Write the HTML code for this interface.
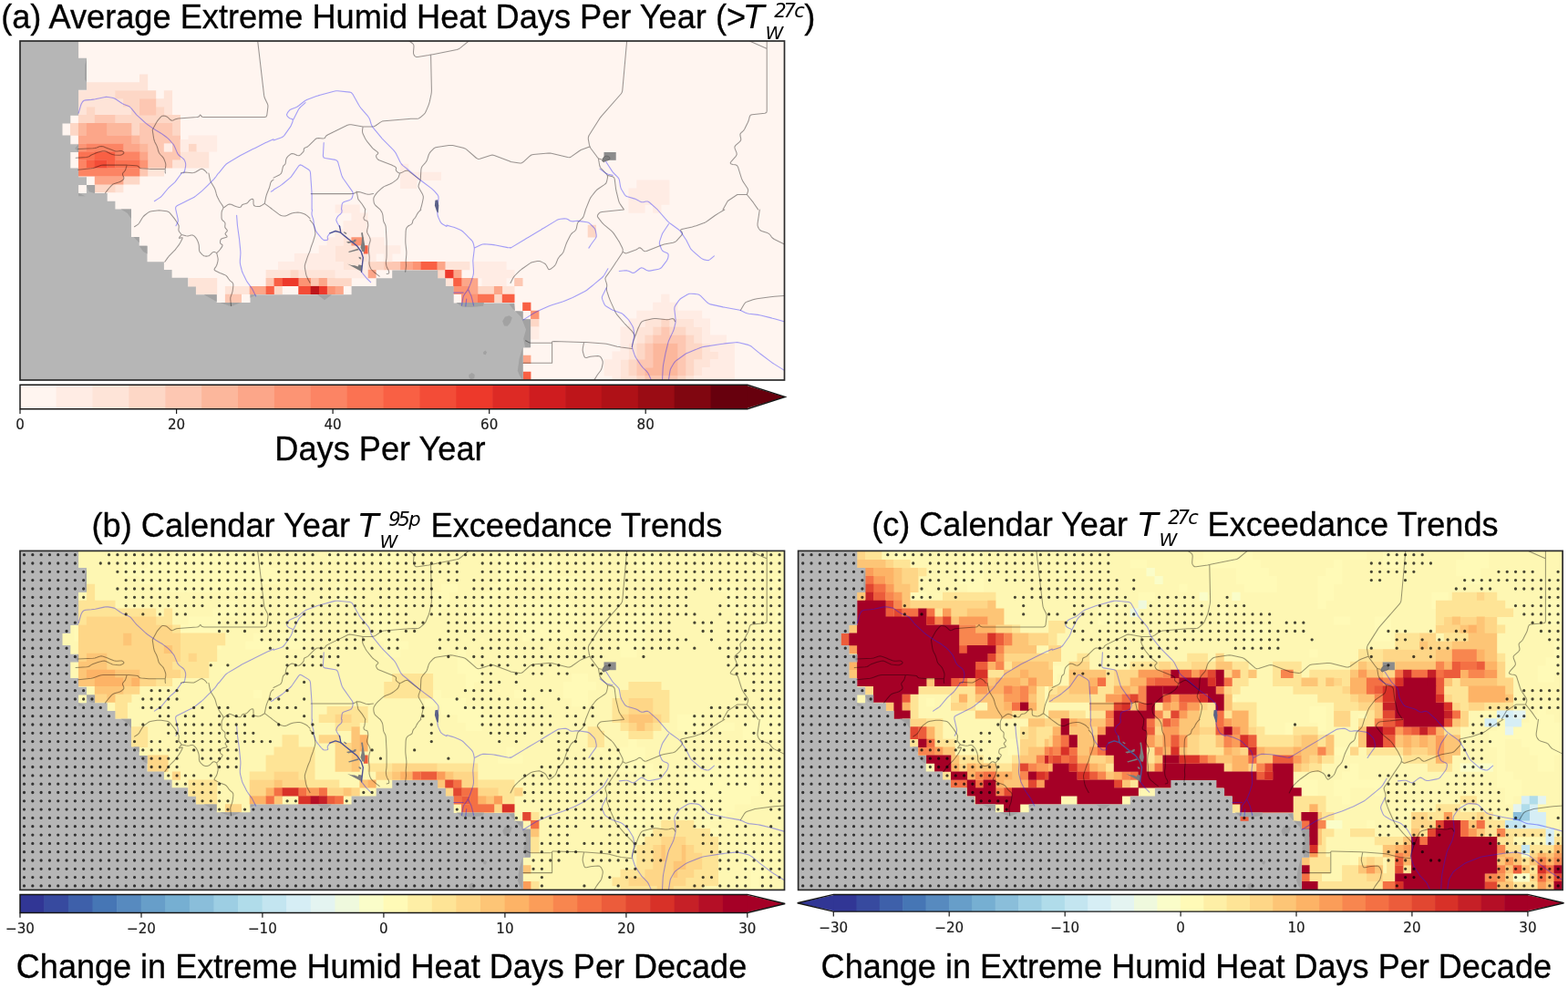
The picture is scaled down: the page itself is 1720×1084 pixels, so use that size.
<!DOCTYPE html>
<html lang="en"><head><meta charset="utf-8"><title>Extreme humid heat days</title>
<style>
html,body{margin:0;padding:0;background:#fff}
svg{display:block}
.t{font-family:"Liberation Sans",Arial,Helvetica,sans-serif;font-size:36.2px;fill:#000;stroke:#000;stroke-width:.3px}
.m{font-family:"DejaVu Sans","Liberation Sans",sans-serif;font-style:italic;fill:#000;stroke:none}
.k{font-family:"DejaVu Sans","Liberation Sans",sans-serif;font-size:15.1px;fill:#1c1c1c;stroke:#1c1c1c;stroke-width:.2px;text-anchor:middle}
.fr{fill:none;stroke:#2b2b2b;stroke-width:1.7}
.oc{fill:#b6b6b6}
.bd{fill:none;stroke:#000;stroke-opacity:.4;stroke-width:1.05;stroke-linejoin:round;stroke-linecap:round}
.rv{fill:none;stroke:#1a1aff;stroke-opacity:.4;stroke-width:1.1;stroke-linejoin:round;stroke-linecap:round}
.dt{fill:none;stroke:#000;stroke-opacity:.72;stroke-width:3.3;stroke-linecap:round}
</style></head><body>
<svg width="1720" height="1084" viewBox="0 0 1720 1084">
<rect width="1720" height="1084" fill="#fff"/>
<defs><clipPath id="cp"><rect x="22" y="45" width="838.5" height="372"/></clipPath></defs>
<text class="t" x="1.2" y="31.2">(a) Average Extreme Humid Heat Days Per Year (&gt;<tspan class="m" x="816.5" y="31.2" font-size="36">T</tspan><tspan class="m" x="839.5" y="42.5" font-size="20">W</tspan><tspan class="m" x="849.3 859.5 871.3" y="18.7" font-size="21">27c</tspan><tspan x="882.3" y="31.2">)</tspan></text>
<text class="t" x="100.5" y="589.2">(b) Calendar Year <tspan class="m" x="393.5" y="589.2" font-size="36">T</tspan><tspan class="m" x="416.5" y="600.5" font-size="20">W</tspan><tspan class="m" x="426.3 436.5 448.3" y="576.7" font-size="21">95p</tspan><tspan x="472.5" y="589.2">Exceedance Trends</tspan></text>
<text class="t" style="font-size:36.1px" x="956.2" y="587.8">(c) Calendar Year <tspan class="m" x="1248.5" y="587.8" font-size="36">T</tspan><tspan class="m" x="1271.5" y="599.1" font-size="20">W</tspan><tspan class="m" x="1281.3 1291.5 1303.3" y="575.3" font-size="21">27c</tspan><tspan x="1324.6" y="587.8">Exceedance Trends</tspan></text>
<text class="t" x="301.3" y="505.3">Days Per Year</text>
<text class="t" style="font-size:36.05px" x="17.8" y="1073.2">Change in Extreme Humid Heat Days Per Decade</text>
<text class="t" style="font-size:36.05px" x="900.6" y="1073.2">Change in Extreme Humid Heat Days Per Decade</text>
<g id="map-a" transform="translate(0,0)">
<g clip-path="url(#cp)">
<rect x="22" y="45" width="838.5" height="372" fill="#fff5f0"/>
<path fill="#fee4d8" d="M85.9,117.2H95.2V126.4H85.9ZM85.9,99.3H126.5V108.5H85.9ZM85.9,108.2H135.4V117.5H85.9ZM94.9,90.3H162.2V99.6H94.9ZM103.8,117.2H144.4V126.4H103.8ZM126.2,202.1H135.4V211.3H126.2ZM153,81.4H162.2V90.6H153ZM161.9,184.2H180.1V193.5H161.9ZM170.9,108.2H189.1V117.5H170.9ZM179.8,99.3H189.1V108.5H179.8ZM179.8,117.2H189.1V126.4H179.8ZM188.8,175.3H229.3V184.5H188.8ZM197.7,166.3H229.3V175.6H197.7ZM206.6,304.9H238.2V323.1H206.6ZM246.9,313.9H274V323.1H246.9ZM291.6,296H318.7V305.2H291.6ZM327.3,296H367.9V305.2H327.3ZM367.6,269.2H394.7V278.4H367.6ZM367.6,278.1H403.6V287.3H367.6ZM376.5,260.2H385.7V269.4H376.5ZM376.5,287H394.7V296.3H376.5ZM488.2,304.9H497.5V314.1H488.2ZM488.2,287H515.4V296.3H488.2ZM550.8,313.9H564.5V323.1H550.8ZM680.5,394.3H689.7V412.5H680.5ZM680.5,412.2H698.6V418.1H680.5ZM689.4,376.4H698.6V394.6H689.4ZM698.3,367.5H707.6V376.7H698.3ZM698.3,358.6H716.5V367.8H698.3ZM707.3,349.6H725.5V358.8H707.3ZM734.1,349.6H761.2V358.8H734.1ZM752,412.2H761.2V418.1H752ZM752,358.6H770.2V367.8H752ZM760.9,367.5H770.2V376.7H760.9ZM760.9,403.2H770.2V412.5H760.9ZM760.9,394.3H779.1V403.5H760.9ZM769.9,376.4H779.1V385.7H769.9ZM769.9,385.4H788V394.6H769.9Z"/>
<path fill="#fdd7c6" d="M77,135H86.2V148.8H77ZM85.9,126.1H104.1V135.3H85.9ZM94.9,117.2H104.1V126.4H94.9ZM103.8,202.1H126.5V211.3H103.8ZM126.2,99.3H171.2V108.5H126.2ZM126.2,126.1H198V135.3H126.2ZM135.1,108.2H153.3V117.5H135.1ZM135.1,193.2H153.3V202.4H135.1ZM144.1,117.2H153.3V126.4H144.1ZM144.1,135H153.3V148.8H144.1ZM170.9,117.2H180.1V126.4H170.9ZM188.8,135H198V148.8H188.8ZM206.6,157.4H215.9V166.6H206.6ZM300.5,313.9H309.8V323.1H300.5ZM318.4,296H327.6V305.2H318.4ZM358.6,304.9H385.7V314.1H358.6ZM403.3,287H421.5V296.3H403.3ZM479.3,296H488.5V305.2H479.3ZM524,313.9H542.2V323.1H524ZM541.9,322.8H551.1V332H541.9ZM582.1,349.6H591.4V358.8H582.1ZM644.7,246.8H653.9V260.5H644.7ZM689.4,394.3H698.6V412.5H689.4ZM698.3,376.4H707.6V394.6H698.3ZM698.3,412.2H707.6V418.1H698.3ZM707.3,367.5H716.5V376.7H707.3ZM716.2,358.6H725.5V367.8H716.2ZM725.2,349.6H734.4V358.8H725.2ZM734.1,358.6H752.3V367.8H734.1ZM743,412.2H752.3V418.1H743ZM752,367.5H761.2V376.7H752ZM752,394.3H761.2V412.5H752ZM752,376.4H770.2V394.6H752Z"/>
<path fill="#fdc7b2" d="M103.8,126.1H126.5V135.3H103.8ZM153,184.2H162.2V193.5H153ZM153,108.2H171.2V126.4H153ZM153,135H189.1V148.8H153ZM153,148.5H198V157.7H153ZM161.9,157.4H180.1V166.6H161.9ZM161.9,175.3H189.1V184.5H161.9ZM161.9,166.3H198V175.6H161.9ZM188.8,157.4H198V166.6H188.8ZM246.9,322.8H265V332H246.9ZM291.6,304.9H300.8V314.1H291.6ZM340.7,304.9H350V314.1H340.7ZM421.2,287H439.4V296.3H421.2ZM564.2,304.9H573.5V314.1H564.2ZM698.3,403.2H707.6V412.5H698.3ZM698.3,394.3H716.5V403.5H698.3ZM707.3,376.4H716.5V394.6H707.3ZM707.3,412.2H743.3V418.1H707.3ZM716.2,367.5H752.3V376.7H716.2ZM725.2,358.6H734.4V367.8H725.2ZM743,376.4H752.3V412.5H743Z"/>
<path fill="#fcb79c" d="M85.9,135H95.2V148.8H85.9ZM117.2,135H144.4V148.8H117.2ZM144.1,148.5H153.3V157.7H144.1ZM153,157.4H162.2V166.6H153ZM707.3,403.2H743.3V412.5H707.3ZM716.2,376.4H743.3V403.5H716.2Z"/>
<path fill="#fca689" d="M85.9,148.5H144.4V157.7H85.9ZM94.9,135H117.5V148.8H94.9ZM103.8,193.2H135.4V202.4H103.8ZM135.1,157.4H153.3V166.6H135.1ZM153,166.3H162.2V175.6H153ZM273.7,313.9H291.9V323.1H273.7ZM349.7,304.9H358.9V314.1H349.7ZM367.6,313.9H376.8V323.1H367.6ZM403.3,296H412.6V305.2H403.3ZM439.1,287H452.8V296.3H439.1ZM479.3,287H488.5V296.3H479.3ZM497.2,296H506.4V305.2H497.2ZM506.1,304.9H524.3V314.1H506.1ZM515.1,313.9H524.3V323.1H515.1ZM541.9,313.9H551.1V323.1H541.9ZM573.2,389.8H582.4V399.1H573.2Z"/>
<path fill="#ffece4" d="M63.6,152.9H77.3V157.7H63.6ZM63.6,166.3H77.3V180H63.6ZM63.6,157.4H86.2V166.6H63.6ZM72.5,148.5H77.3V153.2H72.5ZM179.8,157.4H189.1V166.6H179.8ZM197.7,157.4H206.9V166.6H197.7ZM197.7,152.9H238.2V157.7H197.7ZM206.6,148.5H238.2V153.2H206.6ZM215.6,157.4H238.2V166.6H215.6ZM305,287H376.8V296.3H305ZM322.9,278.1H367.9V287.3H322.9ZM349.7,269.2H367.9V278.4H349.7ZM358.6,260.2H376.8V269.4H358.6ZM367.6,224.4H394.7V233.7H367.6ZM367.6,251.3H403.6V260.5H367.6ZM367.6,296H403.6V305.2H367.6ZM376.5,242.3H403.6V251.6H376.5ZM385.4,233.4H403.6V242.6H385.4ZM394.4,269.2H399.1V278.4H394.4ZM394.4,287H403.6V296.3H394.4ZM398.9,260.2H421.5V269.4H398.9ZM403.3,278.1H412.6V287.3H403.3ZM403.3,269.2H439.4V278.4H403.3ZM421.2,278.1H430.4V287.3H421.2ZM439.1,179.7H448.3V189H439.1ZM439.1,197.6H457.3V206.9H439.1ZM439.1,188.7H484.1V197.9H439.1ZM519.5,287H555.6V296.3H519.5ZM519.5,296H564.5V305.2H519.5ZM528.5,304.9H555.6V314.1H528.5ZM582.1,358.6H591.4V372.3H582.1ZM662.6,394.3H680.8V412.5H662.6ZM671.5,412.2H680.8V418.1H671.5ZM671.5,385.4H689.7V394.6H671.5ZM680.5,376.4H689.7V385.7H680.5ZM680.5,358.6H698.6V376.7H680.5ZM689.4,224.4H707.6V233.7H689.4ZM689.4,349.6H707.6V358.8H689.4ZM689.4,206.6H734.4V224.8H689.4ZM698.3,197.6H734.4V206.9H698.3ZM698.3,340.7H770.2V349.9H698.3ZM716.2,224.4H725.5V233.7H716.2ZM716.2,331.7H743.3V341H716.2ZM725.2,322.8H734.4V332H725.2ZM760.9,349.6H779.1V358.8H760.9ZM760.9,412.2H805.9V418.1H760.9ZM769.9,358.6H779.1V367.8H769.9ZM769.9,367.5H797V376.7H769.9ZM769.9,403.2H805.9V412.5H769.9ZM778.8,376.4H805.9V385.7H778.8ZM778.8,394.3H805.9V403.5H778.8ZM787.7,385.4H805.9V394.6H787.7Z"/>
<path fill="#fc9474" d="M85.9,157.4H95.2V166.6H85.9ZM153,175.3H162.2V184.5H153ZM327.3,304.9H341V314.1H327.3ZM358.6,313.9H367.9V323.1H358.6ZM385.4,260.2H399.1V269.4H385.4ZM452.5,287H461.7V296.3H452.5ZM497.2,313.9H515.4V323.1H497.2ZM506.1,322.8H524.3V332H506.1ZM582.1,340.7H591.4V349.9H582.1Z"/>
<path fill="#fc8464" d="M85.9,175.3H95.2V184.5H85.9ZM85.9,184.2H153.3V193.5H85.9ZM94.9,157.4H135.4V166.6H94.9ZM126.2,166.3H153.3V175.6H126.2Z"/>
<path fill="#fb7252" d="M85.9,166.3H104.1V175.6H85.9ZM126.2,175.3H153.3V184.5H126.2ZM524,322.8H542.2V332H524Z"/>
<path fill="#f96044" d="M94.9,175.3H104.1V184.5H94.9ZM103.8,166.3H126.5V175.6H103.8ZM117.2,175.3H126.5V184.5H117.2ZM291.6,313.9H300.8V323.1H291.6ZM300.5,304.9H309.8V314.1H300.5ZM398.9,269.2H403.6V278.4H398.9ZM461.4,287H479.6V296.3H461.4ZM497.2,304.9H506.4V314.1H497.2ZM550.8,322.8H564.5V332H550.8ZM573.2,331.7H582.4V341H573.2ZM573.2,407.7H582.4V417H573.2Z"/>
<path fill="#f34c37" d="M103.8,175.3H117.5V184.5H103.8ZM327.3,313.9H341V323.1H327.3Z"/>
<path fill="#ed392b" d="M309.5,304.9H327.6V314.1H309.5ZM349.7,313.9H358.9V323.1H349.7ZM488.2,296H497.5V305.2H488.2Z"/>
<path fill="#be151a" d="M340.7,313.9H350V323.1H340.7Z"/>
<path class="oc" d="M20,45 H86.1 V63.7 H95 V98.7 H86.1 V126.7 H77.3 V135.5 H68.5 V148.6 H77.3 V158.3 H86.1 V167 H77.3 V184.6 H86.1 V194.3 H95 V203.1 H86.1 V211.9 H94.9 V203.1 H103.7 V211.9 H117.7 V220.7 H126.4 V229.4 H144 V260.1 H152.7 V269.7 H161.5 V287.2 H179.9 V296 H188.6 V304.8 H206.2 V314.4 H214.9 V323.2 H237.7 V331.9 H274.5 V323.2 H385.6 V314.1 H412.7 V305.3 H430.2 V296.6 H480.2 V305.3 H488.9 V314.1 H497.7 V332.5 H564.3 V341.3 H573.9 V350 H581.8 V381.6 H573.9 V417 H20 Z"/>
<path d="M564.1,332.9L565,341.2L573.3,342.1L573.3,350.4L582.1,350.4L582.1,380.9L576.1,380.9L574.2,371.7L577,361.5L571.5,347.7L562.3,338.5L558.6,333.8ZM573.3,380.9L569.6,393.8L567.8,406.7L570.1,412.3L573.3,416.9ZM500.4,332L530.9,332L530,335.7L518,337.1L506.9,336.6ZM551.2,352.3L553.9,347.7L558.6,346.3L561.8,348.6L559.9,354.1L556.7,357.8L553,357.4ZM530,386.4L532.3,384.6L534.1,386.4L532.7,389.2L530.4,388.7ZM514.3,411.3L517.5,409L520.7,410.9L520.3,415L516.6,416.4L514.3,414.1ZM132.6,229.4L144,229.4L144,239.9L139.6,233.8ZM146.6,260.1L152.7,260.1L152.7,266.2ZM152.7,269.7L161.5,269.7L161.5,278.5L157.1,275.9ZM223.7,323.2L237.7,323.2L237.7,331.1ZM274.5,323.2L281.5,323.2L274.5,326.7ZM241.2,331.9L264,331.9L253.5,336.3ZM348.1,323.2L363.9,323.2L356,329.3ZM94.9,204L102.8,204L103.7,211.9L97.5,210.2ZM95,64.5L95,89.9L93.1,87.3L93.2,71.5ZM86.1,158.3L86.1,167L82.2,162.7ZM95,203L104.1,203L104.1,211.7L98.9,210.8ZM86.1,211.7L86.1,215.2L93.6,215.2Z" fill="#a2a2a2"/>
<path class="bd" d="M448.1,44.4L452.4,47.5L453.7,49L454,51L453.5,57.1L453.6,59L454.2,60.4L455.1,61.6L456.3,62.4L458.1,62.4L470.4,60.5L472.6,60.1L474.8,59.7L501.1,54.4L503.1,53.8L504.9,52.6L513.8,45.3M472.6,60.2L473.4,99.1L473.3,101.3L473,103.5L471.3,111.4L470.7,113.6L470,115.6L467.3,122.1L466.3,124L464.8,125.6L461.1,128.8L459.3,129.9L457.3,130.2L452.9,130.2L450.7,130.3L448.5,130.4L421.3,132.7L419.2,133.1L417.3,134.1L412.2,137.7L410.3,138.7L408.2,139L398.1,139M398.1,139L385.4,136.8L383.3,136.7L381.2,137.3L359.8,147.7L358.2,148.7L357.2,149.8L356.6,151L355.7,151.8L353.9,151.9L349.5,151.5L347.5,151.7L345.8,152.8L339.2,159.3L337.7,160.7L336.2,161.5L334.7,162.1L333.7,162.8L333.3,163.8L333.3,165L332.9,166.3L331.7,167.7L329.6,169.9L327.9,170.8L326,170.5L322.2,168.8L320.2,168.5L318.5,169.3L315.7,171.7L314.4,173.4L313.7,175.4L313.4,178L313,179.8L312.3,180.8L311.4,181.4L310.6,182.3L310.1,184.1L309.2,188.5L308.4,190.4L306.8,191.7L300,195.1M398.1,139L397.5,143.1L397.6,145.1L398.2,147.1L400.6,151.9L401.7,153.8L403,155.6L407.3,160.9L408.7,162.6L410.4,164L413.9,166.6L414.9,167.8L414.5,168.8L413.3,169.7L412.6,170.7L412.7,172L413.3,173.5L414.3,174.8L415.9,175.7L427.6,180.3L429.6,181.1L431.4,181.9L433.2,182.8L434.4,183.8L434.6,184.8L434.3,186L434.5,187.2L435.5,188.3L437,189.5L438.5,190.1L440.3,189.6L444.4,187.4L446.3,186.9L448.1,187.6L461.2,197.7M438.4,190.7L437.3,194.2L436.4,195.8L434.9,197.3L431.4,199.9L429.6,201.1L427.6,202L422.9,203.9L421,204.9L419.2,206.2L415.6,209.4L414,210.9L412.6,212.6L410.8,215.2L409.9,217.1L409.8,219.2L410.1,221.8L410.7,223.8L412,225.5L417,229.9M461.2,197.7L461.9,185.9L462.4,183.8L463.5,182L466.8,178.3L468,176.6L468.8,174.6L470.2,170L471.1,168.1L472.4,166.4L475.4,163.3L477.1,162.1L479.2,161.5L492.3,159.5L494.5,159.4L496.6,159.6L508.1,162.2L510.1,162.9L511.9,164.1L522.6,173.5L524.4,174.4L526.4,174.2L538,170.4L540,170L542.1,170.5L560,177.3M461.2,197.7L459.3,202.7L459,204.7L459.7,206.6L463.6,213.3L464.3,215.3L464.3,217.4L463.4,221.8L462.9,223.9L462.4,226L461.2,229.9M341.2,212.6L385.4,212.6L387.5,212.4L389.3,211.7L391.1,210.8L393,210.4L395,210.7L401.3,212.8L403.4,213.2L405.4,213.2L409.5,212.6M391.1,210L392.9,218.7L397.2,224L400.9,229.9M687.6,45.3L682.8,99.1L682.3,101.2L681.2,103L659.6,127.7L658.2,129.4L657,131.2L646.1,148.5L645.4,150.5L645.3,152.6L646.4,158.7L647,160.8L648,162.7L655.1,172.3L656.3,173.7L657.5,174.3L659.9,174.9M560,177.6L570.1,179L572.1,178.9L573.9,177.8L581.2,171.2L582.9,170L585,169.5L601.6,168.1L603.8,168.1L605.9,168.4L622.7,172.6L624.7,172.7L626.6,171.9L635.3,165.7L637.2,164.5L639.2,163.7L646.7,160.9M656.4,174L657.7,181.5L658.4,183.5L659.7,185.2L665.3,190.9L666.4,192.6L666.5,194.6L665.6,199L664.8,201L663.3,202.4L656.5,207L654.7,208.3L653.2,209.9L649,215.3L647.7,217.1L646.8,219L642.4,229.9M666.9,192.4L671.8,193.7L673.4,194.6L674.2,196.4L675.4,206L675.7,208.2L676.2,210.3L678.6,220.1L679.3,222.2L680.4,224.1L684.4,229.9M841.2,45.3L841.2,121.9L840.7,123.6L839,124.3L825,125.7L823.2,126.3L822.3,128L821.6,130.7L821,132.8L820.1,134.8L816.8,141.4L815.7,143.2L814.4,144.5L812.9,145.7L811.9,147.1L812,149L812.7,151.8L812.7,153.7L811.6,155.4L807,159.4L805.9,161L806.1,162.9L808,167.6L808.2,169.6L807.3,171.3L802.4,176.8L801.4,178.2L801.2,179L801.5,179.6L802.3,180.1L804,180.5L806.6,180.8L808.4,181.5L809.5,183.2L813.4,195.6L814.2,197.6L815.2,199.4L816.4,201.2L817.6,203L818.7,204.7L819.9,206.5L820.6,208.2L820.5,209.9L819.3,213.5M819.3,213.5L808.8,213.5L798.3,220.5L793,229.9M819.3,213.5L826.3,222.2L831.6,229.9M822.8,45.3L840.4,53.1L841.2,53.1M642.4,230L640.4,236.7L639.5,238.6L638.1,240.2L635.3,242.6L633.9,244.2L633.2,246.2L632.3,250.6L631.5,252.5L630.1,253.9L628.3,255.1L626.8,256.5L625.6,258.3L622.3,264.8L621.4,266.8L620.6,268.9L618.5,275.2L617.6,277.2L616.3,278.9L614.1,281L612.8,282.7L611.7,284.6L609.9,289.3L608.8,291.1L607.3,292.6L603.8,295.3L602.2,295.8L601.1,294.6L599.5,291.5L598.3,289.8L596.6,288.6L593.5,287.1L591.5,286.4L589.4,286.5L584.9,287.4L582.9,288L581,289.1L572.3,295.3L570.6,296.7L569,298.1L565.1,302L563.6,303.7L562.5,305.6L560,310.6M684.4,230L660.3,232.4L658.4,232.9L657,234.1L655.8,235.6L655.3,237.1L656,238.7L660.3,244.1L661.7,245.7L663.3,247.2L670.5,253.1L672,254.6L673.4,256.4L677.9,263.2L679.1,265.1L680.1,267L682.5,271.8L683.2,273.6L683.2,275L682.7,277.3M683.5,276.4L685.3,277.6L686.5,277.9L688.2,277.4L696.4,274.5L698.2,273.8L699.6,272.9L700.8,272L702,271.8L703.5,272.7L705.6,274.9L707.3,275.8L709.2,275.6L724.4,269.4L726.5,268.7L728.6,268.1L738.3,266.3L740.3,265.6L742,264.3L747.8,257.9L748.6,256.3L748.1,254.8L746.9,253.3L746.6,252.1L747.9,251.4L759.4,248.9L761.5,248.3L763.6,247.7L771.7,244.8L773.7,243.9L775.6,242.7L784.2,236.5L786.1,235.3L787.9,234.1L794.8,230M682.7,277.3L676.9,286L675.6,287.8L674.4,289.7L669.9,296.5L668.6,298.3L667.3,300.1L664.7,303.6L663.9,305.4L664.2,307.4L665.2,310.3L665.7,312.3L665.7,314.1L665.4,315.9L665.4,317.7L665.8,319.7L667.9,326L668.7,328.1L669.5,330.1L674.8,341.9L675.8,343.8L677.1,345.6L684.7,354.5L686.2,356.1L687.7,357.7L691.6,361.6L693.1,363.2L694.3,364.9L695.5,366.7L696.2,368.4L696.1,370.2L695.5,371.9L694.9,373.8L694.4,375.8L693.2,380.7M694.9,373.7L699.4,361.7L700.2,359.7L701.2,357.7L702.7,354.6L704,353L705.8,352.1L715.6,349.7L717.7,349.4L719.9,349.4L729.5,350.6L731.7,350.7L733.9,350.4L736.6,349.7L738.3,349.6L739.3,350.3L740.5,352.7M812.3,340.4L816.4,333.5L817.8,331.9L819.7,330.9L826,328.8L828.1,328.2L830.3,327.8L845.2,325.8L847.4,325.5L849.6,325.3L860,324.6M833.3,230L831,245.3L831,247.4L831.6,249.3L832.5,251L833.7,252.5L835.4,253.5L841.8,255.6L843.6,256.5L845,258L846.2,259.8L847.6,261.3L849.3,262.5L860,267.7M576.6,373.7L579.6,375.4L581.2,376.1L583.2,376.3L603.4,376.3L605,376.2L605.6,375.7L605.6,375.1L606.1,374.7L607.8,374.6L638.4,375.4L640.6,375.5L642.8,375.6L662.9,377L665.1,377.3L667.3,377.7L677,380.2L679.2,380.6L681.3,381L693.2,382.4M605.6,376.3L605.6,398.2L574,398.2M640.6,375.4L639.3,382L639.1,384.2L639.5,386.3L640.8,390.9L641.8,392.3L643.5,392.4L645.6,391.8L647.7,391.3L649.8,391L655.9,390.5L657.8,390.9L659.2,392.2L660.5,394.6L661.2,396.5L661.2,398.6L660.3,403.1L659.7,405.1L658.6,407L655.9,410.5L654.7,412.2L653.8,413.7L652,416.6M167.2,142.5L171.4,134.8L172.5,132.9L173.9,131.2L176.3,128.4L177.8,127.2L179.4,127L181.2,127.3L182.9,127.9L184.5,129.2L186.7,131.3L188.3,132.3L189.9,132L191.7,131.1L193.6,130.4L195.7,130.1L215.8,128.6L217.6,128.3L218.6,127.5L219.2,126.5L219.8,126L220.3,126.5L220.9,127.5L221.9,128.2L223.7,128.5L290.3,128.5L292,127.9L292.8,126.3L293.9,117.5L293.9,115.4L293.2,113.4L290.8,108.6L290,106.5L289.6,104.4L282.8,46.1M167.2,142.5L168.6,151.7L169.1,153.8L169.9,155.9L171.5,158.9L172.3,160.9L173,163L173.7,165.8L174.5,167.8L175.8,169.5L177.9,171.6L179.3,173.3L180.2,175.2L181.3,178.1L181.8,180.1L181.8,181.9L181.2,185.4M85.7,163.5L101.9,162.8L104.1,162.5L106.2,161.9L109.1,160.8L111.1,160.4L113.2,160.8L116.1,161.9L118.1,162.7L120.2,163.5L124.8,165.3L126.9,165.9L129.1,165.9L131.7,165.6L133.6,165.6L134.8,166.2L135.7,167L135.9,167.9L135.1,168.8L133.6,169.7L132,170.3L130,170.3L125.6,169.9L123.4,169.5L121.4,168.7L116.6,166.3L114.6,165.7L112.5,165.8L109.7,166.5L107.6,167.1L105.6,167.8L102.7,168.9L100.8,169.7L99.4,170.5L98.3,171.4L96.8,172.1L94.9,172.4L83.1,173.2M85.7,186.3L100.2,184.8L102.3,184.4L104.4,183.7L109.1,181.9L111.2,181.3L113.3,181.1L137,181.1L139.2,181.1L141.3,181.2L149.2,181.8L151,182.1L152,182.8L152.6,183.7L153.6,184.4L155.4,184.7L163.2,185.3L165.4,185.4L167.6,185.4L181.2,185.4M139.2,181.1L138,185.2L137.3,187L136.2,188.3L135.1,189.5L134.4,190.8L134.8,192.4L135.7,194.2L135.9,195.8L135.1,197.1L133.6,198.3L132,199.3L130,200.1L125.5,201.4L123.6,202.3L122,203.8L119.6,206.5L118.3,208.1L117.3,209.4L115.5,211.7M181.2,185.4L181.2,189L181.5,190M198.4,190L198.5,189.9L200.5,189.2L202.7,189.1L210.6,189.7L212.7,189.5L214.6,188.7L219.6,185.7L221.5,185.2L223.2,186L225.1,187.5L226.5,189.1L227,190M147.5,248.7L150.4,246.9L151.8,245.8L153,244.2L156,239.2L157.3,237.5L158.9,236L162.3,233.4L164.2,232.3L166.3,231.8L172.4,230.9L174.6,230.8L176.8,230.9L183,231.8L184.9,232.4L186.5,233.8L190.8,239.1L192.1,240.9L193.3,242.7L195.4,246L196.2,247.8L196.2,249.6L195.9,251.3L196,253L196.8,254.5L199.2,257.5M199.2,257.5L196.8,260.4L196.4,261.3L197.4,261.3L199.2,260.7L200.2,260.7L199.9,262.1L198.4,265.1L197.3,267L196.1,268.9L193.5,272.3L192.1,274.1L190.6,275.7L186.7,279.6L185.2,281.2L183.9,282.9L180.8,287.2M199.2,257.5L204,258.7L206.1,258.9L207.9,258.6L209.7,258L211.3,258L212.9,258.9L214.4,260.4L215.6,262L216.6,263.9L217.7,266.8L218.2,268.9L218.4,271.1L218.4,273.7L218.8,275.7L220,277.4L222.1,279.6L223.7,280.7L225.4,281.1L227.2,281.1L228.9,280.7L230.5,279.6L232.6,277.4L234.1,276.4L235.4,276.4L237.7,277.6M228.9,190L230.3,196.6L230.9,198.7L231.8,200.6L234.8,205.6L235.8,207.6L236.5,209.7L237.2,212.4L237.8,214.5L238.7,216.5L240.2,219.6L241.3,221.5L242.5,223.3L244.3,225.9L245,227.6L244.7,229.1L243.8,230.6L243.2,232.2L243,234.3L243,238.6L243.3,240.6L244.4,242L245.9,243.2L246.9,244.5L247,246.1L246.8,247.8L246.8,249.4L247.6,250.7L248.8,251.9L249.4,253.1L248.8,254.2L247.6,255.4L247,256.6L247.6,257.7L248.8,258.9L249.1,259.9L247.8,260.6L244.2,261.4L242.5,262.2L241.8,263.6L241.5,265.4L241.6,266.8L242.4,267.7L243.6,268.3L244.1,269.1L243.6,270.6L242.4,272.4L241.2,274L240,275.3L237.7,277.6M237.7,277.6L238.9,282.5L239.2,284.6L238.9,286.8L238.2,289.5L237.5,291.5L236.5,293.1L235.4,294.6L235,295.9L236.2,297L239.2,298.5L241.2,299.5L243.3,300.3L246.2,301.4L248,302.4L249.4,303.9L250.6,305.7L251.8,307.3L253.2,308.6L254.7,309.7L255.7,311.2L255.9,313.1L255.4,317.5L255.1,319.6L254.5,321.7L253.4,324.6L252.8,326.7L252.8,328.9L253.5,335.4M245.6,227.7L249.9,224.6L251.8,223.9L253.7,224.3L256.8,225.8L258.7,226.6L260.5,227.1L262.2,227.4L263.7,227.3L264.6,226.5L265.2,225.3L266,224.4L267.5,223.9L269.3,223.6L270.8,223L272.1,221.8L273.3,220.4L274.5,219.2L275.7,218.6L276.8,218.3L277.7,218.7L278,220.2L278,223.7L278.5,225.4L280.2,226.2L282.8,226.5L284.9,226.4L286.7,225.6L290.3,223.3M290.3,223.3L291.6,216.7L292.1,214.6L292.8,212.5L294.7,207.8L295.5,205.7L296.1,203.6L296.7,200.9L297.6,199L299.2,197.6L300,197.1M290.3,223.3L295.5,227.2L297.3,228.5L299,229.9L306,235.1L307.8,236.2L309.5,236.7L311.3,237L313.1,237L315,236.3L318.1,234.8L320.1,234L322.2,233.6L326.6,233.1L328.8,233.2L330.9,233.7L333.8,234.8L335.7,235.8L337.4,237.1L340,239.7M340,275.5L338.4,279.1L337.6,281.1L336.9,283.2L334.8,289.5L334.3,291.7L334.4,293.8L335.5,300L336,302.1L336.8,304.1L338.3,307.2L339.4,309.1L340,310.2M400.5,230L400.2,234.8L399.9,236.6L399.6,237.6L399.1,238.2L398.9,238.8L399,239.6L399.3,240.5L399.8,241.2L400.7,241.7L401.9,242L402.9,242.6L403.4,244L403.7,245.8L403.8,247.6L403.4,249.7L402.7,252.4L402.6,254.4L403.1,256L404,257.5L404.8,258.9L405.4,260.4L406,261.8L406.3,263.4L406,265L405.4,266.8L404.9,268.7L404.7,270.7L404.5,273.4L404.5,275.6L404.7,277.7L405,280.4L405.2,282.6L405.1,284.8L405,287.4L405,289.5L405.4,291.3L406,293.1L406.7,294.7L407.7,296L408.9,297.2L410.2,298.3L411.5,299.5L413,300.7L414.3,301.7L415.1,302.3L416.2,303.2M417.1,230L418.9,232.9L419.6,234.6L420,236.6L420.4,241L420.8,243L421.5,244.6L422.4,246.1L423,247.7L423.3,249.7L424,262.9L424.1,265L424.1,267.2L424.1,280.4L424,282.5L423.8,284.3L423.5,286.1L423.4,287.8L423.5,289.6L423.8,291.4L424.3,293L425,294.5L425.9,296L426.5,297.3L426.7,298.3L426.7,299.2L426.5,299.9L425.9,300.2L424.1,300.5M461.8,230L459.4,232.3L458.4,233.6L457.4,235.2L456.5,237L455.7,238.5L454.8,239.6L453.9,240.5L453.2,241.5L452.7,242.8L452.4,244.3L451.8,245.6L450.4,246.6L448.6,247.5L447.2,248.5L446.3,249.6L445.7,250.7L445.3,252.2L445.1,254.1L444.8,262.8L444.8,265L444.9,267.2L445.8,275.1L445.9,277.3L445.8,279.5L445.4,283.9L445.2,286L445.3,287.8L445.4,289.6L445.5,291.4L445.3,293.5L444.7,298.3M340,241.4L343,245L344.1,246.8L344.8,248.8L345.7,254.1L345.9,256.3L345.5,258.4L344.1,262.9L343.5,265L342.7,267.1L341.6,270L341,271.8L340.6,273.2L340,275.6"/>
<path class="rv" d="M300,153.9L308.4,151.1L310.3,150.1L311.8,148.6L318,139.9L319.1,138.1L320,136.1L321.1,133.2L321.3,131.5L320.2,130.5L318.4,129.9L316.9,129.2L315.8,128.2L314.9,127L314.5,125.7L315.2,124.1L316.4,122.3L317.7,120.8L319.6,119.8L324.2,117.9L326.2,117L328,115.7L333.3,111.5L335.1,110.2L337.1,109.3L347,105.6L349.1,104.9L351.2,104.3L366.2,100.2L368.4,99.8L370.5,99.8L383.7,101.1L385.6,101.8L386.9,103.3L393.6,115.2L394.7,117L396.1,118.8L403.7,127.7L404.9,129.5L405.8,131.5L407.1,136L408,138L409.1,139.8L417.8,150.4L419.2,152.1L420.7,153.7L431.6,164.6L433,166.3L434.2,168.1L439.2,178.2L440.4,180L441.9,181.6L447.2,185.8L448.9,187.2L450.6,188.6L459.5,196.3L461.2,197.7L463,199L473.5,206.9L475.1,208.3L476.7,209.9L479.9,213.6L480.9,215.4L481.1,217.4L480.8,220L480.5,222.2L480.2,224.4L479.6,229.9M321.9,131.1L327.1,120.8L328.2,119L329.7,117.4L335,112.7M300,208.2L306.9,204.1L308.7,202.9L310.5,201.5L317.6,195.6L319.2,194.1L320.5,192.4L327.7,182L329.1,180.9L330.8,181.3L338.4,186L339.9,187.4L340.5,189.4L341.9,209.5L342,211.7L342.1,213.9L342.1,229.9M355.2,156.5L354.4,171L354.9,172.7L356.5,173.5L367.9,175.4L369.7,176.2L370.7,177.9L374.7,192.1L375.5,194.1L376.6,196L386.4,209.9L387.2,211.8L387.1,213.9L386.4,216.6L385.5,218.4L383.8,219.4L377.4,221.5L375.8,222.6L375.1,224.4L374.5,229.9M664.3,176.7L671,187.1L672.2,188.9L673.7,190.5L677.6,194.4L678.9,196.1L679.5,198.1L680.5,204.3L681.1,206.4L682,208.3L685,213.3L686.4,214.9L688.3,215.8L696.3,218.1L698.3,218.9L700.2,219.9L701.9,221.1L703.8,221.8L705.8,221.7L708.6,221L710.6,221L712.3,222L721.2,229.9M658.1,185.4L663.4,189.4L665.2,190.5L667.3,191.2L672.1,192.4M560,272.1L575.6,262.7L577.5,261.5L579.4,260.4L593.2,252.2L595,251L596.9,249.9L610.7,241.6L612.6,240.7L614.8,240.3L619.1,239.9L621.2,240L623.1,240.8L624.9,242L626.7,242.8L628.8,242.9L631.4,242.5L633.6,242.4L635.8,242.6L643.7,243.7L645.7,244.3L647.4,245.6L651.3,249.5L652.6,251.2L653.3,253.2L654.2,257.6L654.2,259.7L653.3,261.5L650.7,265L649.4,266.8L648.2,268.5L645.9,272.1M574,350.9L586.2,343.3L588.1,342.2L590,341.2L601.8,336L603.8,335.2L605.9,334.5L615.7,331.4L617.8,330.7L619.8,329.9L628.1,326.4L630.1,325.5L632.1,324.5L640.4,320.3L642.3,319.3L644.1,318L649.4,313.7L651.1,312.3L652.8,310.9L659.9,305L661.5,303.5L662.8,301.7L666.9,294.8M721.2,230L732,242.4L733.6,243.9L735.3,245.3L743.9,251.5L745.6,252.9L747,254.6L751.5,261.5L752.7,263.3L753.7,265.3L757,271.8L758.2,273.7L759.7,275.2L768.6,282.9L770.4,284.1L772.4,284.9L775.1,285.5L777.2,285.6L778.9,284.6L783.4,280.8M733.5,245.8L727.7,254.5L726.6,256.3L725.8,258.4L723.7,264.7L723.3,266.8L723.8,268.8L725.6,273.5L726.8,275.2L728.5,276.3L731.4,277.4L732.9,278.5L733.2,280.2L732.9,282.3L732.3,284.3L731.3,286.1L726,293.1L724.5,294.5L722.5,295.2L712.9,297.1L710.8,297.1L708.8,296.3L705.5,294.2L703.7,293.7L702,294.5L696.6,298.7L694.9,299.5L693,299.1L689.9,297.6L687.9,296.9L685.7,296.8L679.2,297.5M665.1,315.9L660.9,324.4L660.3,326.4L660.7,328.4L662.6,333.1L663.6,334.9L665.3,336.3L670.3,339.3L672.2,340.3L674.2,341.1L680.6,343.2L682.5,344.1L684.2,345.5L688.1,349.3L689.6,351L690.8,352.8L693.8,357.8L694.7,359.7L695.1,361.9L695.6,366.2L695.6,368.4L695.3,370.6L693.6,378.5L693.5,380.7L693.9,382.8L696,389.1L696.8,391.1L697.9,393L702.5,399.9L703.8,401.7L705.2,403.3L709.1,407.2L710.5,408.8L711.6,410.7L714.2,416.6M860,352.7L849.5,349.7L847.4,349.2L845.2,348.6L835.5,346.2L833.3,345.7L831.2,345.4L821.5,344.2L819.4,343.7L817.4,342.9L814.3,341.4L812.3,340.5L810.2,340L795.2,337.3L793.1,336.9L790.9,336.4L779.4,333.9L777.4,333.1L775.7,331.8L768.3,324.4L766.6,323.2L764.6,322.7L758.4,322.2L756.3,322.3L754.3,323.1L747.6,327L745.9,328.3L744.5,329.9L740.9,335.1L740,337L739.8,339.1L741.1,350.5L741.2,352.6L740.8,354.8L739.3,361L738.6,363.1L737.7,365.1L734.5,371.7L733.6,373.7L732.9,375.8L730.5,385.6L730,387.7L729.6,389.9L727.7,399.6L727.4,401.7L727.2,403.9L726.5,416.6M860,406.1L849.2,399.4L847.4,398.2L845.6,396.9L835.1,389L833.4,387.7L831.7,386.3L824.5,380.3L822.7,379.2L820.7,378.4L811,376L808.8,375.6L806.6,375.7L795.2,376.9L793.1,377.2L790.9,377.5L772.4,380.4L770.3,380.8L768.2,381.5L754.8,386.9L752.8,387.8L751,389L742.3,395.2L740.6,396.6L739.3,398.3L736.4,403.3L735.4,405.3L734.9,407.4L733.5,416.6M86.2,124.1L88.6,115.7L89.3,113.8L90.1,112.4L91,111.2L92.2,110.3L94,109.9L100.2,109.4L102.3,109.1L104.5,108.8L114.2,106.7L116.4,106.4L118.6,106.5L123,107.2L125,107.7L126.9,108.7L132.1,112.3L134,113.5L135.9,114.4L140.6,116.3L142.5,117.3L144,118.8L148.3,124.1L149.7,125.8L151.3,127.3L158.6,134L160.2,135.4L162,136.8L167.1,140.4L169,141.6L170.8,142.8L175.8,145.8L177.7,146.9L179.5,148.2L183,150.8L184.6,152.2L186.2,153.8L189.4,157.5L190.7,159.2L191.7,161.2L194.4,167.6L195.5,169.5L197,171L200.5,173.6L201.9,175L202.8,176.7L203.4,178.4L203.7,180.3L203.6,182.3L202.7,186.8L202,188.8L201,190M239.9,190L240.8,188.9L242.2,187.2L246.4,181.9L247.9,180.3L249.7,179L263.4,170.8L265.3,169.7L267.3,168.7L277.4,163.6L279.3,162.7L281.3,161.7L291.4,156.6L293.4,155.7L295.4,154.8L300,152.7M169.4,220.7L174.5,217.4L176.3,216.2L177.8,214.6L183.7,207.5L185.2,205.8L186.8,204.3L190.5,201.1L192.1,199.6L193.4,197.9L199.2,190M193,247.8L194.8,244.3L195.3,242.5L195.2,240.4L192.6,228.9L192.8,227.1L194.1,225.8L200.7,222.5L202.7,221.5L204.6,220.6L211.2,217.3L213.1,216.2L214.9,214.9L220.2,210.6L221.9,209.2L223.5,207.7L227.4,203.8L228.9,202.3L230.5,200.7L234.4,196.8L235.8,195.2L237.1,193.5L239.5,190M259.6,236.4L260.3,245.6L260.5,247.8L260.8,250L261.9,257.9L262.2,260.1L262.5,262.3L263.8,275.4L263.9,277.6L263.8,279.8L263.3,285.9L263.3,288.1L263.6,290.3L265.2,296.5L265.8,298.6L266.7,300.6L270,307.2L271.1,309.1L272.3,310.9L274.9,314.4L276.2,316.2L277.2,318.1L280.6,324.9M297.3,210.2L300,208.8M342.6,230L342,233.5L342,235.3L342.5,237.3L343.2,239.4L343.8,241.4L344.1,243.4L344.2,245.5L344.5,247.5L345.2,249.6L346.2,252.5L347.2,254.4L348.4,256.2L350,258.1L351.3,259.7L352.5,261.1L353.7,262.4L355,263.4L356.6,263.6L358.4,263.4L359.6,263L359.7,262.1L359.3,260.9L359.2,259.8L359.9,258.5L361.9,255.8M375,230L375,232.3L374.7,233.5L373.6,234.7L372.1,235.9L370.8,237.1L369.9,238.5L369.2,239.9L368.8,241.4L369.2,242.8L369.9,244.3L370.7,245.7L371.4,246.8L372.9,248.8M479.3,230L479.9,234.8L480.3,237L481.1,239L482.8,242.9L484,244.7L485.6,246L490,248.4M396.5,298.3L400,302.7L401.4,304.4L402.9,306L406.6,309.7M490,247.1L495.6,248.7L497.7,249.3L499.7,250.1L504.4,252L506.3,253L508,254.3L511.9,258.2L513.5,259.8L515,261.3L517.2,263.5L518.5,265.2L519.3,267.2L519.9,269.9L520.3,272.1L520.2,274.2L519,283.9L518.8,286.1L518.9,288.3L519.5,297.9L519.4,300.1L519,302.2L517.6,306.7L516.9,308.8L516.2,310.9L514.3,315.6L513.3,317.5L512.2,319.4L509.5,322.9L508.5,324.7L507.9,326.8L506.5,335.1M513.5,317.6L516,322.7L516.9,324.7L517.5,326.8L519.6,335.1M508.2,321.1L497.7,321.1M511.7,328.1L510.8,336M520.5,272.1L527.3,268.7L529.3,268L531.4,267.8L539.3,268.4L541.5,268.6L543.7,269L556.9,271.6L559,271.8L560,271.5"/>
<path d="M396.1,255.4L397.8,255L398.9,261.5L399.8,266.8L400.6,271.2L399.8,276.4L397.4,276L395.4,271.6L396.6,266.8L397,260.7Z" fill="#7c7c7c"/>
<path d="M379.9,265.5L389.1,263.7L390.4,265.2L382.1,267Z" fill="#7c7c7c"/>
<path d="M382.1,276L392.6,272.8L393.6,274.3L382.9,277.1Z" fill="#7c7c7c"/>
<path d="M381,289.6L385.6,290.9L389.1,291.2L392.6,292.6L393.6,290.3L397.1,291.3L396.5,297.9Z" fill="#7c7c7c"/>
<path d="M377.5,254.1L380.5,256.1L379.6,257L377.2,255.4Z" fill="#7c7c7c"/>
<path d="M393.4,281.7L396.1,282.6L396.1,284.8L393.9,283.6Z" fill="#7c7c7c"/>
<path d="M387.8,263.3L390.4,262.4L390.8,264.2L388.6,265Z" fill="#7c7c7c"/>
<path d="M361.9,255.8L368,253.5L373.7,255.2L378.6,259.4L385.6,265L391.7,269.9L396.1,276L398.3,282.6L397.4,290.5L396.5,298.3" fill="none" stroke="#4d5296" stroke-width="1.4" stroke-linecap="round" stroke-linejoin="round"/>
<path d="M372.4,248L373.3,251.9L373.7,255.2" fill="none" stroke="#4d5296" stroke-width="1.4" stroke-linecap="round" stroke-linejoin="round"/>
<rect x="662.5" y="167" width="13.2" height="8.8" fill="#8c8c8c"/>
<path d="M660.5,176.5 q0.5,-5 5,-5.5 q4,0.5 3.5,3.5 q-2,2 -5,2 q-1.5,2.5 -3.5,0z" fill="#7d7d7d" stroke="#555" stroke-width=".5"/>
<path d="M477.4,219.8 L480.2,219.3 L481.3,225.4 L480.7,233.7 L479.1,232 L476.9,225.4z" fill="#5b6187"/>
</g>
<rect class="fr" x="22" y="45" width="838.5" height="372"/>
</g>
<g id="map-b" transform="translate(0,559.4)">
<g clip-path="url(#cp)">
<rect x="22" y="45" width="838.5" height="372" fill="#fef7b3"/>
<path fill="#fffab7" d="M20.9,117.2H28.1V126.4H20.9ZM20.9,242.3H28.1V260.5H20.9ZM20.9,403.2H28.1V412.5H20.9ZM20.9,81.4H37.1V117.5H20.9ZM20.9,260.2H37.1V269.4H20.9ZM20.9,412.2H37.1V418.1H20.9ZM20.9,152.9H46V162.2H20.9ZM20.9,269.2H72.8V278.4H20.9ZM27.8,161.9H37.1V171.1H27.8ZM27.8,135H46V153.2H27.8ZM36.8,394.3H46V403.5H36.8ZM36.8,43.9H63.9V45.9H36.8ZM45.7,45.6H55V54.9H45.7ZM45.7,278.1H63.9V287.3H45.7ZM45.7,340.7H63.9V358.8H45.7ZM45.7,260.2H72.8V269.4H45.7ZM54.7,108.2H72.8V117.5H54.7ZM54.7,117.2H81.8V126.4H54.7ZM63.6,99.3H72.8V108.5H63.6ZM81.5,126.1H86.2V144.3H81.5ZM81.5,161.9H86.2V171.1H81.5ZM81.5,367.5H108.6V376.7H81.5ZM90.4,376.4H117.5V385.7H90.4ZM108.3,296H126.5V305.2H108.3ZM126.2,376.4H153.3V385.7H126.2ZM126.2,385.4H162.2V394.6H126.2ZM135.1,54.6H153.3V63.8H135.1ZM135.1,63.5H305.3V72.8H135.1ZM153,313.9H198V323.1H153ZM153,340.7H198V349.9H153ZM153,322.8H206.9V332H153ZM153,72.5H305.3V81.7H153ZM161.9,304.9H171.2V314.1H161.9ZM161.9,349.6H180.1V358.8H161.9ZM161.9,331.7H198V341H161.9ZM161.9,54.6H296.3V63.8H161.9ZM170.9,81.4H287.4V90.6H170.9ZM188.8,45.6H269.5V54.9H188.8ZM197.7,126.1H242.7V135.3H197.7ZM206.6,117.2H242.7V126.4H206.6ZM215.6,322.8H224.8V332H215.6ZM224.5,412.2H242.7V418.1H224.5ZM233.5,43.9H251.6V45.9H233.5ZM233.5,108.2H260.6V117.5H233.5ZM237.9,148.5H242.7V153.2H237.9ZM242.4,170.8H251.6V180H242.4ZM242.4,99.3H260.6V108.5H242.4ZM251.3,349.6H296.3V358.8H251.3ZM260.3,340.7H296.3V349.9H260.3ZM260.3,358.6H296.3V367.8H260.3ZM269.2,385.4H278.5V394.6H269.2ZM269.2,144H332.1V153.2H269.2ZM278.2,135H287.4V144.3H278.2ZM278.2,197.6H287.4V206.9H278.2ZM296,322.8H305.3V332H296ZM305,385.4H332.1V394.6H305ZM305,135H341V144.3H305ZM305,376.4H341V385.7H305ZM309.5,313.9H314.2V323.1H309.5ZM313.9,367.5H385.7V376.7H313.9ZM322.9,117.2H332.1V135.3H322.9ZM322.9,358.6H385.7V367.8H322.9ZM331.8,349.6H341V358.8H331.8ZM331.8,394.3H341V403.5H331.8ZM340.7,403.2H350V412.5H340.7ZM349.7,394.3H367.9V403.5H349.7ZM349.7,43.9H439.4V45.9H349.7ZM358.6,376.4H403.6V385.7H358.6ZM358.6,45.6H439.4V54.9H358.6ZM367.6,81.4H376.8V90.6H367.6ZM367.6,90.3H385.7V99.6H367.6ZM385.4,385.4H412.6V403.5H385.4ZM385.4,403.2H421.5V412.5H385.4ZM394.4,412.2H403.6V418.1H394.4ZM394.4,340.7H439.4V349.9H394.4ZM403.3,108.2H430.4V126.4H403.3ZM412.3,349.6H430.4V358.8H412.3ZM412.3,126.1H439.4V144.3H412.3ZM421.2,54.6H430.4V63.8H421.2ZM421.2,152.9H439.4V162.2H421.2ZM421.2,144H448.3V153.2H421.2ZM448,296H479.6V305.2H448ZM457,313.9H466.2V323.1H457ZM457,304.9H475.1V314.1H457ZM465.9,206.6H510.9V215.8H465.9ZM474.8,108.2H484.1V117.5H474.8ZM474.8,197.6H484.1V206.9H474.8ZM474.8,90.3H493V108.5H474.8ZM483.8,81.4H502V90.6H483.8ZM483.8,215.5H528.8V224.8H483.8ZM492.7,394.3H546.7V403.5H492.7ZM501.7,152.9H510.9V162.2H501.7ZM501.7,161.9H519.8V171.1H501.7ZM501.7,376.4H519.8V385.7H501.7ZM501.7,170.8H528.8V180H501.7ZM501.7,224.4H537.7V233.7H501.7ZM501.7,403.2H537.7V412.5H501.7ZM501.7,385.4H546.7V394.6H501.7ZM510.6,188.7H519.8V197.9H510.6ZM510.6,179.7H528.8V189H510.6ZM510.6,233.4H528.8V242.6H510.6ZM519.5,99.3H546.7V117.5H519.5ZM519.5,340.7H546.7V349.9H519.5ZM519.5,43.9H564.5V45.9H519.5ZM528.5,90.3H546.7V99.6H528.5ZM528.5,117.2H546.7V126.4H528.5ZM537.4,81.4H555.6V90.6H537.4ZM537.4,45.6H573.5V54.9H537.4ZM546.4,72.5H564.5V81.7H546.4ZM546.4,54.6H573.5V72.8H546.4ZM546.4,269.2H573.5V278.4H546.4ZM555.3,260.2H564.5V269.4H555.3ZM564.2,197.6H582.4V206.9H564.2ZM564.2,108.2H636.1V135.3H564.2ZM573.2,206.6H582.4V215.8H573.2ZM573.2,99.3H627.1V108.5H573.2ZM573.2,135H627.1V144.3H573.2ZM582.1,63.5H609.2V72.8H582.1ZM591.1,54.6H609.2V63.8H591.1ZM591.1,72.5H636.1V81.7H591.1ZM600,81.4H636.1V90.6H600ZM617.9,197.6H645V206.9H617.9ZM617.9,188.7H653.9V197.9H617.9ZM626.8,179.7H645V189H626.8ZM626.8,206.6H645V215.8H626.8ZM662.6,43.9H671.8V45.9H662.6ZM671.5,269.2H707.6V278.4H671.5ZM671.5,278.1H716.5V287.3H671.5ZM680.5,152.9H698.6V162.2H680.5ZM680.5,126.1H707.6V153.2H680.5ZM680.5,260.2H707.6V269.4H680.5ZM680.5,340.7H707.6V349.9H680.5ZM680.5,117.2H716.5V126.4H680.5ZM689.4,251.3H698.6V260.5H689.4ZM689.4,349.6H698.6V358.8H689.4ZM689.4,331.7H716.5V341H689.4ZM698.3,54.6H716.5V63.8H698.3ZM698.3,108.2H716.5V117.5H698.3ZM698.3,296H716.5V305.2H698.3ZM698.3,287H725.5V296.3H698.3ZM698.3,304.9H725.5V314.1H698.3ZM707.3,45.6H716.5V54.9H707.3ZM707.3,63.5H716.5V72.8H707.3ZM707.3,313.9H725.5V332H707.3ZM743,224.4H770.2V242.6H743ZM752,43.9H779.1V45.9H752ZM752,287H823.8V296.3H752ZM752,313.9H823.8V323.1H752ZM752,296H832.7V314.1H752ZM760.9,322.8H805.9V332H760.9ZM769.9,340.7H779.1V349.9H769.9ZM769.9,331.7H797V341H769.9ZM778.8,251.3H788V269.4H778.8ZM778.8,349.6H788V358.8H778.8ZM778.8,278.1H823.8V287.3H778.8ZM787.7,81.4H805.9V90.6H787.7ZM787.7,233.4H805.9V242.6H787.7ZM796.7,90.3H805.9V108.5H796.7ZM796.7,269.2H814.9V278.4H796.7ZM805.6,108.2H814.9V117.5H805.6ZM814.6,367.5H823.8V376.7H814.6ZM814.6,376.4H832.7V385.7H814.6ZM814.6,385.4H841.7V394.6H814.6ZM814.6,242.3H859.6V251.6H814.6ZM814.6,233.4H861.6V242.6H814.6ZM823.5,403.2H832.7V412.5H823.5ZM823.5,394.3H841.7V403.5H823.5ZM823.5,412.2H841.7V418.1H823.5ZM823.5,224.4H859.6V233.7H823.5ZM841.4,81.4H850.6V90.6H841.4ZM841.4,215.5H859.6V224.8H841.4ZM850.3,72.5H859.6V81.7H850.3ZM850.3,108.2H861.6V126.4H850.3Z"/>
<path fill="#fee496" d="M85.9,117.2H95.2V126.4H85.9ZM85.9,99.3H126.5V108.5H85.9ZM85.9,108.2H171.2V117.5H85.9ZM94.9,81.4H104.1V99.6H94.9ZM126.2,211H139.9V229.2H126.2ZM126.2,202.1H144.4V211.3H126.2ZM144.1,237.9H162.2V260.5H144.1ZM170.9,117.2H189.1V126.4H170.9ZM170.9,184.2H189.1V193.5H170.9ZM179.8,108.2H189.1V117.5H179.8ZM188.8,126.1H198V135.3H188.8ZM188.8,166.3H229.3V175.6H188.8ZM197.7,157.4H206.9V166.6H197.7ZM197.7,175.3H229.3V184.5H197.7ZM197.7,148.5H238.2V157.7H197.7ZM197.7,135H247.2V148.8H197.7ZM206.6,296H238.2V323.1H206.6ZM215.6,157.4H238.2V166.6H215.6ZM273.7,287H300.8V296.3H273.7ZM291.6,269.2H345.5V287.3H291.6ZM300.5,260.2H345.5V269.4H300.5ZM309.5,246.8H327.6V260.5H309.5ZM327.3,287H345.5V296.3H327.3ZM336.3,296H372.3V305.2H336.3ZM349.7,224.4H367.9V233.7H349.7ZM358.6,215.5H403.6V224.8H358.6ZM367.6,237.9H385.7V242.6H367.6ZM367.6,233.4H394.7V238.2H367.6ZM385.4,224.4H403.6V233.7H385.4ZM403.3,278.1H430.4V287.3H403.3ZM421.2,188.7H475.1V206.9H421.2ZM430.1,179.7H475.1V189H430.1ZM479.3,278.1H524.3V287.3H479.3ZM524,296H564.5V305.2H524ZM546.4,304.9H564.5V314.1H546.4ZM550.8,313.9H564.5V323.1H550.8ZM582.1,331.7H591.4V341H582.1ZM582.1,358.6H591.4V376.7H582.1ZM582.1,407.7H591.4V417H582.1ZM644.7,237.9H658.4V242.6H644.7ZM644.7,242.3H662.9V260.5H644.7ZM671.5,224.4H680.8V233.7H671.5ZM671.5,206.6H689.7V224.8H671.5ZM671.5,403.2H689.7V412.5H671.5ZM680.5,233.4H689.7V242.6H680.5ZM680.5,394.3H707.6V403.5H680.5ZM680.5,412.2H721V417H680.5ZM680.5,197.6H734.4V206.9H680.5ZM680.5,416.7H770.2V418.1H680.5ZM689.4,242.3H716.5V251.6H689.4ZM689.4,188.7H725.5V197.9H689.4ZM698.3,367.5H716.5V394.6H698.3ZM707.3,358.6H725.5V367.8H707.3ZM716.2,233.4H725.5V242.6H716.2ZM716.2,206.6H734.4V224.8H716.2ZM716.2,349.6H779.1V358.8H716.2ZM725.2,224.4H734.4V233.7H725.2ZM725.2,340.7H761.2V349.9H725.2ZM738.6,412.2H770.2V417H738.6ZM752,358.6H788V367.8H752ZM752,403.2H788V412.5H752ZM760.9,367.5H788V376.7H760.9ZM760.9,394.3H788V403.5H760.9ZM769.9,376.4H788V394.6H769.9Z"/>
<path fill="#fed687" d="M85.9,157.4H95.2V166.6H85.9ZM85.9,135H135.4V148.8H85.9ZM85.9,148.5H180.1V157.7H85.9ZM85.9,126.1H189.1V135.3H85.9ZM94.9,117.2H171.2V126.4H94.9ZM103.8,202.1H117.5V211.3H103.8ZM117.2,166.3H189.1V175.6H117.2ZM117.2,157.4H198V166.6H117.2ZM135.1,193.2H153.3V202.4H135.1ZM144.1,135H198V148.8H144.1ZM153,184.2H171.2V193.5H153ZM153,175.3H198V184.5H153ZM161.9,269.2H184.6V287.3H161.9ZM188.8,148.5H198V157.7H188.8ZM188.8,287H198V296.3H188.8ZM206.6,157.4H215.9V166.6H206.6ZM246.9,322.8H265V332H246.9ZM273.7,304.9H291.9V314.1H273.7ZM273.7,296H300.8V305.2H273.7ZM300.5,287H327.6V296.3H300.5ZM309.5,296H336.6V305.2H309.5ZM349.7,246.8H372.3V256H349.7ZM358.6,304.9H376.8V314.1H358.6ZM367.6,224.4H385.7V233.7H367.6ZM367.6,255.7H385.7V287.3H367.6ZM385.4,304.9H394.7V314.1H385.4ZM412.3,287H430.4V296.3H412.3ZM430.1,278.1H479.6V287.3H430.1ZM488.2,304.9H497.5V314.1H488.2ZM497.2,287H524.3V296.3H497.2ZM506.1,296H524.3V305.2H506.1ZM524,304.9H546.7V314.1H524ZM541.9,322.8H551.1V332H541.9ZM564.2,304.9H573.5V314.1H564.2ZM680.5,224.4H689.7V233.7H680.5ZM689.4,233.4H698.6V242.6H689.4ZM689.4,206.6H716.5V224.8H689.4ZM689.4,403.2H752.3V412.5H689.4ZM707.3,233.4H716.5V242.6H707.3ZM707.3,394.3H738.9V403.5H707.3ZM716.2,224.4H725.5V233.7H716.2ZM716.2,367.5H725.5V385.7H716.2ZM716.2,385.4H738.9V394.6H716.2ZM720.7,412.2H738.9V417H720.7ZM725.2,358.6H752.3V367.8H725.2ZM729.6,367.5H747.8V385.7H729.6ZM743,394.3H761.2V403.5H743ZM752,367.5H761.2V376.7H752ZM752,376.4H770.2V394.6H752Z"/>
<path fill="#fdc576" d="M85.9,175.3H95.2V184.5H85.9ZM85.9,184.2H104.1V193.5H85.9ZM85.9,166.3H117.5V175.6H85.9ZM94.9,157.4H117.5V166.6H94.9ZM103.8,193.2H135.4V202.4H103.8ZM117.2,202.1H126.5V211.3H117.2ZM126.2,175.3H153.3V184.5H126.2ZM135.1,135H144.4V148.8H135.1ZM135.1,184.2H144.4V193.5H135.1ZM179.8,148.5H189.1V157.7H179.8ZM300.5,296H309.8V305.2H300.5ZM300.5,313.9H309.8V323.1H300.5ZM376.5,304.9H385.7V314.1H376.5ZM385.4,237.9H394.7V287.3H385.4ZM394.4,296H403.6V305.2H394.4ZM430.1,287H439.4V296.3H430.1ZM479.3,296H488.5V305.2H479.3ZM488.2,287H497.5V296.3H488.2ZM532.9,313.9H542.2V323.1H532.9ZM573.2,389.8H582.4V399.1H573.2ZM582.1,349.6H591.4V358.8H582.1ZM689.4,224.4H716.5V233.7H689.4ZM698.3,233.4H707.6V242.6H698.3ZM725.2,367.5H729.9V385.7H725.2ZM738.6,394.3H743.3V403.5H738.6ZM738.6,385.4H752.3V394.6H738.6ZM747.5,367.5H752.3V385.7H747.5Z"/>
<path fill="#fdb366" d="M94.9,175.3H126.5V184.5H94.9ZM103.8,184.2H135.4V193.5H103.8ZM144.1,184.2H153.3V193.5H144.1ZM273.7,313.9H291.9V323.1H273.7ZM291.6,304.9H300.8V314.1H291.6ZM394.4,246.8H403.6V265H394.4ZM403.3,296H412.6V305.2H403.3ZM439.1,287H452.8V296.3H439.1ZM524,313.9H533.2V323.1H524Z"/>
<path fill="#ec5c3b" d="M358.6,313.9H367.9V323.1H358.6ZM398.9,269.2H403.6V278.4H398.9ZM461.4,287H479.6V296.3H461.4ZM506.1,313.9H515.4V323.1H506.1Z"/>
<path fill="#f47044" d="M291.6,313.9H300.8V323.1H291.6ZM300.5,304.9H309.8V314.1H300.5ZM327.3,304.9H336.6V314.1H327.3ZM349.7,304.9H358.9V314.1H349.7ZM367.6,313.9H376.8V323.1H367.6ZM452.5,287H461.7V296.3H452.5ZM497.2,296H506.4V305.2H497.2ZM497.2,313.9H506.4V323.1H497.2ZM506.1,304.9H524.3V314.1H506.1ZM506.1,322.8H542.2V332H506.1ZM515.1,313.9H524.3V323.1H515.1ZM582.1,340.7H591.4V349.9H582.1Z"/>
<path fill="#fb9d59" d="M336.3,304.9H350V314.1H336.3ZM479.3,287H488.5V296.3H479.3ZM541.9,313.9H551.1V323.1H541.9ZM573.2,407.7H582.4V417H573.2Z"/>
<path fill="#e24731" d="M488.2,296H497.5V305.2H488.2ZM497.2,304.9H506.4V314.1H497.2ZM573.2,331.7H582.4V341H573.2Z"/>
<path fill="#d83128" d="M309.5,304.9H327.6V314.1H309.5ZM327.3,313.9H341V323.1H327.3ZM550.8,322.8H564.5V332H550.8Z"/>
<path fill="#b50f26" d="M340.7,313.9H350V323.1H340.7Z"/>
<path fill="#c62027" d="M349.7,313.9H358.9V323.1H349.7Z"/>
<path class="oc" d="M20,45 H86.1 V63.7 H95 V98.7 H86.1 V126.7 H77.3 V135.5 H68.5 V148.6 H77.3 V158.3 H86.1 V167 H77.3 V184.6 H86.1 V194.3 H95 V203.1 H86.1 V211.9 H94.9 V203.1 H103.7 V211.9 H117.7 V220.7 H126.4 V229.4 H144 V260.1 H152.7 V269.7 H161.5 V287.2 H179.9 V296 H188.6 V304.8 H206.2 V314.4 H214.9 V323.2 H237.7 V331.9 H274.5 V323.2 H385.6 V314.1 H412.7 V305.3 H430.2 V296.6 H480.2 V305.3 H488.9 V314.1 H497.7 V332.5 H564.3 V341.3 H573.9 V350 H581.8 V381.6 H573.9 V417 H20 Z"/>
<rect x="86" y="90.5" width="9.1" height="8.3" fill="#fef7b3"/>
<path d="M564.1,332.9L565,341.2L573.3,342.1L573.3,350.4L582.1,350.4L582.1,380.9L576.1,380.9L574.2,371.7L577,361.5L571.5,347.7L562.3,338.5L558.6,333.8ZM573.3,380.9L569.6,393.8L567.8,406.7L570.1,412.3L573.3,416.9ZM500.4,332L530.9,332L530,335.7L518,337.1L506.9,336.6ZM551.2,352.3L553.9,347.7L558.6,346.3L561.8,348.6L559.9,354.1L556.7,357.8L553,357.4ZM530,386.4L532.3,384.6L534.1,386.4L532.7,389.2L530.4,388.7ZM514.3,411.3L517.5,409L520.7,410.9L520.3,415L516.6,416.4L514.3,414.1ZM132.6,229.4L144,229.4L144,239.9L139.6,233.8ZM146.6,260.1L152.7,260.1L152.7,266.2ZM152.7,269.7L161.5,269.7L161.5,278.5L157.1,275.9ZM223.7,323.2L237.7,323.2L237.7,331.1ZM274.5,323.2L281.5,323.2L274.5,326.7ZM241.2,331.9L264,331.9L253.5,336.3ZM348.1,323.2L363.9,323.2L356,329.3ZM94.9,204L102.8,204L103.7,211.9L97.5,210.2ZM95,64.5L95,89.9L93.1,87.3L93.2,71.5ZM86.1,158.3L86.1,167L82.2,162.7ZM95,203L104.1,203L104.1,211.7L98.9,210.8ZM86.1,211.7L86.1,215.2L93.6,215.2Z" fill="#a2a2a2"/>
<path class="bd" d="M448.1,44.4L452.4,47.5L453.7,49L454,51L453.5,57.1L453.6,59L454.2,60.4L455.1,61.6L456.3,62.4L458.1,62.4L470.4,60.5L472.6,60.1L474.8,59.7L501.1,54.4L503.1,53.8L504.9,52.6L513.8,45.3M472.6,60.2L473.4,99.1L473.3,101.3L473,103.5L471.3,111.4L470.7,113.6L470,115.6L467.3,122.1L466.3,124L464.8,125.6L461.1,128.8L459.3,129.9L457.3,130.2L452.9,130.2L450.7,130.3L448.5,130.4L421.3,132.7L419.2,133.1L417.3,134.1L412.2,137.7L410.3,138.7L408.2,139L398.1,139M398.1,139L385.4,136.8L383.3,136.7L381.2,137.3L359.8,147.7L358.2,148.7L357.2,149.8L356.6,151L355.7,151.8L353.9,151.9L349.5,151.5L347.5,151.7L345.8,152.8L339.2,159.3L337.7,160.7L336.2,161.5L334.7,162.1L333.7,162.8L333.3,163.8L333.3,165L332.9,166.3L331.7,167.7L329.6,169.9L327.9,170.8L326,170.5L322.2,168.8L320.2,168.5L318.5,169.3L315.7,171.7L314.4,173.4L313.7,175.4L313.4,178L313,179.8L312.3,180.8L311.4,181.4L310.6,182.3L310.1,184.1L309.2,188.5L308.4,190.4L306.8,191.7L300,195.1M398.1,139L397.5,143.1L397.6,145.1L398.2,147.1L400.6,151.9L401.7,153.8L403,155.6L407.3,160.9L408.7,162.6L410.4,164L413.9,166.6L414.9,167.8L414.5,168.8L413.3,169.7L412.6,170.7L412.7,172L413.3,173.5L414.3,174.8L415.9,175.7L427.6,180.3L429.6,181.1L431.4,181.9L433.2,182.8L434.4,183.8L434.6,184.8L434.3,186L434.5,187.2L435.5,188.3L437,189.5L438.5,190.1L440.3,189.6L444.4,187.4L446.3,186.9L448.1,187.6L461.2,197.7M438.4,190.7L437.3,194.2L436.4,195.8L434.9,197.3L431.4,199.9L429.6,201.1L427.6,202L422.9,203.9L421,204.9L419.2,206.2L415.6,209.4L414,210.9L412.6,212.6L410.8,215.2L409.9,217.1L409.8,219.2L410.1,221.8L410.7,223.8L412,225.5L417,229.9M461.2,197.7L461.9,185.9L462.4,183.8L463.5,182L466.8,178.3L468,176.6L468.8,174.6L470.2,170L471.1,168.1L472.4,166.4L475.4,163.3L477.1,162.1L479.2,161.5L492.3,159.5L494.5,159.4L496.6,159.6L508.1,162.2L510.1,162.9L511.9,164.1L522.6,173.5L524.4,174.4L526.4,174.2L538,170.4L540,170L542.1,170.5L560,177.3M461.2,197.7L459.3,202.7L459,204.7L459.7,206.6L463.6,213.3L464.3,215.3L464.3,217.4L463.4,221.8L462.9,223.9L462.4,226L461.2,229.9M341.2,212.6L385.4,212.6L387.5,212.4L389.3,211.7L391.1,210.8L393,210.4L395,210.7L401.3,212.8L403.4,213.2L405.4,213.2L409.5,212.6M391.1,210L392.9,218.7L397.2,224L400.9,229.9M687.6,45.3L682.8,99.1L682.3,101.2L681.2,103L659.6,127.7L658.2,129.4L657,131.2L646.1,148.5L645.4,150.5L645.3,152.6L646.4,158.7L647,160.8L648,162.7L655.1,172.3L656.3,173.7L657.5,174.3L659.9,174.9M560,177.6L570.1,179L572.1,178.9L573.9,177.8L581.2,171.2L582.9,170L585,169.5L601.6,168.1L603.8,168.1L605.9,168.4L622.7,172.6L624.7,172.7L626.6,171.9L635.3,165.7L637.2,164.5L639.2,163.7L646.7,160.9M656.4,174L657.7,181.5L658.4,183.5L659.7,185.2L665.3,190.9L666.4,192.6L666.5,194.6L665.6,199L664.8,201L663.3,202.4L656.5,207L654.7,208.3L653.2,209.9L649,215.3L647.7,217.1L646.8,219L642.4,229.9M666.9,192.4L671.8,193.7L673.4,194.6L674.2,196.4L675.4,206L675.7,208.2L676.2,210.3L678.6,220.1L679.3,222.2L680.4,224.1L684.4,229.9M841.2,45.3L841.2,121.9L840.7,123.6L839,124.3L825,125.7L823.2,126.3L822.3,128L821.6,130.7L821,132.8L820.1,134.8L816.8,141.4L815.7,143.2L814.4,144.5L812.9,145.7L811.9,147.1L812,149L812.7,151.8L812.7,153.7L811.6,155.4L807,159.4L805.9,161L806.1,162.9L808,167.6L808.2,169.6L807.3,171.3L802.4,176.8L801.4,178.2L801.2,179L801.5,179.6L802.3,180.1L804,180.5L806.6,180.8L808.4,181.5L809.5,183.2L813.4,195.6L814.2,197.6L815.2,199.4L816.4,201.2L817.6,203L818.7,204.7L819.9,206.5L820.6,208.2L820.5,209.9L819.3,213.5M819.3,213.5L808.8,213.5L798.3,220.5L793,229.9M819.3,213.5L826.3,222.2L831.6,229.9M822.8,45.3L840.4,53.1L841.2,53.1M642.4,230L640.4,236.7L639.5,238.6L638.1,240.2L635.3,242.6L633.9,244.2L633.2,246.2L632.3,250.6L631.5,252.5L630.1,253.9L628.3,255.1L626.8,256.5L625.6,258.3L622.3,264.8L621.4,266.8L620.6,268.9L618.5,275.2L617.6,277.2L616.3,278.9L614.1,281L612.8,282.7L611.7,284.6L609.9,289.3L608.8,291.1L607.3,292.6L603.8,295.3L602.2,295.8L601.1,294.6L599.5,291.5L598.3,289.8L596.6,288.6L593.5,287.1L591.5,286.4L589.4,286.5L584.9,287.4L582.9,288L581,289.1L572.3,295.3L570.6,296.7L569,298.1L565.1,302L563.6,303.7L562.5,305.6L560,310.6M684.4,230L660.3,232.4L658.4,232.9L657,234.1L655.8,235.6L655.3,237.1L656,238.7L660.3,244.1L661.7,245.7L663.3,247.2L670.5,253.1L672,254.6L673.4,256.4L677.9,263.2L679.1,265.1L680.1,267L682.5,271.8L683.2,273.6L683.2,275L682.7,277.3M683.5,276.4L685.3,277.6L686.5,277.9L688.2,277.4L696.4,274.5L698.2,273.8L699.6,272.9L700.8,272L702,271.8L703.5,272.7L705.6,274.9L707.3,275.8L709.2,275.6L724.4,269.4L726.5,268.7L728.6,268.1L738.3,266.3L740.3,265.6L742,264.3L747.8,257.9L748.6,256.3L748.1,254.8L746.9,253.3L746.6,252.1L747.9,251.4L759.4,248.9L761.5,248.3L763.6,247.7L771.7,244.8L773.7,243.9L775.6,242.7L784.2,236.5L786.1,235.3L787.9,234.1L794.8,230M682.7,277.3L676.9,286L675.6,287.8L674.4,289.7L669.9,296.5L668.6,298.3L667.3,300.1L664.7,303.6L663.9,305.4L664.2,307.4L665.2,310.3L665.7,312.3L665.7,314.1L665.4,315.9L665.4,317.7L665.8,319.7L667.9,326L668.7,328.1L669.5,330.1L674.8,341.9L675.8,343.8L677.1,345.6L684.7,354.5L686.2,356.1L687.7,357.7L691.6,361.6L693.1,363.2L694.3,364.9L695.5,366.7L696.2,368.4L696.1,370.2L695.5,371.9L694.9,373.8L694.4,375.8L693.2,380.7M694.9,373.7L699.4,361.7L700.2,359.7L701.2,357.7L702.7,354.6L704,353L705.8,352.1L715.6,349.7L717.7,349.4L719.9,349.4L729.5,350.6L731.7,350.7L733.9,350.4L736.6,349.7L738.3,349.6L739.3,350.3L740.5,352.7M812.3,340.4L816.4,333.5L817.8,331.9L819.7,330.9L826,328.8L828.1,328.2L830.3,327.8L845.2,325.8L847.4,325.5L849.6,325.3L860,324.6M833.3,230L831,245.3L831,247.4L831.6,249.3L832.5,251L833.7,252.5L835.4,253.5L841.8,255.6L843.6,256.5L845,258L846.2,259.8L847.6,261.3L849.3,262.5L860,267.7M576.6,373.7L579.6,375.4L581.2,376.1L583.2,376.3L603.4,376.3L605,376.2L605.6,375.7L605.6,375.1L606.1,374.7L607.8,374.6L638.4,375.4L640.6,375.5L642.8,375.6L662.9,377L665.1,377.3L667.3,377.7L677,380.2L679.2,380.6L681.3,381L693.2,382.4M605.6,376.3L605.6,398.2L574,398.2M640.6,375.4L639.3,382L639.1,384.2L639.5,386.3L640.8,390.9L641.8,392.3L643.5,392.4L645.6,391.8L647.7,391.3L649.8,391L655.9,390.5L657.8,390.9L659.2,392.2L660.5,394.6L661.2,396.5L661.2,398.6L660.3,403.1L659.7,405.1L658.6,407L655.9,410.5L654.7,412.2L653.8,413.7L652,416.6M167.2,142.5L171.4,134.8L172.5,132.9L173.9,131.2L176.3,128.4L177.8,127.2L179.4,127L181.2,127.3L182.9,127.9L184.5,129.2L186.7,131.3L188.3,132.3L189.9,132L191.7,131.1L193.6,130.4L195.7,130.1L215.8,128.6L217.6,128.3L218.6,127.5L219.2,126.5L219.8,126L220.3,126.5L220.9,127.5L221.9,128.2L223.7,128.5L290.3,128.5L292,127.9L292.8,126.3L293.9,117.5L293.9,115.4L293.2,113.4L290.8,108.6L290,106.5L289.6,104.4L282.8,46.1M167.2,142.5L168.6,151.7L169.1,153.8L169.9,155.9L171.5,158.9L172.3,160.9L173,163L173.7,165.8L174.5,167.8L175.8,169.5L177.9,171.6L179.3,173.3L180.2,175.2L181.3,178.1L181.8,180.1L181.8,181.9L181.2,185.4M85.7,163.5L101.9,162.8L104.1,162.5L106.2,161.9L109.1,160.8L111.1,160.4L113.2,160.8L116.1,161.9L118.1,162.7L120.2,163.5L124.8,165.3L126.9,165.9L129.1,165.9L131.7,165.6L133.6,165.6L134.8,166.2L135.7,167L135.9,167.9L135.1,168.8L133.6,169.7L132,170.3L130,170.3L125.6,169.9L123.4,169.5L121.4,168.7L116.6,166.3L114.6,165.7L112.5,165.8L109.7,166.5L107.6,167.1L105.6,167.8L102.7,168.9L100.8,169.7L99.4,170.5L98.3,171.4L96.8,172.1L94.9,172.4L83.1,173.2M85.7,186.3L100.2,184.8L102.3,184.4L104.4,183.7L109.1,181.9L111.2,181.3L113.3,181.1L137,181.1L139.2,181.1L141.3,181.2L149.2,181.8L151,182.1L152,182.8L152.6,183.7L153.6,184.4L155.4,184.7L163.2,185.3L165.4,185.4L167.6,185.4L181.2,185.4M139.2,181.1L138,185.2L137.3,187L136.2,188.3L135.1,189.5L134.4,190.8L134.8,192.4L135.7,194.2L135.9,195.8L135.1,197.1L133.6,198.3L132,199.3L130,200.1L125.5,201.4L123.6,202.3L122,203.8L119.6,206.5L118.3,208.1L117.3,209.4L115.5,211.7M181.2,185.4L181.2,189L181.5,190M198.4,190L198.5,189.9L200.5,189.2L202.7,189.1L210.6,189.7L212.7,189.5L214.6,188.7L219.6,185.7L221.5,185.2L223.2,186L225.1,187.5L226.5,189.1L227,190M147.5,248.7L150.4,246.9L151.8,245.8L153,244.2L156,239.2L157.3,237.5L158.9,236L162.3,233.4L164.2,232.3L166.3,231.8L172.4,230.9L174.6,230.8L176.8,230.9L183,231.8L184.9,232.4L186.5,233.8L190.8,239.1L192.1,240.9L193.3,242.7L195.4,246L196.2,247.8L196.2,249.6L195.9,251.3L196,253L196.8,254.5L199.2,257.5M199.2,257.5L196.8,260.4L196.4,261.3L197.4,261.3L199.2,260.7L200.2,260.7L199.9,262.1L198.4,265.1L197.3,267L196.1,268.9L193.5,272.3L192.1,274.1L190.6,275.7L186.7,279.6L185.2,281.2L183.9,282.9L180.8,287.2M199.2,257.5L204,258.7L206.1,258.9L207.9,258.6L209.7,258L211.3,258L212.9,258.9L214.4,260.4L215.6,262L216.6,263.9L217.7,266.8L218.2,268.9L218.4,271.1L218.4,273.7L218.8,275.7L220,277.4L222.1,279.6L223.7,280.7L225.4,281.1L227.2,281.1L228.9,280.7L230.5,279.6L232.6,277.4L234.1,276.4L235.4,276.4L237.7,277.6M228.9,190L230.3,196.6L230.9,198.7L231.8,200.6L234.8,205.6L235.8,207.6L236.5,209.7L237.2,212.4L237.8,214.5L238.7,216.5L240.2,219.6L241.3,221.5L242.5,223.3L244.3,225.9L245,227.6L244.7,229.1L243.8,230.6L243.2,232.2L243,234.3L243,238.6L243.3,240.6L244.4,242L245.9,243.2L246.9,244.5L247,246.1L246.8,247.8L246.8,249.4L247.6,250.7L248.8,251.9L249.4,253.1L248.8,254.2L247.6,255.4L247,256.6L247.6,257.7L248.8,258.9L249.1,259.9L247.8,260.6L244.2,261.4L242.5,262.2L241.8,263.6L241.5,265.4L241.6,266.8L242.4,267.7L243.6,268.3L244.1,269.1L243.6,270.6L242.4,272.4L241.2,274L240,275.3L237.7,277.6M237.7,277.6L238.9,282.5L239.2,284.6L238.9,286.8L238.2,289.5L237.5,291.5L236.5,293.1L235.4,294.6L235,295.9L236.2,297L239.2,298.5L241.2,299.5L243.3,300.3L246.2,301.4L248,302.4L249.4,303.9L250.6,305.7L251.8,307.3L253.2,308.6L254.7,309.7L255.7,311.2L255.9,313.1L255.4,317.5L255.1,319.6L254.5,321.7L253.4,324.6L252.8,326.7L252.8,328.9L253.5,335.4M245.6,227.7L249.9,224.6L251.8,223.9L253.7,224.3L256.8,225.8L258.7,226.6L260.5,227.1L262.2,227.4L263.7,227.3L264.6,226.5L265.2,225.3L266,224.4L267.5,223.9L269.3,223.6L270.8,223L272.1,221.8L273.3,220.4L274.5,219.2L275.7,218.6L276.8,218.3L277.7,218.7L278,220.2L278,223.7L278.5,225.4L280.2,226.2L282.8,226.5L284.9,226.4L286.7,225.6L290.3,223.3M290.3,223.3L291.6,216.7L292.1,214.6L292.8,212.5L294.7,207.8L295.5,205.7L296.1,203.6L296.7,200.9L297.6,199L299.2,197.6L300,197.1M290.3,223.3L295.5,227.2L297.3,228.5L299,229.9L306,235.1L307.8,236.2L309.5,236.7L311.3,237L313.1,237L315,236.3L318.1,234.8L320.1,234L322.2,233.6L326.6,233.1L328.8,233.2L330.9,233.7L333.8,234.8L335.7,235.8L337.4,237.1L340,239.7M340,275.5L338.4,279.1L337.6,281.1L336.9,283.2L334.8,289.5L334.3,291.7L334.4,293.8L335.5,300L336,302.1L336.8,304.1L338.3,307.2L339.4,309.1L340,310.2M400.5,230L400.2,234.8L399.9,236.6L399.6,237.6L399.1,238.2L398.9,238.8L399,239.6L399.3,240.5L399.8,241.2L400.7,241.7L401.9,242L402.9,242.6L403.4,244L403.7,245.8L403.8,247.6L403.4,249.7L402.7,252.4L402.6,254.4L403.1,256L404,257.5L404.8,258.9L405.4,260.4L406,261.8L406.3,263.4L406,265L405.4,266.8L404.9,268.7L404.7,270.7L404.5,273.4L404.5,275.6L404.7,277.7L405,280.4L405.2,282.6L405.1,284.8L405,287.4L405,289.5L405.4,291.3L406,293.1L406.7,294.7L407.7,296L408.9,297.2L410.2,298.3L411.5,299.5L413,300.7L414.3,301.7L415.1,302.3L416.2,303.2M417.1,230L418.9,232.9L419.6,234.6L420,236.6L420.4,241L420.8,243L421.5,244.6L422.4,246.1L423,247.7L423.3,249.7L424,262.9L424.1,265L424.1,267.2L424.1,280.4L424,282.5L423.8,284.3L423.5,286.1L423.4,287.8L423.5,289.6L423.8,291.4L424.3,293L425,294.5L425.9,296L426.5,297.3L426.7,298.3L426.7,299.2L426.5,299.9L425.9,300.2L424.1,300.5M461.8,230L459.4,232.3L458.4,233.6L457.4,235.2L456.5,237L455.7,238.5L454.8,239.6L453.9,240.5L453.2,241.5L452.7,242.8L452.4,244.3L451.8,245.6L450.4,246.6L448.6,247.5L447.2,248.5L446.3,249.6L445.7,250.7L445.3,252.2L445.1,254.1L444.8,262.8L444.8,265L444.9,267.2L445.8,275.1L445.9,277.3L445.8,279.5L445.4,283.9L445.2,286L445.3,287.8L445.4,289.6L445.5,291.4L445.3,293.5L444.7,298.3M340,241.4L343,245L344.1,246.8L344.8,248.8L345.7,254.1L345.9,256.3L345.5,258.4L344.1,262.9L343.5,265L342.7,267.1L341.6,270L341,271.8L340.6,273.2L340,275.6"/>
<path class="rv" d="M300,153.9L308.4,151.1L310.3,150.1L311.8,148.6L318,139.9L319.1,138.1L320,136.1L321.1,133.2L321.3,131.5L320.2,130.5L318.4,129.9L316.9,129.2L315.8,128.2L314.9,127L314.5,125.7L315.2,124.1L316.4,122.3L317.7,120.8L319.6,119.8L324.2,117.9L326.2,117L328,115.7L333.3,111.5L335.1,110.2L337.1,109.3L347,105.6L349.1,104.9L351.2,104.3L366.2,100.2L368.4,99.8L370.5,99.8L383.7,101.1L385.6,101.8L386.9,103.3L393.6,115.2L394.7,117L396.1,118.8L403.7,127.7L404.9,129.5L405.8,131.5L407.1,136L408,138L409.1,139.8L417.8,150.4L419.2,152.1L420.7,153.7L431.6,164.6L433,166.3L434.2,168.1L439.2,178.2L440.4,180L441.9,181.6L447.2,185.8L448.9,187.2L450.6,188.6L459.5,196.3L461.2,197.7L463,199L473.5,206.9L475.1,208.3L476.7,209.9L479.9,213.6L480.9,215.4L481.1,217.4L480.8,220L480.5,222.2L480.2,224.4L479.6,229.9M321.9,131.1L327.1,120.8L328.2,119L329.7,117.4L335,112.7M300,208.2L306.9,204.1L308.7,202.9L310.5,201.5L317.6,195.6L319.2,194.1L320.5,192.4L327.7,182L329.1,180.9L330.8,181.3L338.4,186L339.9,187.4L340.5,189.4L341.9,209.5L342,211.7L342.1,213.9L342.1,229.9M355.2,156.5L354.4,171L354.9,172.7L356.5,173.5L367.9,175.4L369.7,176.2L370.7,177.9L374.7,192.1L375.5,194.1L376.6,196L386.4,209.9L387.2,211.8L387.1,213.9L386.4,216.6L385.5,218.4L383.8,219.4L377.4,221.5L375.8,222.6L375.1,224.4L374.5,229.9M664.3,176.7L671,187.1L672.2,188.9L673.7,190.5L677.6,194.4L678.9,196.1L679.5,198.1L680.5,204.3L681.1,206.4L682,208.3L685,213.3L686.4,214.9L688.3,215.8L696.3,218.1L698.3,218.9L700.2,219.9L701.9,221.1L703.8,221.8L705.8,221.7L708.6,221L710.6,221L712.3,222L721.2,229.9M658.1,185.4L663.4,189.4L665.2,190.5L667.3,191.2L672.1,192.4M560,272.1L575.6,262.7L577.5,261.5L579.4,260.4L593.2,252.2L595,251L596.9,249.9L610.7,241.6L612.6,240.7L614.8,240.3L619.1,239.9L621.2,240L623.1,240.8L624.9,242L626.7,242.8L628.8,242.9L631.4,242.5L633.6,242.4L635.8,242.6L643.7,243.7L645.7,244.3L647.4,245.6L651.3,249.5L652.6,251.2L653.3,253.2L654.2,257.6L654.2,259.7L653.3,261.5L650.7,265L649.4,266.8L648.2,268.5L645.9,272.1M574,350.9L586.2,343.3L588.1,342.2L590,341.2L601.8,336L603.8,335.2L605.9,334.5L615.7,331.4L617.8,330.7L619.8,329.9L628.1,326.4L630.1,325.5L632.1,324.5L640.4,320.3L642.3,319.3L644.1,318L649.4,313.7L651.1,312.3L652.8,310.9L659.9,305L661.5,303.5L662.8,301.7L666.9,294.8M721.2,230L732,242.4L733.6,243.9L735.3,245.3L743.9,251.5L745.6,252.9L747,254.6L751.5,261.5L752.7,263.3L753.7,265.3L757,271.8L758.2,273.7L759.7,275.2L768.6,282.9L770.4,284.1L772.4,284.9L775.1,285.5L777.2,285.6L778.9,284.6L783.4,280.8M733.5,245.8L727.7,254.5L726.6,256.3L725.8,258.4L723.7,264.7L723.3,266.8L723.8,268.8L725.6,273.5L726.8,275.2L728.5,276.3L731.4,277.4L732.9,278.5L733.2,280.2L732.9,282.3L732.3,284.3L731.3,286.1L726,293.1L724.5,294.5L722.5,295.2L712.9,297.1L710.8,297.1L708.8,296.3L705.5,294.2L703.7,293.7L702,294.5L696.6,298.7L694.9,299.5L693,299.1L689.9,297.6L687.9,296.9L685.7,296.8L679.2,297.5M665.1,315.9L660.9,324.4L660.3,326.4L660.7,328.4L662.6,333.1L663.6,334.9L665.3,336.3L670.3,339.3L672.2,340.3L674.2,341.1L680.6,343.2L682.5,344.1L684.2,345.5L688.1,349.3L689.6,351L690.8,352.8L693.8,357.8L694.7,359.7L695.1,361.9L695.6,366.2L695.6,368.4L695.3,370.6L693.6,378.5L693.5,380.7L693.9,382.8L696,389.1L696.8,391.1L697.9,393L702.5,399.9L703.8,401.7L705.2,403.3L709.1,407.2L710.5,408.8L711.6,410.7L714.2,416.6M860,352.7L849.5,349.7L847.4,349.2L845.2,348.6L835.5,346.2L833.3,345.7L831.2,345.4L821.5,344.2L819.4,343.7L817.4,342.9L814.3,341.4L812.3,340.5L810.2,340L795.2,337.3L793.1,336.9L790.9,336.4L779.4,333.9L777.4,333.1L775.7,331.8L768.3,324.4L766.6,323.2L764.6,322.7L758.4,322.2L756.3,322.3L754.3,323.1L747.6,327L745.9,328.3L744.5,329.9L740.9,335.1L740,337L739.8,339.1L741.1,350.5L741.2,352.6L740.8,354.8L739.3,361L738.6,363.1L737.7,365.1L734.5,371.7L733.6,373.7L732.9,375.8L730.5,385.6L730,387.7L729.6,389.9L727.7,399.6L727.4,401.7L727.2,403.9L726.5,416.6M860,406.1L849.2,399.4L847.4,398.2L845.6,396.9L835.1,389L833.4,387.7L831.7,386.3L824.5,380.3L822.7,379.2L820.7,378.4L811,376L808.8,375.6L806.6,375.7L795.2,376.9L793.1,377.2L790.9,377.5L772.4,380.4L770.3,380.8L768.2,381.5L754.8,386.9L752.8,387.8L751,389L742.3,395.2L740.6,396.6L739.3,398.3L736.4,403.3L735.4,405.3L734.9,407.4L733.5,416.6M86.2,124.1L88.6,115.7L89.3,113.8L90.1,112.4L91,111.2L92.2,110.3L94,109.9L100.2,109.4L102.3,109.1L104.5,108.8L114.2,106.7L116.4,106.4L118.6,106.5L123,107.2L125,107.7L126.9,108.7L132.1,112.3L134,113.5L135.9,114.4L140.6,116.3L142.5,117.3L144,118.8L148.3,124.1L149.7,125.8L151.3,127.3L158.6,134L160.2,135.4L162,136.8L167.1,140.4L169,141.6L170.8,142.8L175.8,145.8L177.7,146.9L179.5,148.2L183,150.8L184.6,152.2L186.2,153.8L189.4,157.5L190.7,159.2L191.7,161.2L194.4,167.6L195.5,169.5L197,171L200.5,173.6L201.9,175L202.8,176.7L203.4,178.4L203.7,180.3L203.6,182.3L202.7,186.8L202,188.8L201,190M239.9,190L240.8,188.9L242.2,187.2L246.4,181.9L247.9,180.3L249.7,179L263.4,170.8L265.3,169.7L267.3,168.7L277.4,163.6L279.3,162.7L281.3,161.7L291.4,156.6L293.4,155.7L295.4,154.8L300,152.7M169.4,220.7L174.5,217.4L176.3,216.2L177.8,214.6L183.7,207.5L185.2,205.8L186.8,204.3L190.5,201.1L192.1,199.6L193.4,197.9L199.2,190M193,247.8L194.8,244.3L195.3,242.5L195.2,240.4L192.6,228.9L192.8,227.1L194.1,225.8L200.7,222.5L202.7,221.5L204.6,220.6L211.2,217.3L213.1,216.2L214.9,214.9L220.2,210.6L221.9,209.2L223.5,207.7L227.4,203.8L228.9,202.3L230.5,200.7L234.4,196.8L235.8,195.2L237.1,193.5L239.5,190M259.6,236.4L260.3,245.6L260.5,247.8L260.8,250L261.9,257.9L262.2,260.1L262.5,262.3L263.8,275.4L263.9,277.6L263.8,279.8L263.3,285.9L263.3,288.1L263.6,290.3L265.2,296.5L265.8,298.6L266.7,300.6L270,307.2L271.1,309.1L272.3,310.9L274.9,314.4L276.2,316.2L277.2,318.1L280.6,324.9M297.3,210.2L300,208.8M342.6,230L342,233.5L342,235.3L342.5,237.3L343.2,239.4L343.8,241.4L344.1,243.4L344.2,245.5L344.5,247.5L345.2,249.6L346.2,252.5L347.2,254.4L348.4,256.2L350,258.1L351.3,259.7L352.5,261.1L353.7,262.4L355,263.4L356.6,263.6L358.4,263.4L359.6,263L359.7,262.1L359.3,260.9L359.2,259.8L359.9,258.5L361.9,255.8M375,230L375,232.3L374.7,233.5L373.6,234.7L372.1,235.9L370.8,237.1L369.9,238.5L369.2,239.9L368.8,241.4L369.2,242.8L369.9,244.3L370.7,245.7L371.4,246.8L372.9,248.8M479.3,230L479.9,234.8L480.3,237L481.1,239L482.8,242.9L484,244.7L485.6,246L490,248.4M396.5,298.3L400,302.7L401.4,304.4L402.9,306L406.6,309.7M490,247.1L495.6,248.7L497.7,249.3L499.7,250.1L504.4,252L506.3,253L508,254.3L511.9,258.2L513.5,259.8L515,261.3L517.2,263.5L518.5,265.2L519.3,267.2L519.9,269.9L520.3,272.1L520.2,274.2L519,283.9L518.8,286.1L518.9,288.3L519.5,297.9L519.4,300.1L519,302.2L517.6,306.7L516.9,308.8L516.2,310.9L514.3,315.6L513.3,317.5L512.2,319.4L509.5,322.9L508.5,324.7L507.9,326.8L506.5,335.1M513.5,317.6L516,322.7L516.9,324.7L517.5,326.8L519.6,335.1M508.2,321.1L497.7,321.1M511.7,328.1L510.8,336M520.5,272.1L527.3,268.7L529.3,268L531.4,267.8L539.3,268.4L541.5,268.6L543.7,269L556.9,271.6L559,271.8L560,271.5"/>
<path d="M396.1,255.4L397.8,255L398.9,261.5L399.8,266.8L400.6,271.2L399.8,276.4L397.4,276L395.4,271.6L396.6,266.8L397,260.7Z" fill="#7c7c7c"/>
<path d="M379.9,265.5L389.1,263.7L390.4,265.2L382.1,267Z" fill="#7c7c7c"/>
<path d="M382.1,276L392.6,272.8L393.6,274.3L382.9,277.1Z" fill="#7c7c7c"/>
<path d="M381,289.6L385.6,290.9L389.1,291.2L392.6,292.6L393.6,290.3L397.1,291.3L396.5,297.9Z" fill="#7c7c7c"/>
<path d="M377.5,254.1L380.5,256.1L379.6,257L377.2,255.4Z" fill="#7c7c7c"/>
<path d="M393.4,281.7L396.1,282.6L396.1,284.8L393.9,283.6Z" fill="#7c7c7c"/>
<path d="M387.8,263.3L390.4,262.4L390.8,264.2L388.6,265Z" fill="#7c7c7c"/>
<path d="M361.9,255.8L368,253.5L373.7,255.2L378.6,259.4L385.6,265L391.7,269.9L396.1,276L398.3,282.6L397.4,290.5L396.5,298.3" fill="none" stroke="#4d5296" stroke-width="1.4" stroke-linecap="round" stroke-linejoin="round"/>
<path d="M372.4,248L373.3,251.9L373.7,255.2" fill="none" stroke="#4d5296" stroke-width="1.4" stroke-linecap="round" stroke-linejoin="round"/>
<rect x="662.5" y="167" width="13.2" height="8.8" fill="#8c8c8c"/>
<path d="M660.5,176.5 q0.5,-5 5,-5.5 q4,0.5 3.5,3.5 q-2,2 -5,2 q-1.5,2.5 -3.5,0z" fill="#7d7d7d" stroke="#555" stroke-width=".5"/>
<path d="M477.4,219.8 L480.2,219.3 L481.3,225.4 L480.7,233.7 L479.1,232 L476.9,225.4z" fill="#5b6187"/>
<path class="dt" d="M26.5,49.3h0m9.31,0h0m9.31,0h0m9.31,0h0m9.31,0h0m9.31,0h0m9.31,0h0m37.22,0h0m9.31,0h0m9.31,0h0m9.31,0h0m9.31,0h0m9.31,0h0m9.31,0h0m9.31,0h0m9.31,0h0m9.31,0h0m9.31,0h0m9.31,0h0m9.31,0h0m9.31,0h0m9.31,0h0m9.31,0h0m9.31,0h0m9.31,0h0m9.31,0h0m9.31,0h0m9.31,0h0m9.31,0h0m9.31,0h0m9.31,0h0m9.31,0h0m18.61,0h0m9.31,0h0m9.31,0h0m9.31,0h0m9.31,0h0m9.31,0h0m9.31,0h0m9.31,0h0m9.31,0h0m9.31,0h0m9.31,0h0m9.31,0h0m9.31,0h0m9.31,0h0m9.31,0h0m9.31,0h0m9.31,0h0m9.31,0h0m9.31,0h0m9.31,0h0m9.31,0h0m9.31,0h0m9.31,0h0m9.31,0h0m9.31,0h0m9.31,0h0m9.31,0h0m9.31,0h0m9.31,0h0m9.31,0h0m9.31,0h0m9.31,0h0m9.31,0h0m9.31,0h0m9.31,0h0m9.31,0h0m9.31,0h0m9.31,0h0m9.31,0h0m9.31,0h0m9.31,0h0m9.31,0h0m9.31,0h0m9.31,0h0m9.31,0h0m9.31,0h0m9.31,0h0m9.31,0h0m9.31,0h0m9.31,0h0m9.31,0h0m9.31,0h0m9.31,0h0m9.31,0h0M26.5,58.6h0m9.31,0h0m9.31,0h0m9.31,0h0m9.31,0h0m9.31,0h0m9.31,0h0m27.92,0h0m9.31,0h0m9.31,0h0m9.31,0h0m9.31,0h0m9.31,0h0m9.31,0h0m9.31,0h0m9.31,0h0m9.31,0h0m9.31,0h0m9.31,0h0m9.31,0h0m9.31,0h0m9.31,0h0m9.31,0h0m9.31,0h0m9.31,0h0m9.31,0h0m9.31,0h0m9.31,0h0m9.31,0h0m9.31,0h0m9.31,0h0m9.31,0h0m9.31,0h0m9.31,0h0m9.31,0h0m9.31,0h0m9.31,0h0m9.31,0h0m9.31,0h0m9.31,0h0m9.31,0h0m9.31,0h0m9.31,0h0m9.31,0h0m9.31,0h0m9.31,0h0m9.31,0h0m9.31,0h0m9.31,0h0m9.31,0h0m27.92,0h0m9.31,0h0m9.31,0h0m9.31,0h0m9.31,0h0m9.31,0h0m9.31,0h0m9.31,0h0m9.31,0h0m9.31,0h0m9.31,0h0m9.31,0h0m9.31,0h0m9.31,0h0m9.31,0h0m9.31,0h0m9.31,0h0m9.31,0h0m9.31,0h0m9.31,0h0m9.31,0h0m9.31,0h0m9.31,0h0m9.31,0h0m9.31,0h0m9.31,0h0m9.31,0h0m9.31,0h0m9.31,0h0m9.31,0h0m9.31,0h0m9.31,0h0m9.31,0h0m9.31,0h0m9.31,0h0m9.31,0h0M26.5,67.9h0m9.31,0h0m9.31,0h0m9.31,0h0m9.31,0h0m9.31,0h0m9.31,0h0m9.31,0h0m37.22,0h0m9.31,0h0m9.31,0h0m9.31,0h0m9.31,0h0m9.31,0h0m9.31,0h0m9.31,0h0m9.31,0h0m9.31,0h0m9.31,0h0m9.31,0h0m9.31,0h0m9.31,0h0m9.31,0h0m9.31,0h0m9.31,0h0m27.92,0h0m9.31,0h0m9.31,0h0m9.31,0h0m9.31,0h0m9.31,0h0m9.31,0h0m9.31,0h0m9.31,0h0m9.31,0h0m9.31,0h0m9.31,0h0m9.31,0h0m9.31,0h0m9.31,0h0m9.31,0h0m9.31,0h0m9.31,0h0m9.31,0h0m9.31,0h0m9.31,0h0m9.31,0h0m27.92,0h0m9.31,0h0m9.31,0h0m9.31,0h0m9.31,0h0m9.31,0h0m9.31,0h0m9.31,0h0m9.31,0h0m9.31,0h0m9.31,0h0m9.31,0h0m9.31,0h0m9.31,0h0m9.31,0h0m9.31,0h0m9.31,0h0m9.31,0h0m9.31,0h0m9.31,0h0m9.31,0h0m9.31,0h0m9.31,0h0m9.31,0h0m9.31,0h0m9.31,0h0m9.31,0h0m9.31,0h0m9.31,0h0m9.31,0h0m9.31,0h0m9.31,0h0m9.31,0h0m9.31,0h0m9.31,0h0m9.31,0h0M26.5,77.2h0m9.31,0h0m9.31,0h0m9.31,0h0m9.31,0h0m9.31,0h0m9.31,0h0m9.31,0h0m46.53,0h0m9.31,0h0m9.31,0h0m9.31,0h0m9.31,0h0m9.31,0h0m9.31,0h0m9.31,0h0m9.31,0h0m9.31,0h0m9.31,0h0m9.31,0h0m9.31,0h0m9.31,0h0m9.31,0h0m9.31,0h0m9.31,0h0m9.31,0h0m9.31,0h0m9.31,0h0m9.31,0h0m9.31,0h0m9.31,0h0m9.31,0h0m9.31,0h0m9.31,0h0m9.31,0h0m9.31,0h0m9.31,0h0m9.31,0h0m9.31,0h0m9.31,0h0m9.31,0h0m9.31,0h0m9.31,0h0m9.31,0h0m9.31,0h0m18.61,0h0m9.31,0h0m18.61,0h0m9.31,0h0m9.31,0h0m9.31,0h0m9.31,0h0m9.31,0h0m9.31,0h0m9.31,0h0m9.31,0h0m9.31,0h0m9.31,0h0m9.31,0h0m9.31,0h0m9.31,0h0m9.31,0h0m9.31,0h0m9.31,0h0m9.31,0h0m9.31,0h0m9.31,0h0m9.31,0h0m9.31,0h0m9.31,0h0m9.31,0h0m9.31,0h0m9.31,0h0m9.31,0h0m9.31,0h0m9.31,0h0m9.31,0h0m9.31,0h0m9.31,0h0m9.31,0h0m9.31,0h0m9.31,0h0m9.31,0h0m9.31,0h0M26.5,86.6h0m9.31,0h0m9.31,0h0m9.31,0h0m9.31,0h0m9.31,0h0m9.31,0h0m9.31,0h0m37.22,0h0m9.31,0h0m9.31,0h0m9.31,0h0m9.31,0h0m9.31,0h0m9.31,0h0m9.31,0h0m9.31,0h0m9.31,0h0m9.31,0h0m9.31,0h0m9.31,0h0m9.31,0h0m9.31,0h0m9.31,0h0m9.31,0h0m9.31,0h0m9.31,0h0m9.31,0h0m9.31,0h0m9.31,0h0m9.31,0h0m9.31,0h0m9.31,0h0m9.31,0h0m9.31,0h0m9.31,0h0m9.31,0h0m9.31,0h0m9.31,0h0m9.31,0h0m9.31,0h0m9.31,0h0m9.31,0h0m9.31,0h0m9.31,0h0m9.31,0h0m46.53,0h0m9.31,0h0m9.31,0h0m9.31,0h0m9.31,0h0m9.31,0h0m9.31,0h0m9.31,0h0m9.31,0h0m9.31,0h0m9.31,0h0m9.31,0h0m9.31,0h0m9.31,0h0m9.31,0h0m9.31,0h0m9.31,0h0m9.31,0h0m9.31,0h0m9.31,0h0m9.31,0h0m9.31,0h0m9.31,0h0m9.31,0h0m9.31,0h0m9.31,0h0m9.31,0h0m18.61,0h0m9.31,0h0m9.31,0h0m9.31,0h0m9.31,0h0m9.31,0h0m9.31,0h0m9.31,0h0m9.31,0h0M26.5,95.9h0m9.31,0h0m9.31,0h0m9.31,0h0m9.31,0h0m9.31,0h0m9.31,0h0m9.31,0h0m46.53,0h0m9.31,0h0m9.31,0h0m9.31,0h0m9.31,0h0m9.31,0h0m9.31,0h0m18.61,0h0m9.31,0h0m9.31,0h0m9.31,0h0m9.31,0h0m9.31,0h0m9.31,0h0m9.31,0h0m9.31,0h0m9.31,0h0m9.31,0h0m9.31,0h0m9.31,0h0m9.31,0h0m18.61,0h0m9.31,0h0m9.31,0h0m9.31,0h0m9.31,0h0m9.31,0h0m18.61,0h0m9.31,0h0m9.31,0h0m9.31,0h0m9.31,0h0m9.31,0h0m9.31,0h0m9.31,0h0m18.61,0h0m9.31,0h0m9.31,0h0m9.31,0h0m9.31,0h0m9.31,0h0m9.31,0h0m9.31,0h0m9.31,0h0m9.31,0h0m9.31,0h0m9.31,0h0m9.31,0h0m9.31,0h0m9.31,0h0m9.31,0h0m9.31,0h0m9.31,0h0m9.31,0h0m9.31,0h0m9.31,0h0m9.31,0h0m9.31,0h0m9.31,0h0m9.31,0h0m9.31,0h0m9.31,0h0m9.31,0h0m46.53,0h0m9.31,0h0m9.31,0h0m9.31,0h0m9.31,0h0m9.31,0h0m9.31,0h0M26.5,105.2h0m9.31,0h0m9.31,0h0m9.31,0h0m9.31,0h0m9.31,0h0m9.31,0h0m55.84,0h0m9.31,0h0m9.31,0h0m9.31,0h0m9.31,0h0m9.31,0h0m9.31,0h0m9.31,0h0m9.31,0h0m9.31,0h0m18.61,0h0m9.31,0h0m9.31,0h0m9.31,0h0m9.31,0h0m9.31,0h0m9.31,0h0m9.31,0h0m9.31,0h0m9.31,0h0m9.31,0h0m9.31,0h0m9.31,0h0m9.31,0h0m9.31,0h0m9.31,0h0m9.31,0h0m9.31,0h0m9.31,0h0m9.31,0h0m9.31,0h0m9.31,0h0m9.31,0h0m9.31,0h0m9.31,0h0m9.31,0h0m9.31,0h0m9.31,0h0m9.31,0h0m9.31,0h0m9.31,0h0m9.31,0h0m9.31,0h0m9.31,0h0m9.31,0h0m9.31,0h0m9.31,0h0m9.31,0h0m9.31,0h0m9.31,0h0m9.31,0h0m9.31,0h0m9.31,0h0m9.31,0h0m9.31,0h0m9.31,0h0m9.31,0h0m9.31,0h0m9.31,0h0m9.31,0h0m9.31,0h0m9.31,0h0m9.31,0h0m9.31,0h0m9.31,0h0m9.31,0h0m37.22,0h0m9.31,0h0m9.31,0h0m9.31,0h0m9.31,0h0m9.31,0h0m9.31,0h0m9.31,0h0M26.5,114.5h0m9.31,0h0m9.31,0h0m9.31,0h0m9.31,0h0m9.31,0h0m9.31,0h0m55.84,0h0m18.61,0h0m18.61,0h0m18.61,0h0m9.31,0h0m37.22,0h0m9.31,0h0m9.31,0h0m9.31,0h0m9.31,0h0m9.31,0h0m9.31,0h0m9.31,0h0m9.31,0h0m9.31,0h0m9.31,0h0m9.31,0h0m9.31,0h0m9.31,0h0m9.31,0h0m9.31,0h0m9.31,0h0m9.31,0h0m9.31,0h0m9.31,0h0m9.31,0h0m9.31,0h0m9.31,0h0m27.92,0h0m9.31,0h0m9.31,0h0m9.31,0h0m9.31,0h0m9.31,0h0m9.31,0h0m9.31,0h0m9.31,0h0m9.31,0h0m9.31,0h0m9.31,0h0m9.31,0h0m9.31,0h0m9.31,0h0m9.31,0h0m9.31,0h0m9.31,0h0m9.31,0h0m9.31,0h0m9.31,0h0m9.31,0h0m9.31,0h0m9.31,0h0m9.31,0h0m9.31,0h0m9.31,0h0m9.31,0h0m9.31,0h0m9.31,0h0m9.31,0h0m9.31,0h0m27.92,0h0m18.61,0h0m9.31,0h0m9.31,0h0m9.31,0h0m9.31,0h0m9.31,0h0M26.5,123.8h0m9.31,0h0m9.31,0h0m9.31,0h0m9.31,0h0m9.31,0h0m9.31,0h0m158.2,0h0m9.31,0h0m9.31,0h0m9.31,0h0m9.31,0h0m9.31,0h0m9.31,0h0m9.31,0h0m9.31,0h0m9.31,0h0m9.31,0h0m9.31,0h0m9.31,0h0m9.31,0h0m9.31,0h0m9.31,0h0m9.31,0h0m9.31,0h0m9.31,0h0m9.31,0h0m9.31,0h0m9.31,0h0m9.31,0h0m9.31,0h0m9.31,0h0m27.92,0h0m9.31,0h0m9.31,0h0m9.31,0h0m9.31,0h0m9.31,0h0m9.31,0h0m9.31,0h0m9.31,0h0m9.31,0h0m9.31,0h0m9.31,0h0m9.31,0h0m9.31,0h0m9.31,0h0m9.31,0h0m9.31,0h0m9.31,0h0m9.31,0h0m9.31,0h0m9.31,0h0m9.31,0h0m9.31,0h0m9.31,0h0m9.31,0h0m9.31,0h0m9.31,0h0m27.92,0h0m9.31,0h0m9.31,0h0m18.61,0h0m9.31,0h0m9.31,0h0m9.31,0h0m9.31,0h0m9.31,0h0m9.31,0h0M26.5,133.1h0m9.31,0h0m9.31,0h0m9.31,0h0m9.31,0h0m9.31,0h0m167.51,0h0m9.31,0h0m18.61,0h0m18.61,0h0m9.31,0h0m9.31,0h0m9.31,0h0m9.31,0h0m9.31,0h0m9.31,0h0m9.31,0h0m9.31,0h0m9.31,0h0m9.31,0h0m9.31,0h0m9.31,0h0m9.31,0h0m9.31,0h0m9.31,0h0m18.61,0h0m9.31,0h0m37.22,0h0m9.31,0h0m9.31,0h0m9.31,0h0m9.31,0h0m9.31,0h0m9.31,0h0m9.31,0h0m9.31,0h0m9.31,0h0m9.31,0h0m18.61,0h0m9.31,0h0m18.61,0h0m9.31,0h0m9.31,0h0m9.31,0h0m9.31,0h0m9.31,0h0m9.31,0h0m9.31,0h0m9.31,0h0m9.31,0h0m9.31,0h0m9.31,0h0m37.22,0h0m9.31,0h0m18.61,0h0m9.31,0h0m9.31,0h0m9.31,0h0m9.31,0h0m9.31,0h0m9.31,0h0M26.5,142.4h0m9.31,0h0m9.31,0h0m9.31,0h0m9.31,0h0m223.34,0h0m9.31,0h0m9.31,0h0m9.31,0h0m9.31,0h0m9.31,0h0m9.31,0h0m9.31,0h0m9.31,0h0m9.31,0h0m9.31,0h0m9.31,0h0m9.31,0h0m27.92,0h0m9.31,0h0m46.53,0h0m9.31,0h0m9.31,0h0m18.61,0h0m18.61,0h0m9.31,0h0m9.31,0h0m9.31,0h0m18.61,0h0m9.31,0h0m9.31,0h0m9.31,0h0m9.31,0h0m9.31,0h0m9.31,0h0m9.31,0h0m9.31,0h0m9.31,0h0m9.31,0h0m9.31,0h0m9.31,0h0m9.31,0h0m9.31,0h0m9.31,0h0m9.31,0h0m9.31,0h0m9.31,0h0m27.92,0h0m18.61,0h0m9.31,0h0m9.31,0h0m9.31,0h0m9.31,0h0m9.31,0h0m9.31,0h0M26.5,151.8h0m9.31,0h0m9.31,0h0m9.31,0h0m9.31,0h0m9.31,0h0m223.34,0h0m18.61,0h0m18.61,0h0m9.31,0h0m9.31,0h0m9.31,0h0m9.31,0h0m9.31,0h0m9.31,0h0m18.61,0h0m18.61,0h0m9.31,0h0m46.53,0h0m18.61,0h0m9.31,0h0m18.61,0h0m9.31,0h0m9.31,0h0m9.31,0h0m9.31,0h0m9.31,0h0m9.31,0h0m9.31,0h0m18.61,0h0m9.31,0h0m9.31,0h0m9.31,0h0m9.31,0h0m9.31,0h0m9.31,0h0m9.31,0h0m18.61,0h0m9.31,0h0m9.31,0h0m9.31,0h0m9.31,0h0m9.31,0h0m18.61,0h0m27.92,0h0m9.31,0h0m9.31,0h0m9.31,0h0m9.31,0h0m9.31,0h0m9.31,0h0m9.31,0h0M26.5,161.1h0m9.31,0h0m9.31,0h0m9.31,0h0m9.31,0h0m9.31,0h0m9.31,0h0m232.65,0h0m9.31,0h0m18.61,0h0m9.31,0h0m9.31,0h0m9.31,0h0m120.98,0h0m27.92,0h0m9.31,0h0m18.61,0h0m9.31,0h0m9.31,0h0m9.31,0h0m9.31,0h0m9.31,0h0m9.31,0h0m9.31,0h0m9.31,0h0m9.31,0h0m9.31,0h0m9.31,0h0m9.31,0h0m46.53,0h0m93.06,0h0m9.31,0h0m9.31,0h0m9.31,0h0m9.31,0h0m9.31,0h0m9.31,0h0M26.5,170.4h0m9.31,0h0m9.31,0h0m9.31,0h0m9.31,0h0m9.31,0h0m158.2,0h0m18.61,0h0m65.14,0h0m9.31,0h0m9.31,0h0m9.31,0h0m9.31,0h0m18.61,0h0m158.2,0h0m9.31,0h0m9.31,0h0m9.31,0h0m18.61,0h0m9.31,0h0m9.31,0h0m9.31,0h0m9.31,0h0m37.22,0h0m18.61,0h0m130.28,0h0m9.31,0h0m9.31,0h0m9.31,0h0m9.31,0h0m9.31,0h0m9.31,0h0M26.5,179.7h0m9.31,0h0m9.31,0h0m9.31,0h0m9.31,0h0m9.31,0h0m241.96,0h0m214.04,0h0m9.31,0h0m27.92,0h0m18.61,0h0m9.31,0h0m18.61,0h0m9.31,0h0m37.22,0h0m148.9,0h0m9.31,0h0m9.31,0h0m9.31,0h0m9.31,0h0m9.31,0h0M26.5,189h0m9.31,0h0m9.31,0h0m9.31,0h0m9.31,0h0m9.31,0h0m9.31,0h0m251.26,0h0m195.43,0h0m9.31,0h0m9.31,0h0m18.61,0h0m260.57,0h0m9.31,0h0m9.31,0h0m9.31,0h0M26.5,198.3h0m9.31,0h0m9.31,0h0m9.31,0h0m9.31,0h0m9.31,0h0m9.31,0h0m9.31,0h0m74.45,0h0m9.31,0h0m9.31,0h0m9.31,0h0m120.98,0h0m195.43,0h0m9.31,0h0m9.31,0h0m9.31,0h0m37.22,0h0m18.61,0h0m9.31,0h0m214.04,0h0m9.31,0h0m9.31,0h0m9.31,0h0m9.31,0h0M26.5,207.6h0m9.31,0h0m9.31,0h0m9.31,0h0m9.31,0h0m9.31,0h0m9.31,0h0m9.31,0h0m9.31,0h0m55.84,0h0m9.31,0h0m9.31,0h0m9.31,0h0m9.31,0h0m102.37,0h0m9.31,0h0m27.92,0h0m167.51,0h0m18.61,0h0m9.31,0h0m9.31,0h0m9.31,0h0m9.31,0h0m18.61,0h0m9.31,0h0m27.92,0h0m195.43,0h0m9.31,0h0m18.61,0h0m9.31,0h0m9.31,0h0M26.5,217h0m9.31,0h0m9.31,0h0m9.31,0h0m9.31,0h0m9.31,0h0m9.31,0h0m9.31,0h0m9.31,0h0m9.31,0h0m46.53,0h0m9.31,0h0m9.31,0h0m9.31,0h0m27.92,0h0m9.31,0h0m18.61,0h0m9.31,0h0m46.53,0h0m9.31,0h0m9.31,0h0m9.31,0h0m139.59,0h0m46.53,0h0m9.31,0h0m9.31,0h0m9.31,0h0m9.31,0h0m9.31,0h0m9.31,0h0m9.31,0h0m9.31,0h0m9.31,0h0m27.92,0h0m18.61,0h0m9.31,0h0m130.28,0h0m9.31,0h0m9.31,0h0m9.31,0h0m9.31,0h0m9.31,0h0m9.31,0h0m9.31,0h0m9.31,0h0M26.5,226.3h0m9.31,0h0m9.31,0h0m9.31,0h0m9.31,0h0m9.31,0h0m9.31,0h0m9.31,0h0m9.31,0h0m9.31,0h0m9.31,0h0m55.84,0h0m9.31,0h0m18.61,0h0m9.31,0h0m27.92,0h0m9.31,0h0m9.31,0h0m9.31,0h0m9.31,0h0m55.84,0h0m130.28,0h0m27.92,0h0m37.22,0h0m9.31,0h0m9.31,0h0m9.31,0h0m9.31,0h0m9.31,0h0m9.31,0h0m9.31,0h0m9.31,0h0m18.61,0h0m9.31,0h0m18.61,0h0m111.67,0h0m9.31,0h0m9.31,0h0m9.31,0h0m9.31,0h0m9.31,0h0m9.31,0h0m9.31,0h0m9.31,0h0m9.31,0h0m9.31,0h0M26.5,235.6h0m9.31,0h0m9.31,0h0m9.31,0h0m9.31,0h0m9.31,0h0m9.31,0h0m9.31,0h0m9.31,0h0m9.31,0h0m9.31,0h0m9.31,0h0m9.31,0h0m18.61,0h0m27.92,0h0m9.31,0h0m9.31,0h0m9.31,0h0m9.31,0h0m9.31,0h0m9.31,0h0m9.31,0h0m9.31,0h0m9.31,0h0m37.22,0h0m37.22,0h0m130.28,0h0m55.84,0h0m9.31,0h0m9.31,0h0m9.31,0h0m9.31,0h0m9.31,0h0m9.31,0h0m9.31,0h0m9.31,0h0m27.92,0h0m9.31,0h0m120.98,0h0m9.31,0h0m9.31,0h0m37.22,0h0m27.92,0h0m9.31,0h0M26.5,244.9h0m9.31,0h0m9.31,0h0m9.31,0h0m9.31,0h0m9.31,0h0m9.31,0h0m9.31,0h0m9.31,0h0m9.31,0h0m9.31,0h0m9.31,0h0m9.31,0h0m46.53,0h0m9.31,0h0m9.31,0h0m9.31,0h0m9.31,0h0m9.31,0h0m9.31,0h0m9.31,0h0m9.31,0h0m9.31,0h0m9.31,0h0m65.14,0h0m130.28,0h0m65.14,0h0m9.31,0h0m9.31,0h0m9.31,0h0m9.31,0h0m18.61,0h0m18.61,0h0m9.31,0h0m130.28,0h0m9.31,0h0m9.31,0h0m9.31,0h0m9.31,0h0m37.22,0h0m9.31,0h0m9.31,0h0m9.31,0h0M26.5,254.2h0m9.31,0h0m9.31,0h0m9.31,0h0m9.31,0h0m9.31,0h0m9.31,0h0m9.31,0h0m9.31,0h0m9.31,0h0m9.31,0h0m9.31,0h0m9.31,0h0m9.31,0h0m18.61,0h0m9.31,0h0m18.61,0h0m9.31,0h0m9.31,0h0m9.31,0h0m9.31,0h0m9.31,0h0m9.31,0h0m9.31,0h0m9.31,0h0m9.31,0h0m9.31,0h0m9.31,0h0m176.81,0h0m74.45,0h0m18.61,0h0m27.92,0h0m18.61,0h0m9.31,0h0m9.31,0h0m120.98,0h0m9.31,0h0m9.31,0h0m9.31,0h0m9.31,0h0m9.31,0h0m9.31,0h0m9.31,0h0m9.31,0h0m9.31,0h0m9.31,0h0m9.31,0h0M26.5,263.5h0m9.31,0h0m9.31,0h0m9.31,0h0m9.31,0h0m9.31,0h0m9.31,0h0m9.31,0h0m9.31,0h0m9.31,0h0m9.31,0h0m9.31,0h0m9.31,0h0m9.31,0h0m9.31,0h0m9.31,0h0m9.31,0h0m9.31,0h0m9.31,0h0m18.61,0h0m9.31,0h0m9.31,0h0m9.31,0h0m9.31,0h0m9.31,0h0m148.9,0h0m46.53,0h0m158.2,0h0m9.31,0h0m18.61,0h0m27.92,0h0m9.31,0h0m74.45,0h0m9.31,0h0m9.31,0h0m9.31,0h0m9.31,0h0m9.31,0h0m9.31,0h0m9.31,0h0m9.31,0h0m9.31,0h0m9.31,0h0m9.31,0h0M26.5,272.8h0m9.31,0h0m9.31,0h0m9.31,0h0m9.31,0h0m9.31,0h0m9.31,0h0m9.31,0h0m9.31,0h0m9.31,0h0m9.31,0h0m9.31,0h0m9.31,0h0m9.31,0h0m9.31,0h0m9.31,0h0m9.31,0h0m9.31,0h0m9.31,0h0m27.92,0h0m9.31,0h0m9.31,0h0m9.31,0h0m9.31,0h0m158.2,0h0m74.45,0h0m120.98,0h0m9.31,0h0m9.31,0h0m9.31,0h0m9.31,0h0m9.31,0h0m9.31,0h0m9.31,0h0m74.45,0h0m9.31,0h0m9.31,0h0m9.31,0h0m9.31,0h0m9.31,0h0m9.31,0h0m9.31,0h0m9.31,0h0m9.31,0h0m9.31,0h0m9.31,0h0M26.5,282.1h0m9.31,0h0m9.31,0h0m9.31,0h0m9.31,0h0m9.31,0h0m9.31,0h0m9.31,0h0m9.31,0h0m9.31,0h0m9.31,0h0m9.31,0h0m9.31,0h0m9.31,0h0m9.31,0h0m9.31,0h0m9.31,0h0m9.31,0h0m9.31,0h0m46.53,0h0m9.31,0h0m9.31,0h0m335.02,0h0m9.31,0h0m9.31,0h0m9.31,0h0m9.31,0h0m9.31,0h0m9.31,0h0m9.31,0h0m9.31,0h0m9.31,0h0m9.31,0h0m9.31,0h0m9.31,0h0m18.61,0h0m18.61,0h0m9.31,0h0m9.31,0h0m9.31,0h0m18.61,0h0m9.31,0h0m9.31,0h0m9.31,0h0m9.31,0h0m9.31,0h0m9.31,0h0m9.31,0h0M26.5,291.5h0m9.31,0h0m9.31,0h0m9.31,0h0m9.31,0h0m9.31,0h0m9.31,0h0m9.31,0h0m9.31,0h0m9.31,0h0m9.31,0h0m9.31,0h0m9.31,0h0m9.31,0h0m9.31,0h0m9.31,0h0m9.31,0h0m9.31,0h0m9.31,0h0m9.31,0h0m9.31,0h0m18.61,0h0m344.32,0h0m9.31,0h0m9.31,0h0m9.31,0h0m9.31,0h0m9.31,0h0m9.31,0h0m9.31,0h0m9.31,0h0m9.31,0h0m9.31,0h0m9.31,0h0m9.31,0h0m9.31,0h0m9.31,0h0m18.61,0h0m9.31,0h0m9.31,0h0m9.31,0h0m9.31,0h0m9.31,0h0m9.31,0h0m9.31,0h0m9.31,0h0m9.31,0h0m9.31,0h0m9.31,0h0m9.31,0h0m9.31,0h0m9.31,0h0M26.5,300.8h0m9.31,0h0m9.31,0h0m9.31,0h0m9.31,0h0m9.31,0h0m9.31,0h0m9.31,0h0m9.31,0h0m9.31,0h0m9.31,0h0m9.31,0h0m9.31,0h0m9.31,0h0m9.31,0h0m9.31,0h0m9.31,0h0m9.31,0h0m9.31,0h0m9.31,0h0m9.31,0h0m9.31,0h0m9.31,0h0m9.31,0h0m195.43,0h0m9.31,0h0m9.31,0h0m9.31,0h0m9.31,0h0m102.37,0h0m9.31,0h0m9.31,0h0m9.31,0h0m9.31,0h0m9.31,0h0m9.31,0h0m9.31,0h0m9.31,0h0m9.31,0h0m9.31,0h0m9.31,0h0m9.31,0h0m9.31,0h0m9.31,0h0m9.31,0h0m9.31,0h0m9.31,0h0m9.31,0h0m9.31,0h0m27.92,0h0m18.61,0h0m9.31,0h0m9.31,0h0m18.61,0h0m9.31,0h0m9.31,0h0M26.5,310.1h0m9.31,0h0m9.31,0h0m9.31,0h0m9.31,0h0m9.31,0h0m9.31,0h0m9.31,0h0m9.31,0h0m9.31,0h0m9.31,0h0m9.31,0h0m9.31,0h0m9.31,0h0m9.31,0h0m9.31,0h0m9.31,0h0m9.31,0h0m9.31,0h0m9.31,0h0m9.31,0h0m9.31,0h0m9.31,0h0m9.31,0h0m158.2,0h0m9.31,0h0m9.31,0h0m9.31,0h0m9.31,0h0m9.31,0h0m9.31,0h0m9.31,0h0m9.31,0h0m9.31,0h0m93.06,0h0m9.31,0h0m9.31,0h0m9.31,0h0m9.31,0h0m9.31,0h0m9.31,0h0m9.31,0h0m9.31,0h0m9.31,0h0m9.31,0h0m9.31,0h0m9.31,0h0m9.31,0h0m9.31,0h0m9.31,0h0m9.31,0h0m9.31,0h0m9.31,0h0m9.31,0h0m9.31,0h0m9.31,0h0m18.61,0h0m46.53,0h0m18.61,0h0M26.5,319.4h0m9.31,0h0m9.31,0h0m9.31,0h0m9.31,0h0m9.31,0h0m9.31,0h0m9.31,0h0m9.31,0h0m9.31,0h0m9.31,0h0m9.31,0h0m9.31,0h0m9.31,0h0m9.31,0h0m9.31,0h0m9.31,0h0m9.31,0h0m9.31,0h0m9.31,0h0m9.31,0h0m9.31,0h0m9.31,0h0m9.31,0h0m9.31,0h0m65.14,0h0m9.31,0h0m55.84,0h0m9.31,0h0m9.31,0h0m9.31,0h0m9.31,0h0m9.31,0h0m9.31,0h0m9.31,0h0m9.31,0h0m9.31,0h0m9.31,0h0m9.31,0h0m9.31,0h0m83.75,0h0m9.31,0h0m9.31,0h0m9.31,0h0m9.31,0h0m9.31,0h0m9.31,0h0m9.31,0h0m9.31,0h0m9.31,0h0m9.31,0h0m9.31,0h0m9.31,0h0m9.31,0h0m9.31,0h0m9.31,0h0m9.31,0h0m9.31,0h0m18.61,0h0m9.31,0h0m9.31,0h0m9.31,0h0m9.31,0h0m55.84,0h0m9.31,0h0M26.5,328.7h0m9.31,0h0m9.31,0h0m9.31,0h0m9.31,0h0m9.31,0h0m9.31,0h0m9.31,0h0m9.31,0h0m9.31,0h0m9.31,0h0m9.31,0h0m9.31,0h0m9.31,0h0m9.31,0h0m9.31,0h0m9.31,0h0m9.31,0h0m9.31,0h0m9.31,0h0m9.31,0h0m9.31,0h0m9.31,0h0m9.31,0h0m9.31,0h0m18.61,0h0m9.31,0h0m9.31,0h0m9.31,0h0m9.31,0h0m9.31,0h0m9.31,0h0m9.31,0h0m9.31,0h0m9.31,0h0m9.31,0h0m9.31,0h0m9.31,0h0m9.31,0h0m9.31,0h0m9.31,0h0m9.31,0h0m9.31,0h0m9.31,0h0m9.31,0h0m9.31,0h0m9.31,0h0m9.31,0h0m9.31,0h0m9.31,0h0m9.31,0h0m93.06,0h0m9.31,0h0m9.31,0h0m9.31,0h0m9.31,0h0m9.31,0h0m9.31,0h0m9.31,0h0m9.31,0h0m9.31,0h0m9.31,0h0m9.31,0h0m9.31,0h0m9.31,0h0m9.31,0h0m9.31,0h0m9.31,0h0m9.31,0h0m9.31,0h0m9.31,0h0m9.31,0h0m9.31,0h0m55.84,0h0m9.31,0h0M26.5,338h0m9.31,0h0m9.31,0h0m9.31,0h0m9.31,0h0m9.31,0h0m9.31,0h0m9.31,0h0m9.31,0h0m9.31,0h0m9.31,0h0m9.31,0h0m9.31,0h0m9.31,0h0m9.31,0h0m9.31,0h0m9.31,0h0m9.31,0h0m9.31,0h0m9.31,0h0m9.31,0h0m9.31,0h0m9.31,0h0m9.31,0h0m9.31,0h0m9.31,0h0m9.31,0h0m9.31,0h0m9.31,0h0m9.31,0h0m9.31,0h0m9.31,0h0m9.31,0h0m9.31,0h0m9.31,0h0m9.31,0h0m9.31,0h0m9.31,0h0m9.31,0h0m9.31,0h0m9.31,0h0m9.31,0h0m9.31,0h0m9.31,0h0m9.31,0h0m9.31,0h0m9.31,0h0m9.31,0h0m9.31,0h0m9.31,0h0m9.31,0h0m9.31,0h0m9.31,0h0m9.31,0h0m9.31,0h0m9.31,0h0m9.31,0h0m9.31,0h0m9.31,0h0m27.92,0h0m9.31,0h0m9.31,0h0m9.31,0h0m9.31,0h0m9.31,0h0m9.31,0h0m9.31,0h0m9.31,0h0m9.31,0h0m9.31,0h0m9.31,0h0m9.31,0h0m9.31,0h0m9.31,0h0m9.31,0h0m9.31,0h0m9.31,0h0m9.31,0h0m9.31,0h0m9.31,0h0m9.31,0h0m65.14,0h0M26.5,347.3h0m9.31,0h0m9.31,0h0m9.31,0h0m9.31,0h0m9.31,0h0m9.31,0h0m9.31,0h0m9.31,0h0m9.31,0h0m9.31,0h0m9.31,0h0m9.31,0h0m9.31,0h0m9.31,0h0m9.31,0h0m9.31,0h0m9.31,0h0m9.31,0h0m9.31,0h0m9.31,0h0m9.31,0h0m9.31,0h0m9.31,0h0m9.31,0h0m9.31,0h0m9.31,0h0m9.31,0h0m9.31,0h0m9.31,0h0m9.31,0h0m9.31,0h0m9.31,0h0m9.31,0h0m9.31,0h0m9.31,0h0m9.31,0h0m9.31,0h0m9.31,0h0m9.31,0h0m9.31,0h0m9.31,0h0m9.31,0h0m9.31,0h0m9.31,0h0m9.31,0h0m9.31,0h0m9.31,0h0m9.31,0h0m9.31,0h0m9.31,0h0m9.31,0h0m9.31,0h0m9.31,0h0m9.31,0h0m9.31,0h0m9.31,0h0m9.31,0h0m9.31,0h0m37.22,0h0m9.31,0h0m9.31,0h0m9.31,0h0m18.61,0h0m9.31,0h0m9.31,0h0m9.31,0h0m9.31,0h0m9.31,0h0m9.31,0h0m9.31,0h0m27.92,0h0m18.61,0h0m9.31,0h0m18.61,0h0m18.61,0h0m9.31,0h0m27.92,0h0M26.5,356.7h0m9.31,0h0m9.31,0h0m9.31,0h0m9.31,0h0m9.31,0h0m9.31,0h0m9.31,0h0m9.31,0h0m9.31,0h0m9.31,0h0m9.31,0h0m9.31,0h0m9.31,0h0m9.31,0h0m9.31,0h0m9.31,0h0m9.31,0h0m9.31,0h0m9.31,0h0m9.31,0h0m9.31,0h0m9.31,0h0m9.31,0h0m9.31,0h0m9.31,0h0m9.31,0h0m9.31,0h0m9.31,0h0m9.31,0h0m9.31,0h0m9.31,0h0m9.31,0h0m9.31,0h0m9.31,0h0m9.31,0h0m9.31,0h0m9.31,0h0m9.31,0h0m9.31,0h0m9.31,0h0m9.31,0h0m9.31,0h0m9.31,0h0m9.31,0h0m9.31,0h0m9.31,0h0m9.31,0h0m9.31,0h0m9.31,0h0m9.31,0h0m9.31,0h0m9.31,0h0m9.31,0h0m9.31,0h0m9.31,0h0m9.31,0h0m9.31,0h0m9.31,0h0m9.31,0h0m27.92,0h0m9.31,0h0m9.31,0h0m46.53,0h0m9.31,0h0m9.31,0h0m18.61,0h0m9.31,0h0m9.31,0h0m46.53,0h0m9.31,0h0m9.31,0h0m9.31,0h0m9.31,0h0m9.31,0h0m9.31,0h0m9.31,0h0m9.31,0h0m9.31,0h0M26.5,366h0m9.31,0h0m9.31,0h0m9.31,0h0m9.31,0h0m9.31,0h0m9.31,0h0m9.31,0h0m9.31,0h0m9.31,0h0m9.31,0h0m9.31,0h0m9.31,0h0m9.31,0h0m9.31,0h0m9.31,0h0m9.31,0h0m9.31,0h0m9.31,0h0m9.31,0h0m9.31,0h0m9.31,0h0m9.31,0h0m9.31,0h0m9.31,0h0m9.31,0h0m9.31,0h0m9.31,0h0m9.31,0h0m9.31,0h0m9.31,0h0m9.31,0h0m9.31,0h0m9.31,0h0m9.31,0h0m9.31,0h0m9.31,0h0m9.31,0h0m9.31,0h0m9.31,0h0m9.31,0h0m9.31,0h0m9.31,0h0m9.31,0h0m9.31,0h0m9.31,0h0m9.31,0h0m9.31,0h0m9.31,0h0m9.31,0h0m9.31,0h0m9.31,0h0m9.31,0h0m9.31,0h0m9.31,0h0m9.31,0h0m9.31,0h0m9.31,0h0m9.31,0h0m9.31,0h0m18.61,0h0m9.31,0h0m9.31,0h0m9.31,0h0m18.61,0h0m9.31,0h0m9.31,0h0m9.31,0h0m9.31,0h0m9.31,0h0m9.31,0h0m9.31,0h0m65.14,0h0m9.31,0h0m9.31,0h0m9.31,0h0m9.31,0h0m9.31,0h0m9.31,0h0m9.31,0h0m9.31,0h0m9.31,0h0M26.5,375.3h0m9.31,0h0m9.31,0h0m9.31,0h0m9.31,0h0m9.31,0h0m9.31,0h0m9.31,0h0m9.31,0h0m9.31,0h0m9.31,0h0m9.31,0h0m9.31,0h0m9.31,0h0m9.31,0h0m9.31,0h0m9.31,0h0m9.31,0h0m9.31,0h0m9.31,0h0m9.31,0h0m9.31,0h0m9.31,0h0m9.31,0h0m9.31,0h0m9.31,0h0m9.31,0h0m9.31,0h0m9.31,0h0m9.31,0h0m9.31,0h0m9.31,0h0m9.31,0h0m9.31,0h0m9.31,0h0m9.31,0h0m9.31,0h0m9.31,0h0m9.31,0h0m9.31,0h0m9.31,0h0m9.31,0h0m9.31,0h0m9.31,0h0m9.31,0h0m9.31,0h0m9.31,0h0m9.31,0h0m9.31,0h0m9.31,0h0m9.31,0h0m9.31,0h0m9.31,0h0m9.31,0h0m9.31,0h0m9.31,0h0m9.31,0h0m9.31,0h0m9.31,0h0m9.31,0h0m18.61,0h0m18.61,0h0m9.31,0h0m9.31,0h0m27.92,0h0m9.31,0h0m9.31,0h0m9.31,0h0m9.31,0h0m9.31,0h0m9.31,0h0m65.14,0h0m9.31,0h0m9.31,0h0m9.31,0h0m9.31,0h0m9.31,0h0m9.31,0h0m9.31,0h0m9.31,0h0M26.5,384.6h0m9.31,0h0m9.31,0h0m9.31,0h0m9.31,0h0m9.31,0h0m9.31,0h0m9.31,0h0m9.31,0h0m9.31,0h0m9.31,0h0m9.31,0h0m9.31,0h0m9.31,0h0m9.31,0h0m9.31,0h0m9.31,0h0m9.31,0h0m9.31,0h0m9.31,0h0m9.31,0h0m9.31,0h0m9.31,0h0m9.31,0h0m9.31,0h0m9.31,0h0m9.31,0h0m9.31,0h0m9.31,0h0m9.31,0h0m9.31,0h0m9.31,0h0m9.31,0h0m9.31,0h0m9.31,0h0m9.31,0h0m9.31,0h0m9.31,0h0m9.31,0h0m9.31,0h0m9.31,0h0m9.31,0h0m9.31,0h0m9.31,0h0m9.31,0h0m9.31,0h0m9.31,0h0m9.31,0h0m9.31,0h0m9.31,0h0m9.31,0h0m9.31,0h0m9.31,0h0m9.31,0h0m9.31,0h0m9.31,0h0m9.31,0h0m9.31,0h0m9.31,0h0m18.61,0h0m9.31,0h0m9.31,0h0m9.31,0h0m37.22,0h0m9.31,0h0m9.31,0h0m9.31,0h0m9.31,0h0m18.61,0h0m9.31,0h0m9.31,0h0m65.14,0h0m9.31,0h0m9.31,0h0m9.31,0h0m9.31,0h0m9.31,0h0m9.31,0h0m9.31,0h0M26.5,393.9h0m9.31,0h0m9.31,0h0m9.31,0h0m9.31,0h0m9.31,0h0m9.31,0h0m9.31,0h0m9.31,0h0m9.31,0h0m9.31,0h0m9.31,0h0m9.31,0h0m9.31,0h0m9.31,0h0m9.31,0h0m9.31,0h0m9.31,0h0m9.31,0h0m9.31,0h0m9.31,0h0m9.31,0h0m9.31,0h0m9.31,0h0m9.31,0h0m9.31,0h0m9.31,0h0m9.31,0h0m9.31,0h0m9.31,0h0m9.31,0h0m9.31,0h0m9.31,0h0m9.31,0h0m9.31,0h0m9.31,0h0m9.31,0h0m9.31,0h0m9.31,0h0m9.31,0h0m9.31,0h0m9.31,0h0m9.31,0h0m9.31,0h0m9.31,0h0m9.31,0h0m9.31,0h0m9.31,0h0m9.31,0h0m9.31,0h0m9.31,0h0m9.31,0h0m9.31,0h0m9.31,0h0m9.31,0h0m9.31,0h0m9.31,0h0m9.31,0h0m9.31,0h0m18.61,0h0m9.31,0h0m93.06,0h0m9.31,0h0m93.06,0h0m9.31,0h0m18.61,0h0m9.31,0h0m9.31,0h0m9.31,0h0m9.31,0h0M26.5,403.2h0m9.31,0h0m9.31,0h0m9.31,0h0m9.31,0h0m9.31,0h0m9.31,0h0m9.31,0h0m9.31,0h0m9.31,0h0m9.31,0h0m9.31,0h0m9.31,0h0m9.31,0h0m9.31,0h0m9.31,0h0m9.31,0h0m9.31,0h0m9.31,0h0m9.31,0h0m9.31,0h0m9.31,0h0m9.31,0h0m9.31,0h0m9.31,0h0m9.31,0h0m9.31,0h0m9.31,0h0m9.31,0h0m9.31,0h0m9.31,0h0m9.31,0h0m9.31,0h0m9.31,0h0m9.31,0h0m9.31,0h0m9.31,0h0m9.31,0h0m9.31,0h0m9.31,0h0m9.31,0h0m9.31,0h0m9.31,0h0m9.31,0h0m9.31,0h0m9.31,0h0m9.31,0h0m9.31,0h0m9.31,0h0m9.31,0h0m9.31,0h0m9.31,0h0m9.31,0h0m9.31,0h0m9.31,0h0m9.31,0h0m9.31,0h0m9.31,0h0m9.31,0h0m27.92,0h0m74.45,0h0m18.61,0h0m9.31,0h0m74.45,0h0m9.31,0h0m27.92,0h0m9.31,0h0m18.61,0h0m9.31,0h0m9.31,0h0M26.5,412.5h0m9.31,0h0m9.31,0h0m9.31,0h0m9.31,0h0m9.31,0h0m9.31,0h0m9.31,0h0m9.31,0h0m9.31,0h0m9.31,0h0m9.31,0h0m9.31,0h0m9.31,0h0m9.31,0h0m9.31,0h0m9.31,0h0m9.31,0h0m9.31,0h0m9.31,0h0m9.31,0h0m9.31,0h0m9.31,0h0m9.31,0h0m9.31,0h0m9.31,0h0m9.31,0h0m9.31,0h0m9.31,0h0m9.31,0h0m9.31,0h0m9.31,0h0m9.31,0h0m9.31,0h0m9.31,0h0m9.31,0h0m9.31,0h0m9.31,0h0m9.31,0h0m9.31,0h0m9.31,0h0m9.31,0h0m9.31,0h0m9.31,0h0m9.31,0h0m9.31,0h0m9.31,0h0m9.31,0h0m9.31,0h0m9.31,0h0m9.31,0h0m9.31,0h0m9.31,0h0m9.31,0h0m9.31,0h0m9.31,0h0m9.31,0h0m9.31,0h0m9.31,0h0m27.92,0h0m46.53,0h0m37.22,0h0m83.75,0h0m9.31,0h0m18.61,0h0m9.31,0h0m9.31,0h0m9.31,0h0m18.61,0h0m9.31,0h0"/>
</g>
<rect class="fr" x="22" y="45" width="838.5" height="372"/>
</g>
<g id="map-c" transform="translate(853.6,559.4)">
<g clip-path="url(#cp)">
<rect x="22" y="45" width="838.5" height="372" fill="#fef7b3"/>
<g transform="translate(0.6,0)">
<path fill="#fffab7" d="M20.9,45.6H28.1V54.9H20.9ZM20.9,152.9H28.1V162.2H20.9ZM20.9,170.8H28.1V180H20.9ZM20.9,287H28.1V314.1H20.9ZM20.9,349.6H28.1V376.7H20.9ZM20.9,43.9H37.1V45.9H20.9ZM20.9,161.9H37.1V171.1H20.9ZM20.9,269.2H37.1V287.3H20.9ZM20.9,99.3H46V108.5H20.9ZM20.9,251.3H46V269.4H20.9ZM20.9,242.3H55V251.6H20.9ZM20.9,412.2H90.7V418.1H20.9ZM36.8,90.3H46V99.6H36.8ZM36.8,233.4H55V242.6H36.8ZM45.7,224.4H72.8V233.7H45.7ZM54.7,108.2H63.9V117.5H54.7ZM54.7,188.7H63.9V197.9H54.7ZM54.7,179.7H68.4V184.5H54.7ZM54.7,184.2H72.8V189H54.7ZM54.7,215.5H72.8V224.8H54.7ZM99.4,376.4H108.6V403.5H99.4ZM108.3,340.7H126.5V349.9H108.3ZM117.2,296H135.4V305.2H117.2ZM117.2,412.2H135.4V418.1H117.2ZM117.2,287H144.4V296.3H117.2ZM126.2,43.9H144.4V54.9H126.2ZM126.2,403.2H162.2V412.5H126.2ZM144.1,90.3H162.2V99.6H144.1ZM153,304.9H180.1V314.1H153ZM161.9,206.6H171.2V215.8H161.9ZM161.9,331.7H171.2V341H161.9ZM161.9,340.7H180.1V349.9H161.9ZM170.9,349.6H189.1V358.8H170.9ZM170.9,358.6H198V394.6H170.9ZM179.8,394.3H189.1V403.5H179.8ZM197.7,54.6H224.8V81.7H197.7ZM206.6,45.6H224.8V54.9H206.6ZM206.6,81.4H224.8V90.6H206.6ZM215.6,43.9H224.8V45.9H215.6ZM215.6,412.2H224.8V418.1H215.6ZM251.3,260.2H260.6V269.4H251.3ZM251.3,251.3H265V260.5H251.3ZM287.1,43.9H305.3V45.9H287.1ZM291.6,193.2H296.3V206.9H291.6ZM300.5,179.7H305.3V193.5H300.5ZM300.5,170.8H318.7V180H300.5ZM305,63.5H314.2V72.8H305ZM331.8,367.5H350V385.7H331.8ZM349.7,108.2H367.9V126.4H349.7ZM367.6,99.3H376.8V108.5H367.6ZM385.4,54.6H403.6V63.8H385.4ZM394.4,90.3H412.6V99.6H394.4ZM412.3,304.9H430.4V314.1H412.3ZM412.3,376.4H439.4V385.7H412.3ZM412.3,385.4H448.3V394.6H412.3ZM421.2,367.5H439.4V376.7H421.2ZM430.1,394.3H457.3V412.5H430.1ZM439.1,81.4H448.3V90.6H439.1ZM439.1,412.2H448.3V418.1H439.1ZM457,304.9H466.2V314.1H457ZM457,340.7H484.1V358.8H457ZM457,54.6H528.8V63.8H457ZM465.9,358.6H484.1V367.8H465.9ZM465.9,43.9H510.9V45.9H465.9ZM465.9,45.6H519.8V54.9H465.9ZM483.8,108.2H493V126.4H483.8ZM497.2,206.6H502V211.3H497.2ZM501.7,63.5H537.7V72.8H501.7ZM501.7,72.5H546.7V81.7H501.7ZM510.6,144H528.8V153.2H510.6ZM510.6,126.1H537.7V144.3H510.6ZM510.6,81.4H546.7V90.6H510.6ZM555.3,233.4H564.5V247.1H555.3ZM555.3,394.3H564.5V412.5H555.3ZM564.2,43.9H591.4V45.9H564.2ZM564.2,296H591.4V305.2H564.2ZM573.2,304.9H591.4V314.1H573.2ZM582.1,152.9H591.4V162.2H582.1ZM582.1,215.5H600.3V233.7H582.1ZM591.1,99.3H600.3V108.5H591.1ZM591.1,233.4H600.3V242.6H591.1ZM591.1,81.4H609.2V99.6H591.1ZM591.1,72.5H618.2V81.7H591.1ZM600,63.5H618.2V72.8H600ZM608.9,54.6H618.2V63.8H608.9ZM608.9,117.2H627.1V126.4H608.9ZM608.9,260.2H627.1V269.4H608.9ZM608.9,304.9H627.1V314.1H608.9ZM608.9,296H671.8V305.2H608.9ZM617.9,313.9H627.1V323.1H617.9ZM617.9,287H636.1V296.3H617.9ZM626.8,278.1H636.1V287.3H626.8ZM626.8,380.9H636.1V390.1H626.8ZM626.8,43.9H645V54.9H626.8ZM626.8,376.4H645V381.2H626.8ZM635.8,224.4H645V229.2H635.8ZM644.7,340.7H653.9V349.9H644.7ZM653.6,304.9H662.9V314.1H653.6ZM653.6,117.2H671.8V144.3H653.6ZM662.6,54.6H680.8V63.8H662.6ZM662.6,45.6H689.7V54.9H662.6ZM662.6,43.9H698.6V45.9H662.6ZM689.4,322.8H707.6V332H689.4ZM716.2,99.3H721V108.5H716.2ZM716.2,90.3H734.4V99.6H716.2ZM734.1,416.7H765.7V418.1H734.1ZM743,63.5H770.2V72.8H743ZM743,54.6H779.1V63.8H743ZM752,72.5H770.2V81.7H752ZM752,45.6H779.1V54.9H752ZM760.9,43.9H788V45.9H760.9ZM769.9,220H788V224.8H769.9ZM778.8,224.4H788V229.2H778.8ZM778.8,242.3H797V247.1H778.8ZM778.8,251.3H797V260.5H778.8ZM778.8,246.8H861.6V251.6H778.8ZM787.7,228.9H797V242.6H787.7ZM787.7,260.2H797V287.3H787.7ZM787.7,287H805.9V296.3H787.7ZM787.7,296H814.9V305.2H787.7ZM796.7,313.9H805.9V323.1H796.7ZM796.7,304.9H814.9V314.1H796.7ZM805.6,237.9H859.6V242.6H805.6ZM805.6,242.3H861.6V247.1H805.6ZM814.6,233.4H859.6V238.2H814.6ZM814.6,251.3H861.6V260.5H814.6ZM823.5,224.4H850.6V233.7H823.5ZM823.5,260.2H859.6V269.4H823.5ZM832.4,215.5H841.7V224.8H832.4ZM832.4,179.7H850.6V189H832.4ZM832.4,269.2H850.6V287.3H832.4ZM832.4,170.8H861.6V180H832.4ZM841.4,99.3H859.6V108.5H841.4ZM841.4,108.2H861.6V126.4H841.4ZM841.4,161.9H861.6V171.1H841.4ZM850.3,144H861.6V162.2H850.3Z"/>
<path fill="#fed687" d="M85.9,45.6H95.2V54.9H85.9ZM94.9,193.2H104.1V202.4H94.9ZM117.2,54.6H126.5V63.8H117.2ZM135.1,63.5H153.3V81.7H135.1ZM144.1,81.4H153.3V90.6H144.1ZM144.1,228.9H162.2V238.2H144.1ZM144.1,99.3H229.3V108.5H144.1ZM188.8,108.2H206.9V117.5H188.8ZM188.8,211H206.9V220.3H188.8ZM197.7,278.1H206.9V287.3H197.7ZM237.9,126.1H256.1V135.3H237.9ZM246.9,157.4H309.8V166.6H246.9ZM264.8,260.2H274V269.4H264.8ZM264.8,251.3H282.9V260.5H264.8ZM273.7,237.9H282.9V251.6H273.7ZM273.7,135H296.3V148.8H273.7ZM291.6,228.9H309.8V238.2H291.6ZM296,166.3H300.8V175.6H296ZM296,246.8H300.8V260.5H296ZM296,148.5H309.8V157.7H296ZM296,202.1H341V211.3H296ZM305,193.2H318.7V202.4H305ZM318.4,166.3H341V175.6H318.4ZM340.7,237.9H350V247.1H340.7ZM340.7,269.2H358.9V278.4H340.7ZM367.6,184.2H385.7V193.5H367.6ZM367.6,175.3H394.7V184.5H367.6ZM412.3,237.9H421.5V247.1H412.3ZM416.7,166.3H430.4V175.6H416.7ZM421.2,220H430.4V229.2H421.2ZM448,246.8H461.7V269.4H448ZM452.5,166.3H470.7V175.6H452.5ZM461.4,211H470.7V220.3H461.4ZM461.4,237.9H479.6V247.1H461.4ZM479.3,157.4H488.5V166.6H479.3ZM488.2,175.3H497.5V184.5H488.2ZM488.2,193.2H497.5V202.4H488.2ZM488.2,278.1H497.5V287.3H488.2ZM506.1,260.2H515.4V269.4H506.1ZM515.1,237.9H524.3V247.1H515.1ZM515.1,278.1H524.3V287.3H515.1ZM564.2,246.8H573.5V260.5H564.2ZM573.2,278.1H582.4V287.3H573.2ZM582.1,269.2H591.4V278.4H582.1ZM608.9,184.2H618.2V193.5H608.9ZM608.9,220H627.1V238.2H608.9ZM617.9,193.2H627.1V202.4H617.9ZM626.8,202.1H636.1V211.3H626.8ZM626.8,260.2H636.1V269.4H626.8ZM635.8,211H653.9V220.3H635.8ZM644.7,380.9H653.9V390.1H644.7ZM644.7,166.3H662.9V175.6H644.7ZM644.7,398.8H662.9V408H644.7ZM662.6,175.3H676.3V184.5H662.6ZM662.6,152.9H721V166.6H662.6ZM693.9,260.2H712V269.4H693.9ZM693.9,331.7H712V341H693.9ZM693.9,340.7H721V349.9H693.9ZM702.8,135H721V144.3H702.8ZM711.7,144H738.9V153.2H711.7ZM720.7,126.1H747.8V135.3H720.7ZM729.6,117.2H738.9V126.4H729.6ZM729.6,202.1H738.9V211.3H729.6ZM738.6,211H747.8V220.3H738.6ZM747.5,220H756.7V238.2H747.5ZM747.5,117.2H765.7V126.4H747.5ZM756.4,211H774.6V220.3H756.4ZM765.4,90.3H774.6V99.6H765.4ZM765.4,331.7H774.6V341H765.4ZM774.3,117.2H788V135.3H774.3ZM787.7,166.3H797V184.5H787.7ZM787.7,184.2H805.9V193.5H787.7ZM796.7,193.2H805.9V202.4H796.7ZM796.7,398.8H805.9V408H796.7ZM823.5,376.4H832.7V381.2H823.5ZM823.5,398.8H832.7V408H823.5Z"/>
<path fill="#fee496" d="M59.1,135H68.4V148.8H59.1ZM59.1,126.1H77.3V135.3H59.1ZM59.1,148.5H77.3V157.7H59.1ZM68.1,166.3H77.3V184.5H68.1ZM68.1,157.4H86.2V166.6H68.1ZM85.9,63.5H95.2V90.6H85.9ZM94.9,45.6H113.1V54.9H94.9ZM126.2,54.6H144.4V63.8H126.2ZM135.1,228.9H144.4V251.6H135.1ZM135.1,251.3H153.3V260.5H135.1ZM144.1,202.1H153.3V229.2H144.1ZM144.1,260.2H153.3V269.4H144.1ZM144.1,269.2H162.2V278.4H144.1ZM153,63.5H162.2V72.8H153ZM153,193.2H215.9V202.4H153ZM161.9,228.9H180.1V238.2H161.9ZM170.9,108.2H180.1V117.5H170.9ZM170.9,237.9H180.1V251.6H170.9ZM170.9,251.3H193.5V260.5H170.9ZM179.8,287H189.1V305.2H179.8ZM179.8,304.9H206.9V314.1H179.8ZM179.8,90.3H238.2V99.6H179.8ZM188.8,202.1H198V211.3H188.8ZM197.7,269.2H224.8V278.4H197.7ZM206.6,202.1H215.9V220.3H206.6ZM229,175.3H247.2V184.5H229ZM237.9,278.1H256.1V287.3H237.9ZM246.9,166.3H256.1V175.6H246.9ZM255.8,126.1H265V135.3H255.8ZM255.8,269.2H265V278.4H255.8ZM255.8,220H291.9V229.2H255.8ZM264.8,237.9H274V251.6H264.8ZM282.6,193.2H291.9V220.3H282.6ZM282.6,251.3H291.9V260.5H282.6ZM282.6,246.8H296.3V251.6H282.6ZM282.6,237.9H300.8V247.1H282.6ZM296,135H305.3V148.8H296ZM296,193.2H305.3V202.4H296ZM296,121.6H314.2V135.3H296ZM318.4,220H336.6V229.2H318.4ZM327.3,157.4H341V166.6H327.3ZM340.7,202.1H358.9V211.3H340.7ZM340.7,220H358.9V229.2H340.7ZM349.7,193.2H367.9V202.4H349.7ZM358.6,175.3H367.9V193.5H358.6ZM358.6,278.1H367.9V287.3H358.6ZM385.4,296H394.7V305.2H385.4ZM385.4,166.3H417V175.6H385.4ZM403.3,260.2H412.6V278.4H403.3ZM412.3,211H421.5V220.3H412.3ZM430.1,166.3H452.8V175.6H430.1ZM448,157.4H470.7V166.6H448ZM461.4,220H479.6V238.2H461.4ZM461.4,246.8H479.6V260.5H461.4ZM461.4,260.2H488.5V269.4H461.4ZM470.4,166.3H479.6V175.6H470.4ZM470.4,211H479.6V220.3H470.4ZM488.2,220H497.5V229.2H488.2ZM497.2,193.2H506.4V202.4H497.2ZM497.2,322.8H506.4V332H497.2ZM497.2,166.3H515.4V175.6H497.2ZM497.2,184.2H515.4V193.5H497.2ZM497.2,211H524.3V220.3H497.2ZM506.1,175.3H515.4V184.5H506.1ZM515.1,220H524.3V238.2H515.1ZM524,237.9H533.2V247.1H524ZM524,246.8H564.5V260.5H524ZM541.9,175.3H551.1V184.5H541.9ZM541.9,166.3H573.5V175.6H541.9ZM541.9,184.2H573.5V193.5H541.9ZM564.2,175.3H573.5V184.5H564.2ZM564.2,331.7H573.5V367.8H564.2ZM564.2,389.8H573.5V417H564.2ZM564.2,322.8H582.4V332H564.2ZM564.2,367.5H582.4V376.7H564.2ZM564.2,237.9H591.4V247.1H564.2ZM564.2,313.9H600.3V323.1H564.2ZM564.2,193.2H618.2V202.4H564.2ZM573.2,376.4H582.4V381.2H573.2ZM582.1,278.1H595.8V287.3H582.1ZM582.1,398.8H595.8V408H582.1ZM582.1,380.9H604.8V399.1H582.1ZM582.1,175.3H627.1V184.5H582.1ZM591.1,184.2H600.3V193.5H591.1ZM591.1,246.8H600.3V260.5H591.1ZM591.1,322.8H600.3V332H591.1ZM591.1,367.5H600.3V381.2H591.1ZM591.1,202.1H627.1V211.3H591.1ZM591.1,407.7H662.9V417H591.1ZM595.5,358.6H600.3V367.8H595.5ZM595.5,269.2H609.2V278.4H595.5ZM595.5,331.7H609.2V341H595.5ZM595.5,349.6H609.2V358.8H595.5ZM608.9,211H636.1V220.3H608.9ZM617.9,184.2H627.1V193.5H617.9ZM617.9,389.8H636.1V399.1H617.9ZM617.9,398.8H645V408H617.9ZM626.8,166.3H636.1V175.6H626.8ZM626.8,349.6H653.9V358.8H626.8ZM635.8,380.9H645V390.1H635.8ZM635.8,228.9H653.9V238.2H635.8ZM635.8,152.9H662.9V166.6H635.8ZM644.7,220H653.9V229.2H644.7ZM644.7,260.2H685.2V269.4H644.7ZM653.6,380.9H662.9V390.1H653.6ZM653.6,358.6H685.2V367.8H653.6ZM653.6,416.7H694.2V418.1H653.6ZM662.6,398.8H676.3V408H662.6ZM667,166.3H676.3V175.6H667ZM667,380.9H676.3V399.1H667ZM676,135H703.1V153.2H676ZM684.9,389.8H694.2V399.1H684.9ZM684.9,269.2H721V278.4H684.9ZM702.8,349.6H712V358.8H702.8ZM711.7,331.7H729.9V341H711.7ZM711.7,278.1H738.9V287.3H711.7ZM720.7,117.2H729.9V126.4H720.7ZM720.7,322.8H747.8V332H720.7ZM720.7,99.3H797V108.5H720.7ZM720.7,108.2H805.9V117.5H720.7ZM729.6,237.9H747.8V247.1H729.6ZM729.6,135H756.7V144.3H729.6ZM729.6,193.2H756.7V202.4H729.6ZM738.6,184.2H747.8V193.5H738.6ZM738.6,202.1H756.7V211.3H738.6ZM738.6,90.3H765.7V99.6H738.6ZM738.6,331.7H765.7V341H738.6ZM747.5,211H756.7V220.3H747.5ZM747.5,313.9H765.7V323.1H747.5ZM765.4,416.7H797V418.1H765.4ZM774.3,331.7H783.6V341H774.3ZM774.3,90.3H788V99.6H774.3ZM774.3,349.6H788V358.8H774.3ZM774.3,340.7H797V349.9H774.3ZM774.3,211H805.9V220.3H774.3ZM787.7,126.1H797V135.3H787.7ZM787.7,157.4H797V166.6H787.7ZM787.7,358.6H805.9V367.8H787.7ZM796.7,367.5H814.9V376.7H796.7ZM796.7,349.6H841.7V358.8H796.7ZM805.6,407.7H832.7V417H805.6ZM814.6,380.9H823.8V390.1H814.6ZM823.5,389.8H832.7V399.1H823.5ZM823.5,367.5H850.6V376.7H823.5ZM823.5,416.7H850.6V418.1H823.5ZM850.3,358.6H861.6V367.8H850.3ZM859.3,367.5H861.6V417H859.3Z"/>
<path fill="#fdc576" d="M77,126.1H86.2V135.3H77ZM77,175.3H86.2V184.5H77ZM85.9,90.3H95.2V99.6H85.9ZM85.9,54.6H117.5V63.8H85.9ZM117.2,211H126.5V220.3H117.2ZM126.2,63.5H135.4V81.7H126.2ZM126.2,81.4H144.4V90.6H126.2ZM135.1,90.3H144.4V108.5H135.1ZM161.9,184.2H171.2V193.5H161.9ZM179.8,260.2H193.5V269.4H179.8ZM188.8,117.2H198V126.4H188.8ZM188.8,269.2H198V278.4H188.8ZM206.6,108.2H247.2V117.5H206.6ZM215.6,278.1H238.2V287.3H215.6ZM215.6,202.1H247.2V211.3H215.6ZM215.6,220H256.1V229.2H215.6ZM229,99.3H238.2V108.5H229ZM229,184.2H238.2V193.5H229ZM229,117.2H247.2V126.4H229ZM229,211H247.2V220.3H229ZM246.9,175.3H265V184.5H246.9ZM246.9,296H265V305.2H246.9ZM246.9,148.5H282.9V157.7H246.9ZM255.8,278.1H265V296.3H255.8ZM255.8,135H274V148.8H255.8ZM255.8,166.3H296.3V175.6H255.8ZM264.8,184.2H274V193.5H264.8ZM264.8,269.2H282.9V278.4H264.8ZM273.7,202.1H282.9V211.3H273.7ZM273.7,228.9H291.9V238.2H273.7ZM273.7,260.2H291.9V269.4H273.7ZM273.7,175.3H300.8V184.5H273.7ZM282.6,184.2H300.8V193.5H282.6ZM291.6,251.3H296.3V260.5H291.6ZM296,220H318.7V229.2H296ZM318.4,184.2H341V202.4H318.4ZM318.4,237.9H341V247.1H318.4ZM318.4,175.3H358.9V184.5H318.4ZM327.3,260.2H341V269.4H327.3ZM327.3,246.8H350V260.5H327.3ZM327.3,228.9H358.9V238.2H327.3ZM340.7,211H367.9V220.3H340.7ZM349.7,278.1H358.9V287.3H349.7ZM358.6,269.2H367.9V278.4H358.6ZM358.6,287H367.9V296.3H358.6ZM376.5,296H385.7V305.2H376.5ZM385.4,193.2H394.7V202.4H385.4ZM385.4,211H394.7V220.3H385.4ZM403.3,278.1H412.6V287.3H403.3ZM412.3,228.9H421.5V238.2H412.3ZM412.3,246.8H421.5V260.5H412.3ZM412.3,269.2H421.5V278.4H412.3ZM439.1,260.2H448.3V269.4H439.1ZM439.1,228.9H461.7V247.1H439.1ZM448,220H461.7V229.2H448ZM479.3,246.8H488.5V260.5H479.3ZM479.3,166.3H497.5V175.6H479.3ZM479.3,269.2H497.5V278.4H479.3ZM488.2,202.1H497.5V220.3H488.2ZM497.2,260.2H506.4V269.4H497.2ZM515.1,175.3H524.3V184.5H515.1ZM524,269.2H542.2V278.4H524ZM532.9,260.2H564.5V269.4H532.9ZM564.2,278.1H573.5V287.3H564.2ZM573.2,269.2H582.4V278.4H573.2ZM573.2,380.9H582.4V390.1H573.2ZM573.2,184.2H591.4V193.5H573.2ZM573.2,246.8H591.4V269.4H573.2ZM591.1,269.2H595.8V278.4H591.1ZM591.1,331.7H595.8V341H591.1ZM591.1,349.6H595.8V367.8H591.1ZM600,184.2H609.2V193.5H600ZM600,246.8H609.2V269.4H600ZM626.8,175.3H636.1V184.5H626.8ZM635.8,166.3H645V175.6H635.8ZM635.8,237.9H645V260.5H635.8ZM635.8,389.8H645V399.1H635.8ZM635.8,202.1H653.9V211.3H635.8ZM644.7,175.3H662.9V184.5H644.7ZM653.6,211H662.9V229.2H653.6ZM653.6,389.8H662.9V399.1H653.6ZM662.6,367.5H676.3V381.2H662.6ZM676,246.8H685.2V260.5H676ZM676,166.3H721V175.6H676ZM684.9,260.2H694.2V269.4H684.9ZM684.9,358.6H694.2V367.8H684.9ZM693.9,246.8H703.1V260.5H693.9ZM693.9,349.6H703.1V358.8H693.9ZM702.8,144H712V153.2H702.8ZM711.7,246.8H721V269.4H711.7ZM720.7,152.9H738.9V166.6H720.7ZM729.6,184.2H738.9V193.5H729.6ZM729.6,269.2H738.9V278.4H729.6ZM729.6,246.8H747.8V269.4H729.6ZM738.6,117.2H747.8V126.4H738.6ZM738.6,228.9H747.8V238.2H738.6ZM738.6,144H788V153.2H738.6ZM747.5,126.1H756.7V135.3H747.5ZM747.5,184.2H788V193.5H747.5ZM756.4,340.7H765.7V349.9H756.4ZM756.4,135H788V144.3H756.4ZM765.4,117.2H774.6V135.3H765.4ZM765.4,349.6H774.6V358.8H765.4ZM774.3,152.9H788V166.6H774.3ZM787.7,380.9H797V390.1H787.7ZM787.7,407.7H805.9V417H787.7ZM796.7,202.1H805.9V211.3H796.7ZM796.7,389.8H805.9V399.1H796.7ZM796.7,376.4H814.9V381.2H796.7ZM805.6,380.9H814.9V390.1H805.6ZM814.6,389.8H823.8V399.1H814.6ZM823.5,380.9H832.7V390.1H823.5ZM841.4,376.4H850.6V381.2H841.4ZM841.4,407.7H850.6V417H841.4Z"/>
<path fill="#fb9d59" d="M77,148.5H86.2V157.7H77ZM94.9,63.5H104.1V72.8H94.9ZM103.8,72.5H117.5V81.7H103.8ZM117.2,81.4H126.5V90.6H117.2ZM126.2,90.3H135.4V99.6H126.2ZM170.9,260.2H180.1V269.4H170.9ZM179.8,108.2H189.1V117.5H179.8ZM197.7,117.2H229.3V126.4H197.7ZM215.6,193.2H229.3V202.4H215.6ZM237.9,157.4H247.2V166.6H237.9ZM246.9,202.1H265V211.3H246.9ZM255.8,193.2H265V202.4H255.8ZM273.7,184.2H282.9V193.5H273.7ZM282.6,296H291.9V305.2H282.6ZM282.6,278.1H296.3V287.3H282.6ZM300.5,246.8H309.8V260.5H300.5ZM340.7,193.2H350V202.4H340.7ZM340.7,260.2H350V269.4H340.7ZM349.7,237.9H358.9V247.1H349.7ZM358.6,202.1H376.8V211.3H358.6ZM394.4,175.3H421.5V184.5H394.4ZM403.3,246.8H412.6V260.5H403.3ZM421.2,211H430.4V220.3H421.2ZM421.2,246.8H430.4V260.5H421.2ZM421.2,237.9H439.4V247.1H421.2ZM430.1,202.1H439.4V211.3H430.1ZM439.1,220H448.3V229.2H439.1ZM439.1,246.8H448.3V260.5H439.1ZM448,211H461.7V220.3H448ZM452.5,175.3H461.7V184.5H452.5ZM470.4,269.2H479.6V278.4H470.4ZM488.2,228.9H497.5V238.2H488.2ZM497.2,175.3H506.4V184.5H497.2ZM497.2,246.8H506.4V260.5H497.2ZM564.2,269.2H573.5V278.4H564.2ZM582.1,376.4H591.4V381.2H582.1ZM635.8,175.3H645V184.5H635.8ZM644.7,389.8H653.9V399.1H644.7ZM676,237.9H685.2V247.1H676ZM684.9,367.5H694.2V381.2H684.9ZM720.7,246.8H729.9V269.4H720.7ZM729.6,331.7H738.9V341H729.6ZM756.4,349.6H765.7V358.8H756.4ZM774.3,175.3H788V184.5H774.3ZM787.7,398.8H797V408H787.7ZM796.7,380.9H805.9V390.1H796.7ZM832.4,407.7H841.7V417H832.4ZM850.3,376.4H859.6V381.2H850.3Z"/>
<path fill="#fdb366" d="M77,166.3H86.2V175.6H77ZM103.8,63.5H126.5V72.8H103.8ZM117.2,72.5H126.5V81.7H117.2ZM135.1,211H144.4V220.3H135.1ZM161.9,237.9H171.2V251.6H161.9ZM188.8,278.1H198V287.3H188.8ZM197.7,202.1H206.9V211.3H197.7ZM206.6,184.2H215.9V193.5H206.6ZM206.6,278.1H215.9V296.3H206.6ZM215.6,126.1H238.2V135.3H215.6ZM229,166.3H238.2V175.6H229ZM229,193.2H247.2V202.4H229ZM237.9,296H247.2V305.2H237.9ZM237.9,287H256.1V296.3H237.9ZM237.9,184.2H265V193.5H237.9ZM246.9,211H256.1V220.3H246.9ZM264.8,175.3H274V184.5H264.8ZM264.8,296H274V305.2H264.8ZM273.7,193.2H282.9V202.4H273.7ZM273.7,211H282.9V220.3H273.7ZM296,278.1H300.8V287.3H296ZM300.5,237.9H309.8V247.1H300.5ZM318.4,228.9H327.6V238.2H318.4ZM327.3,269.2H341V278.4H327.3ZM340.7,184.2H350V193.5H340.7ZM340.7,278.1H350V287.3H340.7ZM367.6,287H376.8V296.3H367.6ZM367.6,193.2H385.7V202.4H367.6ZM385.4,184.2H403.6V193.5H385.4ZM421.2,260.2H430.4V269.4H421.2ZM430.1,211H439.4V220.3H430.1ZM488.2,260.2H497.5V269.4H488.2ZM497.2,220H515.4V238.2H497.2ZM497.2,269.2H515.4V287.3H497.2ZM506.1,237.9H515.4V247.1H506.1ZM524,260.2H533.2V269.4H524ZM564.2,260.2H573.5V269.4H564.2ZM582.1,322.8H591.4V332H582.1ZM626.8,184.2H645V202.4H626.8ZM676,367.5H685.2V376.7H676ZM684.9,246.8H694.2V260.5H684.9ZM684.9,380.9H694.2V390.1H684.9ZM702.8,246.8H712V260.5H702.8ZM720.7,237.9H729.9V247.1H720.7ZM720.7,269.2H729.9V278.4H720.7ZM729.6,166.3H738.9V175.6H729.6ZM747.5,175.3H756.7V184.5H747.5ZM756.4,126.1H765.7V135.3H756.4ZM756.4,193.2H797V211.3H756.4ZM765.4,152.9H774.6V166.6H765.4ZM774.3,166.3H788V175.6H774.3ZM787.7,376.4H797V381.2H787.7ZM832.4,376.4H841.7V381.2H832.4ZM841.4,380.9H850.6V390.1H841.4ZM841.4,398.8H850.6V408H841.4ZM850.3,367.5H859.6V376.7H850.3Z"/>
<path fill="#fafdc9" d="M403.3,63.5H412.6V72.8H403.3ZM412.3,72.5H421.5V81.7H412.3ZM461.4,90.3H470.7V99.6H461.4ZM497.2,90.3H506.4V99.6H497.2ZM600,340.7H618.2V349.9H600ZM747.5,278.1H783.6V287.3H747.5ZM805.6,398.8H823.8V408H805.6ZM814.6,376.4H823.8V381.2H814.6Z"/>
<path fill="#f47044" d="M94.9,72.5H104.1V81.7H94.9ZM103.8,81.4H117.5V90.6H103.8ZM135.1,108.2H153.3V117.5H135.1ZM161.9,108.2H171.2V117.5H161.9ZM161.9,251.3H171.2V260.5H161.9ZM188.8,296H206.9V305.2H188.8ZM197.7,184.2H206.9V193.5H197.7ZM215.6,296H224.8V305.2H215.6ZM224.5,287H238.2V296.3H224.5ZM255.8,211H265V220.3H255.8ZM296,260.2H300.8V269.4H296ZM309.5,246.8H318.7V260.5H309.5ZM309.5,269.2H318.7V278.4H309.5ZM318.4,260.2H327.6V269.4H318.4ZM327.3,278.1H341V287.3H327.3ZM349.7,184.2H358.9V193.5H349.7ZM349.7,260.2H358.9V269.4H349.7ZM358.6,220H367.9V229.2H358.6ZM376.5,202.1H385.7V211.3H376.5ZM385.4,287H394.7V296.3H385.4ZM403.3,184.2H412.6V193.5H403.3ZM403.3,228.9H412.6V238.2H403.3ZM412.3,278.1H421.5V287.3H412.3ZM439.1,211H448.3V220.3H439.1ZM461.4,175.3H470.7V184.5H461.4ZM461.4,269.2H470.7V278.4H461.4ZM479.3,220H488.5V238.2H479.3ZM488.2,184.2H497.5V193.5H488.2ZM515.1,269.2H524.3V278.4H515.1ZM573.2,340.7H582.4V349.9H573.2ZM573.2,398.8H582.4V408H573.2ZM644.7,193.2H653.9V202.4H644.7ZM644.7,184.2H662.9V193.5H644.7ZM662.6,407.7H676.3V417H662.6ZM676,175.3H685.2V184.5H676ZM684.9,237.9H694.2V247.1H684.9ZM693.9,175.3H712V184.5H693.9ZM702.8,358.6H712V367.8H702.8ZM720.7,175.3H729.9V184.5H720.7ZM738.6,220H747.8V229.2H738.6ZM747.5,340.7H756.7V358.8H747.5ZM747.5,166.3H765.7V175.6H747.5ZM765.4,340.7H774.6V349.9H765.4ZM832.4,398.8H841.7V408H832.4ZM841.4,389.8H850.6V399.1H841.4Z"/>
<path fill="#e24731" d="M94.9,81.4H104.1V90.6H94.9ZM117.2,99.3H126.5V108.5H117.2ZM126.2,108.2H135.4V117.5H126.2ZM144.1,237.9H153.3V251.6H144.1ZM179.8,117.2H189.1V126.4H179.8ZM229,157.4H238.2V166.6H229ZM246.9,304.9H256.1V314.1H246.9ZM264.8,278.1H274V287.3H264.8ZM273.7,296H282.9V305.2H273.7ZM291.6,287H296.3V296.3H291.6ZM300.5,269.2H309.8V278.4H300.5ZM367.6,211H376.8V220.3H367.6ZM367.6,296H376.8V305.2H367.6ZM385.4,202.1H394.7V211.3H385.4ZM430.1,220H439.4V229.2H430.1ZM470.4,175.3H479.6V184.5H470.4ZM532.9,278.1H542.2V287.3H532.9ZM662.6,220H676.3V229.2H662.6ZM676,389.8H685.2V399.1H676ZM711.7,349.6H721V358.8H711.7ZM720.7,340.7H729.9V349.9H720.7ZM729.6,228.9H738.9V238.2H729.6ZM774.3,407.7H788V417H774.3ZM850.3,398.8H859.6V408H850.3Z"/>
<path fill="#c62027" d="M94.9,90.3H104.1V99.6H94.9ZM291.6,269.2H296.3V278.4H291.6ZM515.1,260.2H524.3V269.4H515.1ZM573.2,358.6H582.4V367.8H573.2ZM662.6,211H676.3V220.3H662.6ZM684.9,175.3H694.2V184.5H684.9ZM702.8,237.9H712V247.1H702.8ZM711.7,175.3H721V184.5H711.7ZM729.6,220H738.9V229.2H729.6Z"/>
<path fill="#ec5c3b" d="M68.1,135H77.3V148.8H68.1ZM103.8,90.3H117.5V99.6H103.8ZM117.2,108.2H126.5V117.5H117.2ZM135.1,202.1H144.4V211.3H135.1ZM153,237.9H162.2V251.6H153ZM188.8,184.2H198V193.5H188.8ZM197.7,148.5H206.9V157.7H197.7ZM215.6,166.3H229.3V175.6H215.6ZM215.6,184.2H229.3V193.5H215.6ZM237.9,135H247.2V148.8H237.9ZM296,269.2H300.8V278.4H296ZM318.4,269.2H327.6V278.4H318.4ZM340.7,287H350V296.3H340.7ZM394.4,211H403.6V220.3H394.4ZM403.3,237.9H412.6V247.1H403.3ZM412.3,184.2H439.4V193.5H412.3ZM421.2,202.1H430.4V211.3H421.2ZM421.2,228.9H430.4V238.2H421.2ZM430.1,246.8H439.4V260.5H430.1ZM439.1,175.3H452.8V184.5H439.1ZM439.1,202.1H461.7V211.3H439.1ZM479.3,237.9H488.5V247.1H479.3ZM515.1,246.8H524.3V260.5H515.1ZM524,287H533.2V296.3H524ZM541.9,269.2H564.5V278.4H541.9ZM653.6,193.2H662.9V202.4H653.6ZM662.6,228.9H676.3V238.2H662.6ZM662.6,246.8H676.3V260.5H662.6ZM676,380.9H685.2V390.1H676ZM693.9,237.9H703.1V247.1H693.9ZM711.7,237.9H721V247.1H711.7ZM720.7,184.2H729.9V202.4H720.7ZM729.6,175.3H747.8V184.5H729.6ZM738.6,166.3H747.8V175.6H738.6ZM765.4,166.3H774.6V175.6H765.4ZM805.6,389.8H814.9V399.1H805.6Z"/>
<path fill="#f8864f" d="M117.2,90.3H126.5V99.6H117.2ZM126.2,99.3H135.4V108.5H126.2ZM153,260.2H171.2V269.4H153ZM170.9,117.2H180.1V126.4H170.9ZM197.7,126.1H215.9V135.3H197.7ZM197.7,135H229.3V148.8H197.7ZM215.6,287H224.8V296.3H215.6ZM237.9,148.5H247.2V157.7H237.9ZM237.9,166.3H247.2V175.6H237.9ZM237.9,304.9H247.2V314.1H237.9ZM246.9,135H256.1V148.8H246.9ZM246.9,193.2H256.1V202.4H246.9ZM264.8,193.2H274V211.3H264.8ZM264.8,287H274V296.3H264.8ZM273.7,278.1H282.9V287.3H273.7ZM282.6,269.2H291.9V278.4H282.6ZM291.6,260.2H296.3V269.4H291.6ZM300.5,260.2H309.8V269.4H300.5ZM349.7,287H358.9V296.3H349.7ZM358.6,228.9H367.9V238.2H358.6ZM376.5,287H385.7V296.3H376.5ZM394.4,193.2H403.6V211.3H394.4ZM412.3,220H421.5V229.2H412.3ZM412.3,260.2H421.5V269.4H412.3ZM421.2,175.3H430.4V184.5H421.2ZM430.1,228.9H439.4V238.2H430.1ZM479.3,193.2H488.5V202.4H479.3ZM488.2,246.8H497.5V260.5H488.2ZM497.2,237.9H506.4V247.1H497.2ZM524,278.1H533.2V287.3H524ZM550.8,175.3H564.5V184.5H550.8ZM591.1,260.2H600.3V269.4H591.1ZM591.1,340.7H600.3V349.9H591.1ZM653.6,202.1H662.9V211.3H653.6ZM653.6,228.9H662.9V238.2H653.6ZM662.6,184.2H676.3V193.5H662.6ZM676,376.4H685.2V381.2H676ZM720.7,166.3H729.9V175.6H720.7ZM738.6,152.9H765.7V166.6H738.6ZM756.4,175.3H774.6V184.5H756.4ZM774.3,398.8H788V408H774.3ZM787.7,349.6H797V358.8H787.7ZM787.7,367.5H797V376.7H787.7ZM787.7,389.8H797V399.1H787.7ZM832.4,380.9H841.7V390.1H832.4ZM850.3,380.9H859.6V390.1H850.3Z"/>
<path fill="#a50026" d="M77,135H198V148.8H77ZM85.9,99.3H117.5V117.5H85.9ZM85.9,117.2H162.2V126.4H85.9ZM85.9,184.2H162.2V193.5H85.9ZM85.9,126.1H198V135.3H85.9ZM85.9,148.5H198V157.7H85.9ZM85.9,166.3H215.9V184.5H85.9ZM85.9,157.4H229.3V166.6H85.9ZM103.8,202.1H135.4V211.3H103.8ZM103.8,193.2H153.3V202.4H103.8ZM126.2,211H135.4V220.3H126.2ZM126.2,228.9H135.4V238.2H126.2ZM126.2,220H144.4V229.2H126.2ZM153,108.2H162.2V117.5H153ZM153,251.3H162.2V260.5H153ZM161.9,269.2H189.1V278.4H161.9ZM170.9,278.1H189.1V287.3H170.9ZM188.8,287H206.9V296.3H188.8ZM206.6,296H215.9V305.2H206.6ZM206.6,148.5H238.2V157.7H206.6ZM206.6,304.9H238.2V314.1H206.6ZM215.6,313.9H309.8V323.1H215.6ZM224.5,296H238.2V305.2H224.5ZM246.9,322.8H265V332H246.9ZM255.8,304.9H394.7V314.1H255.8ZM273.7,287H282.9V296.3H273.7ZM291.6,296H367.9V305.2H291.6ZM296,287H327.6V296.3H296ZM300.5,278.1H318.7V287.3H300.5ZM309.5,228.9H318.7V247.1H309.5ZM318.4,246.8H327.6V260.5H318.4ZM327.3,313.9H376.8V323.1H327.3ZM349.7,246.8H403.6V260.5H349.7ZM358.6,237.9H403.6V247.1H358.6ZM358.6,260.2H403.6V269.4H358.6ZM367.6,228.9H403.6V238.2H367.6ZM367.6,269.2H403.6V287.3H367.6ZM367.6,220H412.6V229.2H367.6ZM394.4,287H524.3V296.3H394.4ZM394.4,296H564.5V305.2H394.4ZM403.3,211H412.6V220.3H403.3ZM403.3,193.2H421.5V211.3H403.3ZM421.2,278.1H488.5V287.3H421.2ZM430.1,175.3H439.4V184.5H430.1ZM452.5,193.2H479.6V202.4H452.5ZM470.4,202.1H488.5V211.3H470.4ZM479.3,175.3H488.5V193.5H479.3ZM479.3,211H488.5V220.3H479.3ZM488.2,237.9H497.5V247.1H488.2ZM488.2,304.9H573.5V314.1H488.2ZM497.2,313.9H564.5V323.1H497.2ZM506.1,322.8H564.5V332H506.1ZM541.9,278.1H564.5V296.3H541.9ZM573.2,389.8H582.4V399.1H573.2ZM573.2,331.7H591.4V341H573.2ZM573.2,349.6H591.4V358.8H573.2ZM573.2,407.7H591.4V417H573.2ZM582.1,340.7H591.4V349.9H582.1ZM582.1,358.6H591.4V367.8H582.1ZM644.7,237.9H662.9V260.5H644.7ZM676,193.2H721V211.3H676ZM676,211H729.9V229.2H676ZM676,398.8H774.6V408H676ZM684.9,184.2H712V193.5H684.9ZM684.9,228.9H729.9V238.2H684.9ZM684.9,407.7H774.6V417H684.9ZM693.9,358.6H703.1V367.8H693.9ZM693.9,367.5H788V399.1H693.9ZM711.7,358.6H788V367.8H711.7ZM720.7,349.6H747.8V358.8H720.7ZM729.6,340.7H747.8V349.9H729.6ZM850.3,389.8H859.6V399.1H850.3ZM850.3,407.7H859.6V417H850.3Z"/>
<path fill="#eff9dd" d="M385.4,108.2H394.7V117.5H385.4ZM394.4,99.3H403.6V108.5H394.4Z"/>
<path fill="#d83128" d="M161.9,117.2H171.2V126.4H161.9ZM215.6,175.3H229.3V184.5H215.6ZM229,135H238.2V148.8H229ZM282.6,287H291.9V296.3H282.6ZM309.5,260.2H318.7V269.4H309.5ZM318.4,278.1H327.6V287.3H318.4ZM327.3,287H341V296.3H327.3ZM376.5,211H385.7V220.3H376.5ZM430.1,260.2H439.4V269.4H430.1ZM439.1,269.2H461.7V278.4H439.1ZM461.4,202.1H470.7V211.3H461.4ZM470.4,184.2H479.6V193.5H470.4ZM506.1,246.8H515.4V260.5H506.1ZM532.9,287H542.2V296.3H532.9ZM582.1,367.5H591.4V376.7H582.1ZM662.6,193.2H676.3V211.3H662.6ZM662.6,237.9H676.3V247.1H662.6ZM676,184.2H685.2V193.5H676ZM676,228.9H685.2V238.2H676ZM676,407.7H685.2V417H676ZM720.7,202.1H729.9V211.3H720.7ZM729.6,211H738.9V220.3H729.6ZM832.4,389.8H841.7V399.1H832.4Z"/>
<path fill="#a50026" d="M170.9,184.2H189.1V193.5H170.9ZM264.8,211H274V220.3H264.8ZM421.2,269.2H439.4V278.4H421.2ZM421.2,193.2H452.8V202.4H421.2ZM439.1,184.2H470.7V193.5H439.1ZM711.7,184.2H721V193.5H711.7Z"/>
<path fill="#d6eef5" d="M774.3,228.9H788V238.2H774.3ZM787.7,220H805.9V229.2H787.7ZM796.7,228.9H814.9V238.2H796.7ZM814.6,313.9H823.8V323.1H814.6ZM814.6,340.7H841.7V349.9H814.6ZM823.5,322.8H832.7V332H823.5ZM823.5,331.7H841.7V341H823.5ZM841.4,349.6H850.6V367.8H841.4Z"/>
<path fill="#e4f4f1" d="M796.7,237.9H805.9V247.1H796.7ZM805.6,322.8H814.9V332H805.6ZM805.6,220H819.3V229.2H805.6ZM832.4,313.9H841.7V323.1H832.4Z"/>
<path fill="#b0dcea" d="M814.6,322.8H823.8V332H814.6ZM823.5,313.9H832.7V323.1H823.5Z"/>
<path fill="#8abeda" d="M805.6,331.7H814.9V341H805.6Z"/>
<path fill="#9dcee3" d="M814.6,331.7H823.8V341H814.6Z"/>
<path fill="#c3e5f0" d="M796.7,340.7H814.9V349.9H796.7ZM814.6,367.5H823.8V376.7H814.6Z"/>
<path class="oc" d="M20,45 H86.1 V63.7 H95 V98.7 H86.1 V126.7 H77.3 V135.5 H68.5 V148.6 H77.3 V158.3 H86.1 V167 H77.3 V184.6 H86.1 V194.3 H95 V203.1 H86.1 V211.9 H94.9 V203.1 H103.7 V211.9 H117.7 V220.7 H126.4 V229.4 H144 V260.1 H152.7 V269.7 H161.5 V287.2 H179.9 V296 H188.6 V304.8 H206.2 V314.4 H214.9 V323.2 H237.7 V331.9 H274.5 V323.2 H385.6 V314.1 H412.7 V305.3 H430.2 V296.6 H480.2 V305.3 H488.9 V314.1 H497.7 V332.5 H564.3 V341.3 H573.9 V350 H581.8 V381.6 H573.9 V417 H20 Z"/>
<rect x="86" y="90.5" width="9.1" height="8.3" fill="#fdc576"/><rect x="506.4" y="332.4" width="9" height="9" fill="#ec5c3b"/>
<path d="M564.1,332.9L565,341.2L573.3,342.1L573.3,350.4L582.1,350.4L582.1,380.9L576.1,380.9L574.2,371.7L577,361.5L571.5,347.7L562.3,338.5L558.6,333.8ZM573.3,380.9L569.6,393.8L567.8,406.7L570.1,412.3L573.3,416.9ZM500.4,332L530.9,332L530,335.7L518,337.1L506.9,336.6ZM551.2,352.3L553.9,347.7L558.6,346.3L561.8,348.6L559.9,354.1L556.7,357.8L553,357.4ZM530,386.4L532.3,384.6L534.1,386.4L532.7,389.2L530.4,388.7ZM514.3,411.3L517.5,409L520.7,410.9L520.3,415L516.6,416.4L514.3,414.1ZM132.6,229.4L144,229.4L144,239.9L139.6,233.8ZM146.6,260.1L152.7,260.1L152.7,266.2ZM152.7,269.7L161.5,269.7L161.5,278.5L157.1,275.9ZM223.7,323.2L237.7,323.2L237.7,331.1ZM274.5,323.2L281.5,323.2L274.5,326.7ZM241.2,331.9L264,331.9L253.5,336.3ZM348.1,323.2L363.9,323.2L356,329.3ZM94.9,204L102.8,204L103.7,211.9L97.5,210.2ZM95,64.5L95,89.9L93.1,87.3L93.2,71.5ZM86.1,158.3L86.1,167L82.2,162.7ZM95,203L104.1,203L104.1,211.7L98.9,210.8ZM86.1,211.7L86.1,215.2L93.6,215.2Z" fill="#a2a2a2"/>
<path class="bd" d="M448.1,44.4L452.4,47.5L453.7,49L454,51L453.5,57.1L453.6,59L454.2,60.4L455.1,61.6L456.3,62.4L458.1,62.4L470.4,60.5L472.6,60.1L474.8,59.7L501.1,54.4L503.1,53.8L504.9,52.6L513.8,45.3M472.6,60.2L473.4,99.1L473.3,101.3L473,103.5L471.3,111.4L470.7,113.6L470,115.6L467.3,122.1L466.3,124L464.8,125.6L461.1,128.8L459.3,129.9L457.3,130.2L452.9,130.2L450.7,130.3L448.5,130.4L421.3,132.7L419.2,133.1L417.3,134.1L412.2,137.7L410.3,138.7L408.2,139L398.1,139M398.1,139L385.4,136.8L383.3,136.7L381.2,137.3L359.8,147.7L358.2,148.7L357.2,149.8L356.6,151L355.7,151.8L353.9,151.9L349.5,151.5L347.5,151.7L345.8,152.8L339.2,159.3L337.7,160.7L336.2,161.5L334.7,162.1L333.7,162.8L333.3,163.8L333.3,165L332.9,166.3L331.7,167.7L329.6,169.9L327.9,170.8L326,170.5L322.2,168.8L320.2,168.5L318.5,169.3L315.7,171.7L314.4,173.4L313.7,175.4L313.4,178L313,179.8L312.3,180.8L311.4,181.4L310.6,182.3L310.1,184.1L309.2,188.5L308.4,190.4L306.8,191.7L300,195.1M398.1,139L397.5,143.1L397.6,145.1L398.2,147.1L400.6,151.9L401.7,153.8L403,155.6L407.3,160.9L408.7,162.6L410.4,164L413.9,166.6L414.9,167.8L414.5,168.8L413.3,169.7L412.6,170.7L412.7,172L413.3,173.5L414.3,174.8L415.9,175.7L427.6,180.3L429.6,181.1L431.4,181.9L433.2,182.8L434.4,183.8L434.6,184.8L434.3,186L434.5,187.2L435.5,188.3L437,189.5L438.5,190.1L440.3,189.6L444.4,187.4L446.3,186.9L448.1,187.6L461.2,197.7M438.4,190.7L437.3,194.2L436.4,195.8L434.9,197.3L431.4,199.9L429.6,201.1L427.6,202L422.9,203.9L421,204.9L419.2,206.2L415.6,209.4L414,210.9L412.6,212.6L410.8,215.2L409.9,217.1L409.8,219.2L410.1,221.8L410.7,223.8L412,225.5L417,229.9M461.2,197.7L461.9,185.9L462.4,183.8L463.5,182L466.8,178.3L468,176.6L468.8,174.6L470.2,170L471.1,168.1L472.4,166.4L475.4,163.3L477.1,162.1L479.2,161.5L492.3,159.5L494.5,159.4L496.6,159.6L508.1,162.2L510.1,162.9L511.9,164.1L522.6,173.5L524.4,174.4L526.4,174.2L538,170.4L540,170L542.1,170.5L560,177.3M461.2,197.7L459.3,202.7L459,204.7L459.7,206.6L463.6,213.3L464.3,215.3L464.3,217.4L463.4,221.8L462.9,223.9L462.4,226L461.2,229.9M341.2,212.6L385.4,212.6L387.5,212.4L389.3,211.7L391.1,210.8L393,210.4L395,210.7L401.3,212.8L403.4,213.2L405.4,213.2L409.5,212.6M391.1,210L392.9,218.7L397.2,224L400.9,229.9M687.6,45.3L682.8,99.1L682.3,101.2L681.2,103L659.6,127.7L658.2,129.4L657,131.2L646.1,148.5L645.4,150.5L645.3,152.6L646.4,158.7L647,160.8L648,162.7L655.1,172.3L656.3,173.7L657.5,174.3L659.9,174.9M560,177.6L570.1,179L572.1,178.9L573.9,177.8L581.2,171.2L582.9,170L585,169.5L601.6,168.1L603.8,168.1L605.9,168.4L622.7,172.6L624.7,172.7L626.6,171.9L635.3,165.7L637.2,164.5L639.2,163.7L646.7,160.9M656.4,174L657.7,181.5L658.4,183.5L659.7,185.2L665.3,190.9L666.4,192.6L666.5,194.6L665.6,199L664.8,201L663.3,202.4L656.5,207L654.7,208.3L653.2,209.9L649,215.3L647.7,217.1L646.8,219L642.4,229.9M666.9,192.4L671.8,193.7L673.4,194.6L674.2,196.4L675.4,206L675.7,208.2L676.2,210.3L678.6,220.1L679.3,222.2L680.4,224.1L684.4,229.9M841.2,45.3L841.2,121.9L840.7,123.6L839,124.3L825,125.7L823.2,126.3L822.3,128L821.6,130.7L821,132.8L820.1,134.8L816.8,141.4L815.7,143.2L814.4,144.5L812.9,145.7L811.9,147.1L812,149L812.7,151.8L812.7,153.7L811.6,155.4L807,159.4L805.9,161L806.1,162.9L808,167.6L808.2,169.6L807.3,171.3L802.4,176.8L801.4,178.2L801.2,179L801.5,179.6L802.3,180.1L804,180.5L806.6,180.8L808.4,181.5L809.5,183.2L813.4,195.6L814.2,197.6L815.2,199.4L816.4,201.2L817.6,203L818.7,204.7L819.9,206.5L820.6,208.2L820.5,209.9L819.3,213.5M819.3,213.5L808.8,213.5L798.3,220.5L793,229.9M819.3,213.5L826.3,222.2L831.6,229.9M822.8,45.3L840.4,53.1L841.2,53.1M642.4,230L640.4,236.7L639.5,238.6L638.1,240.2L635.3,242.6L633.9,244.2L633.2,246.2L632.3,250.6L631.5,252.5L630.1,253.9L628.3,255.1L626.8,256.5L625.6,258.3L622.3,264.8L621.4,266.8L620.6,268.9L618.5,275.2L617.6,277.2L616.3,278.9L614.1,281L612.8,282.7L611.7,284.6L609.9,289.3L608.8,291.1L607.3,292.6L603.8,295.3L602.2,295.8L601.1,294.6L599.5,291.5L598.3,289.8L596.6,288.6L593.5,287.1L591.5,286.4L589.4,286.5L584.9,287.4L582.9,288L581,289.1L572.3,295.3L570.6,296.7L569,298.1L565.1,302L563.6,303.7L562.5,305.6L560,310.6M684.4,230L660.3,232.4L658.4,232.9L657,234.1L655.8,235.6L655.3,237.1L656,238.7L660.3,244.1L661.7,245.7L663.3,247.2L670.5,253.1L672,254.6L673.4,256.4L677.9,263.2L679.1,265.1L680.1,267L682.5,271.8L683.2,273.6L683.2,275L682.7,277.3M683.5,276.4L685.3,277.6L686.5,277.9L688.2,277.4L696.4,274.5L698.2,273.8L699.6,272.9L700.8,272L702,271.8L703.5,272.7L705.6,274.9L707.3,275.8L709.2,275.6L724.4,269.4L726.5,268.7L728.6,268.1L738.3,266.3L740.3,265.6L742,264.3L747.8,257.9L748.6,256.3L748.1,254.8L746.9,253.3L746.6,252.1L747.9,251.4L759.4,248.9L761.5,248.3L763.6,247.7L771.7,244.8L773.7,243.9L775.6,242.7L784.2,236.5L786.1,235.3L787.9,234.1L794.8,230M682.7,277.3L676.9,286L675.6,287.8L674.4,289.7L669.9,296.5L668.6,298.3L667.3,300.1L664.7,303.6L663.9,305.4L664.2,307.4L665.2,310.3L665.7,312.3L665.7,314.1L665.4,315.9L665.4,317.7L665.8,319.7L667.9,326L668.7,328.1L669.5,330.1L674.8,341.9L675.8,343.8L677.1,345.6L684.7,354.5L686.2,356.1L687.7,357.7L691.6,361.6L693.1,363.2L694.3,364.9L695.5,366.7L696.2,368.4L696.1,370.2L695.5,371.9L694.9,373.8L694.4,375.8L693.2,380.7M694.9,373.7L699.4,361.7L700.2,359.7L701.2,357.7L702.7,354.6L704,353L705.8,352.1L715.6,349.7L717.7,349.4L719.9,349.4L729.5,350.6L731.7,350.7L733.9,350.4L736.6,349.7L738.3,349.6L739.3,350.3L740.5,352.7M812.3,340.4L816.4,333.5L817.8,331.9L819.7,330.9L826,328.8L828.1,328.2L830.3,327.8L845.2,325.8L847.4,325.5L849.6,325.3L860,324.6M833.3,230L831,245.3L831,247.4L831.6,249.3L832.5,251L833.7,252.5L835.4,253.5L841.8,255.6L843.6,256.5L845,258L846.2,259.8L847.6,261.3L849.3,262.5L860,267.7M576.6,373.7L579.6,375.4L581.2,376.1L583.2,376.3L603.4,376.3L605,376.2L605.6,375.7L605.6,375.1L606.1,374.7L607.8,374.6L638.4,375.4L640.6,375.5L642.8,375.6L662.9,377L665.1,377.3L667.3,377.7L677,380.2L679.2,380.6L681.3,381L693.2,382.4M605.6,376.3L605.6,398.2L574,398.2M640.6,375.4L639.3,382L639.1,384.2L639.5,386.3L640.8,390.9L641.8,392.3L643.5,392.4L645.6,391.8L647.7,391.3L649.8,391L655.9,390.5L657.8,390.9L659.2,392.2L660.5,394.6L661.2,396.5L661.2,398.6L660.3,403.1L659.7,405.1L658.6,407L655.9,410.5L654.7,412.2L653.8,413.7L652,416.6M167.2,142.5L171.4,134.8L172.5,132.9L173.9,131.2L176.3,128.4L177.8,127.2L179.4,127L181.2,127.3L182.9,127.9L184.5,129.2L186.7,131.3L188.3,132.3L189.9,132L191.7,131.1L193.6,130.4L195.7,130.1L215.8,128.6L217.6,128.3L218.6,127.5L219.2,126.5L219.8,126L220.3,126.5L220.9,127.5L221.9,128.2L223.7,128.5L290.3,128.5L292,127.9L292.8,126.3L293.9,117.5L293.9,115.4L293.2,113.4L290.8,108.6L290,106.5L289.6,104.4L282.8,46.1M167.2,142.5L168.6,151.7L169.1,153.8L169.9,155.9L171.5,158.9L172.3,160.9L173,163L173.7,165.8L174.5,167.8L175.8,169.5L177.9,171.6L179.3,173.3L180.2,175.2L181.3,178.1L181.8,180.1L181.8,181.9L181.2,185.4M85.7,163.5L101.9,162.8L104.1,162.5L106.2,161.9L109.1,160.8L111.1,160.4L113.2,160.8L116.1,161.9L118.1,162.7L120.2,163.5L124.8,165.3L126.9,165.9L129.1,165.9L131.7,165.6L133.6,165.6L134.8,166.2L135.7,167L135.9,167.9L135.1,168.8L133.6,169.7L132,170.3L130,170.3L125.6,169.9L123.4,169.5L121.4,168.7L116.6,166.3L114.6,165.7L112.5,165.8L109.7,166.5L107.6,167.1L105.6,167.8L102.7,168.9L100.8,169.7L99.4,170.5L98.3,171.4L96.8,172.1L94.9,172.4L83.1,173.2M85.7,186.3L100.2,184.8L102.3,184.4L104.4,183.7L109.1,181.9L111.2,181.3L113.3,181.1L137,181.1L139.2,181.1L141.3,181.2L149.2,181.8L151,182.1L152,182.8L152.6,183.7L153.6,184.4L155.4,184.7L163.2,185.3L165.4,185.4L167.6,185.4L181.2,185.4M139.2,181.1L138,185.2L137.3,187L136.2,188.3L135.1,189.5L134.4,190.8L134.8,192.4L135.7,194.2L135.9,195.8L135.1,197.1L133.6,198.3L132,199.3L130,200.1L125.5,201.4L123.6,202.3L122,203.8L119.6,206.5L118.3,208.1L117.3,209.4L115.5,211.7M181.2,185.4L181.2,189L181.5,190M198.4,190L198.5,189.9L200.5,189.2L202.7,189.1L210.6,189.7L212.7,189.5L214.6,188.7L219.6,185.7L221.5,185.2L223.2,186L225.1,187.5L226.5,189.1L227,190M147.5,248.7L150.4,246.9L151.8,245.8L153,244.2L156,239.2L157.3,237.5L158.9,236L162.3,233.4L164.2,232.3L166.3,231.8L172.4,230.9L174.6,230.8L176.8,230.9L183,231.8L184.9,232.4L186.5,233.8L190.8,239.1L192.1,240.9L193.3,242.7L195.4,246L196.2,247.8L196.2,249.6L195.9,251.3L196,253L196.8,254.5L199.2,257.5M199.2,257.5L196.8,260.4L196.4,261.3L197.4,261.3L199.2,260.7L200.2,260.7L199.9,262.1L198.4,265.1L197.3,267L196.1,268.9L193.5,272.3L192.1,274.1L190.6,275.7L186.7,279.6L185.2,281.2L183.9,282.9L180.8,287.2M199.2,257.5L204,258.7L206.1,258.9L207.9,258.6L209.7,258L211.3,258L212.9,258.9L214.4,260.4L215.6,262L216.6,263.9L217.7,266.8L218.2,268.9L218.4,271.1L218.4,273.7L218.8,275.7L220,277.4L222.1,279.6L223.7,280.7L225.4,281.1L227.2,281.1L228.9,280.7L230.5,279.6L232.6,277.4L234.1,276.4L235.4,276.4L237.7,277.6M228.9,190L230.3,196.6L230.9,198.7L231.8,200.6L234.8,205.6L235.8,207.6L236.5,209.7L237.2,212.4L237.8,214.5L238.7,216.5L240.2,219.6L241.3,221.5L242.5,223.3L244.3,225.9L245,227.6L244.7,229.1L243.8,230.6L243.2,232.2L243,234.3L243,238.6L243.3,240.6L244.4,242L245.9,243.2L246.9,244.5L247,246.1L246.8,247.8L246.8,249.4L247.6,250.7L248.8,251.9L249.4,253.1L248.8,254.2L247.6,255.4L247,256.6L247.6,257.7L248.8,258.9L249.1,259.9L247.8,260.6L244.2,261.4L242.5,262.2L241.8,263.6L241.5,265.4L241.6,266.8L242.4,267.7L243.6,268.3L244.1,269.1L243.6,270.6L242.4,272.4L241.2,274L240,275.3L237.7,277.6M237.7,277.6L238.9,282.5L239.2,284.6L238.9,286.8L238.2,289.5L237.5,291.5L236.5,293.1L235.4,294.6L235,295.9L236.2,297L239.2,298.5L241.2,299.5L243.3,300.3L246.2,301.4L248,302.4L249.4,303.9L250.6,305.7L251.8,307.3L253.2,308.6L254.7,309.7L255.7,311.2L255.9,313.1L255.4,317.5L255.1,319.6L254.5,321.7L253.4,324.6L252.8,326.7L252.8,328.9L253.5,335.4M245.6,227.7L249.9,224.6L251.8,223.9L253.7,224.3L256.8,225.8L258.7,226.6L260.5,227.1L262.2,227.4L263.7,227.3L264.6,226.5L265.2,225.3L266,224.4L267.5,223.9L269.3,223.6L270.8,223L272.1,221.8L273.3,220.4L274.5,219.2L275.7,218.6L276.8,218.3L277.7,218.7L278,220.2L278,223.7L278.5,225.4L280.2,226.2L282.8,226.5L284.9,226.4L286.7,225.6L290.3,223.3M290.3,223.3L291.6,216.7L292.1,214.6L292.8,212.5L294.7,207.8L295.5,205.7L296.1,203.6L296.7,200.9L297.6,199L299.2,197.6L300,197.1M290.3,223.3L295.5,227.2L297.3,228.5L299,229.9L306,235.1L307.8,236.2L309.5,236.7L311.3,237L313.1,237L315,236.3L318.1,234.8L320.1,234L322.2,233.6L326.6,233.1L328.8,233.2L330.9,233.7L333.8,234.8L335.7,235.8L337.4,237.1L340,239.7M340,275.5L338.4,279.1L337.6,281.1L336.9,283.2L334.8,289.5L334.3,291.7L334.4,293.8L335.5,300L336,302.1L336.8,304.1L338.3,307.2L339.4,309.1L340,310.2M400.5,230L400.2,234.8L399.9,236.6L399.6,237.6L399.1,238.2L398.9,238.8L399,239.6L399.3,240.5L399.8,241.2L400.7,241.7L401.9,242L402.9,242.6L403.4,244L403.7,245.8L403.8,247.6L403.4,249.7L402.7,252.4L402.6,254.4L403.1,256L404,257.5L404.8,258.9L405.4,260.4L406,261.8L406.3,263.4L406,265L405.4,266.8L404.9,268.7L404.7,270.7L404.5,273.4L404.5,275.6L404.7,277.7L405,280.4L405.2,282.6L405.1,284.8L405,287.4L405,289.5L405.4,291.3L406,293.1L406.7,294.7L407.7,296L408.9,297.2L410.2,298.3L411.5,299.5L413,300.7L414.3,301.7L415.1,302.3L416.2,303.2M417.1,230L418.9,232.9L419.6,234.6L420,236.6L420.4,241L420.8,243L421.5,244.6L422.4,246.1L423,247.7L423.3,249.7L424,262.9L424.1,265L424.1,267.2L424.1,280.4L424,282.5L423.8,284.3L423.5,286.1L423.4,287.8L423.5,289.6L423.8,291.4L424.3,293L425,294.5L425.9,296L426.5,297.3L426.7,298.3L426.7,299.2L426.5,299.9L425.9,300.2L424.1,300.5M461.8,230L459.4,232.3L458.4,233.6L457.4,235.2L456.5,237L455.7,238.5L454.8,239.6L453.9,240.5L453.2,241.5L452.7,242.8L452.4,244.3L451.8,245.6L450.4,246.6L448.6,247.5L447.2,248.5L446.3,249.6L445.7,250.7L445.3,252.2L445.1,254.1L444.8,262.8L444.8,265L444.9,267.2L445.8,275.1L445.9,277.3L445.8,279.5L445.4,283.9L445.2,286L445.3,287.8L445.4,289.6L445.5,291.4L445.3,293.5L444.7,298.3M340,241.4L343,245L344.1,246.8L344.8,248.8L345.7,254.1L345.9,256.3L345.5,258.4L344.1,262.9L343.5,265L342.7,267.1L341.6,270L341,271.8L340.6,273.2L340,275.6"/>
<path class="rv" d="M300,153.9L308.4,151.1L310.3,150.1L311.8,148.6L318,139.9L319.1,138.1L320,136.1L321.1,133.2L321.3,131.5L320.2,130.5L318.4,129.9L316.9,129.2L315.8,128.2L314.9,127L314.5,125.7L315.2,124.1L316.4,122.3L317.7,120.8L319.6,119.8L324.2,117.9L326.2,117L328,115.7L333.3,111.5L335.1,110.2L337.1,109.3L347,105.6L349.1,104.9L351.2,104.3L366.2,100.2L368.4,99.8L370.5,99.8L383.7,101.1L385.6,101.8L386.9,103.3L393.6,115.2L394.7,117L396.1,118.8L403.7,127.7L404.9,129.5L405.8,131.5L407.1,136L408,138L409.1,139.8L417.8,150.4L419.2,152.1L420.7,153.7L431.6,164.6L433,166.3L434.2,168.1L439.2,178.2L440.4,180L441.9,181.6L447.2,185.8L448.9,187.2L450.6,188.6L459.5,196.3L461.2,197.7L463,199L473.5,206.9L475.1,208.3L476.7,209.9L479.9,213.6L480.9,215.4L481.1,217.4L480.8,220L480.5,222.2L480.2,224.4L479.6,229.9M321.9,131.1L327.1,120.8L328.2,119L329.7,117.4L335,112.7M300,208.2L306.9,204.1L308.7,202.9L310.5,201.5L317.6,195.6L319.2,194.1L320.5,192.4L327.7,182L329.1,180.9L330.8,181.3L338.4,186L339.9,187.4L340.5,189.4L341.9,209.5L342,211.7L342.1,213.9L342.1,229.9M355.2,156.5L354.4,171L354.9,172.7L356.5,173.5L367.9,175.4L369.7,176.2L370.7,177.9L374.7,192.1L375.5,194.1L376.6,196L386.4,209.9L387.2,211.8L387.1,213.9L386.4,216.6L385.5,218.4L383.8,219.4L377.4,221.5L375.8,222.6L375.1,224.4L374.5,229.9M664.3,176.7L671,187.1L672.2,188.9L673.7,190.5L677.6,194.4L678.9,196.1L679.5,198.1L680.5,204.3L681.1,206.4L682,208.3L685,213.3L686.4,214.9L688.3,215.8L696.3,218.1L698.3,218.9L700.2,219.9L701.9,221.1L703.8,221.8L705.8,221.7L708.6,221L710.6,221L712.3,222L721.2,229.9M658.1,185.4L663.4,189.4L665.2,190.5L667.3,191.2L672.1,192.4M560,272.1L575.6,262.7L577.5,261.5L579.4,260.4L593.2,252.2L595,251L596.9,249.9L610.7,241.6L612.6,240.7L614.8,240.3L619.1,239.9L621.2,240L623.1,240.8L624.9,242L626.7,242.8L628.8,242.9L631.4,242.5L633.6,242.4L635.8,242.6L643.7,243.7L645.7,244.3L647.4,245.6L651.3,249.5L652.6,251.2L653.3,253.2L654.2,257.6L654.2,259.7L653.3,261.5L650.7,265L649.4,266.8L648.2,268.5L645.9,272.1M574,350.9L586.2,343.3L588.1,342.2L590,341.2L601.8,336L603.8,335.2L605.9,334.5L615.7,331.4L617.8,330.7L619.8,329.9L628.1,326.4L630.1,325.5L632.1,324.5L640.4,320.3L642.3,319.3L644.1,318L649.4,313.7L651.1,312.3L652.8,310.9L659.9,305L661.5,303.5L662.8,301.7L666.9,294.8M721.2,230L732,242.4L733.6,243.9L735.3,245.3L743.9,251.5L745.6,252.9L747,254.6L751.5,261.5L752.7,263.3L753.7,265.3L757,271.8L758.2,273.7L759.7,275.2L768.6,282.9L770.4,284.1L772.4,284.9L775.1,285.5L777.2,285.6L778.9,284.6L783.4,280.8M733.5,245.8L727.7,254.5L726.6,256.3L725.8,258.4L723.7,264.7L723.3,266.8L723.8,268.8L725.6,273.5L726.8,275.2L728.5,276.3L731.4,277.4L732.9,278.5L733.2,280.2L732.9,282.3L732.3,284.3L731.3,286.1L726,293.1L724.5,294.5L722.5,295.2L712.9,297.1L710.8,297.1L708.8,296.3L705.5,294.2L703.7,293.7L702,294.5L696.6,298.7L694.9,299.5L693,299.1L689.9,297.6L687.9,296.9L685.7,296.8L679.2,297.5M665.1,315.9L660.9,324.4L660.3,326.4L660.7,328.4L662.6,333.1L663.6,334.9L665.3,336.3L670.3,339.3L672.2,340.3L674.2,341.1L680.6,343.2L682.5,344.1L684.2,345.5L688.1,349.3L689.6,351L690.8,352.8L693.8,357.8L694.7,359.7L695.1,361.9L695.6,366.2L695.6,368.4L695.3,370.6L693.6,378.5L693.5,380.7L693.9,382.8L696,389.1L696.8,391.1L697.9,393L702.5,399.9L703.8,401.7L705.2,403.3L709.1,407.2L710.5,408.8L711.6,410.7L714.2,416.6M860,352.7L849.5,349.7L847.4,349.2L845.2,348.6L835.5,346.2L833.3,345.7L831.2,345.4L821.5,344.2L819.4,343.7L817.4,342.9L814.3,341.4L812.3,340.5L810.2,340L795.2,337.3L793.1,336.9L790.9,336.4L779.4,333.9L777.4,333.1L775.7,331.8L768.3,324.4L766.6,323.2L764.6,322.7L758.4,322.2L756.3,322.3L754.3,323.1L747.6,327L745.9,328.3L744.5,329.9L740.9,335.1L740,337L739.8,339.1L741.1,350.5L741.2,352.6L740.8,354.8L739.3,361L738.6,363.1L737.7,365.1L734.5,371.7L733.6,373.7L732.9,375.8L730.5,385.6L730,387.7L729.6,389.9L727.7,399.6L727.4,401.7L727.2,403.9L726.5,416.6M860,406.1L849.2,399.4L847.4,398.2L845.6,396.9L835.1,389L833.4,387.7L831.7,386.3L824.5,380.3L822.7,379.2L820.7,378.4L811,376L808.8,375.6L806.6,375.7L795.2,376.9L793.1,377.2L790.9,377.5L772.4,380.4L770.3,380.8L768.2,381.5L754.8,386.9L752.8,387.8L751,389L742.3,395.2L740.6,396.6L739.3,398.3L736.4,403.3L735.4,405.3L734.9,407.4L733.5,416.6M86.2,124.1L88.6,115.7L89.3,113.8L90.1,112.4L91,111.2L92.2,110.3L94,109.9L100.2,109.4L102.3,109.1L104.5,108.8L114.2,106.7L116.4,106.4L118.6,106.5L123,107.2L125,107.7L126.9,108.7L132.1,112.3L134,113.5L135.9,114.4L140.6,116.3L142.5,117.3L144,118.8L148.3,124.1L149.7,125.8L151.3,127.3L158.6,134L160.2,135.4L162,136.8L167.1,140.4L169,141.6L170.8,142.8L175.8,145.8L177.7,146.9L179.5,148.2L183,150.8L184.6,152.2L186.2,153.8L189.4,157.5L190.7,159.2L191.7,161.2L194.4,167.6L195.5,169.5L197,171L200.5,173.6L201.9,175L202.8,176.7L203.4,178.4L203.7,180.3L203.6,182.3L202.7,186.8L202,188.8L201,190M239.9,190L240.8,188.9L242.2,187.2L246.4,181.9L247.9,180.3L249.7,179L263.4,170.8L265.3,169.7L267.3,168.7L277.4,163.6L279.3,162.7L281.3,161.7L291.4,156.6L293.4,155.7L295.4,154.8L300,152.7M169.4,220.7L174.5,217.4L176.3,216.2L177.8,214.6L183.7,207.5L185.2,205.8L186.8,204.3L190.5,201.1L192.1,199.6L193.4,197.9L199.2,190M193,247.8L194.8,244.3L195.3,242.5L195.2,240.4L192.6,228.9L192.8,227.1L194.1,225.8L200.7,222.5L202.7,221.5L204.6,220.6L211.2,217.3L213.1,216.2L214.9,214.9L220.2,210.6L221.9,209.2L223.5,207.7L227.4,203.8L228.9,202.3L230.5,200.7L234.4,196.8L235.8,195.2L237.1,193.5L239.5,190M259.6,236.4L260.3,245.6L260.5,247.8L260.8,250L261.9,257.9L262.2,260.1L262.5,262.3L263.8,275.4L263.9,277.6L263.8,279.8L263.3,285.9L263.3,288.1L263.6,290.3L265.2,296.5L265.8,298.6L266.7,300.6L270,307.2L271.1,309.1L272.3,310.9L274.9,314.4L276.2,316.2L277.2,318.1L280.6,324.9M297.3,210.2L300,208.8M342.6,230L342,233.5L342,235.3L342.5,237.3L343.2,239.4L343.8,241.4L344.1,243.4L344.2,245.5L344.5,247.5L345.2,249.6L346.2,252.5L347.2,254.4L348.4,256.2L350,258.1L351.3,259.7L352.5,261.1L353.7,262.4L355,263.4L356.6,263.6L358.4,263.4L359.6,263L359.7,262.1L359.3,260.9L359.2,259.8L359.9,258.5L361.9,255.8M375,230L375,232.3L374.7,233.5L373.6,234.7L372.1,235.9L370.8,237.1L369.9,238.5L369.2,239.9L368.8,241.4L369.2,242.8L369.9,244.3L370.7,245.7L371.4,246.8L372.9,248.8M479.3,230L479.9,234.8L480.3,237L481.1,239L482.8,242.9L484,244.7L485.6,246L490,248.4M396.5,298.3L400,302.7L401.4,304.4L402.9,306L406.6,309.7M490,247.1L495.6,248.7L497.7,249.3L499.7,250.1L504.4,252L506.3,253L508,254.3L511.9,258.2L513.5,259.8L515,261.3L517.2,263.5L518.5,265.2L519.3,267.2L519.9,269.9L520.3,272.1L520.2,274.2L519,283.9L518.8,286.1L518.9,288.3L519.5,297.9L519.4,300.1L519,302.2L517.6,306.7L516.9,308.8L516.2,310.9L514.3,315.6L513.3,317.5L512.2,319.4L509.5,322.9L508.5,324.7L507.9,326.8L506.5,335.1M513.5,317.6L516,322.7L516.9,324.7L517.5,326.8L519.6,335.1M508.2,321.1L497.7,321.1M511.7,328.1L510.8,336M520.5,272.1L527.3,268.7L529.3,268L531.4,267.8L539.3,268.4L541.5,268.6L543.7,269L556.9,271.6L559,271.8L560,271.5"/>
<path d="M396.1,255.4L397.8,255L398.9,261.5L399.8,266.8L400.6,271.2L399.8,276.4L397.4,276L395.4,271.6L396.6,266.8L397,260.7Z" fill="#7c7c7c"/>
<path d="M379.9,265.5L389.1,263.7L390.4,265.2L382.1,267Z" fill="#7c7c7c"/>
<path d="M382.1,276L392.6,272.8L393.6,274.3L382.9,277.1Z" fill="#7c7c7c"/>
<path d="M381,289.6L385.6,290.9L389.1,291.2L392.6,292.6L393.6,290.3L397.1,291.3L396.5,297.9Z" fill="#7c7c7c"/>
<path d="M377.5,254.1L380.5,256.1L379.6,257L377.2,255.4Z" fill="#7c7c7c"/>
<path d="M393.4,281.7L396.1,282.6L396.1,284.8L393.9,283.6Z" fill="#7c7c7c"/>
<path d="M387.8,263.3L390.4,262.4L390.8,264.2L388.6,265Z" fill="#7c7c7c"/>
<path d="M361.9,255.8L368,253.5L373.7,255.2L378.6,259.4L385.6,265L391.7,269.9L396.1,276L398.3,282.6L397.4,290.5L396.5,298.3" fill="none" stroke="#4d5296" stroke-width="1.4" stroke-linecap="round" stroke-linejoin="round"/>
<path d="M372.4,248L373.3,251.9L373.7,255.2" fill="none" stroke="#4d5296" stroke-width="1.4" stroke-linecap="round" stroke-linejoin="round"/>
<rect x="662.5" y="167" width="13.2" height="8.8" fill="#8c8c8c"/>
<path d="M660.5,176.5 q0.5,-5 5,-5.5 q4,0.5 3.5,3.5 q-2,2 -5,2 q-1.5,2.5 -3.5,0z" fill="#7d7d7d" stroke="#555" stroke-width=".5"/>
<path d="M477.4,219.8 L480.2,219.3 L481.3,225.4 L480.7,233.7 L479.1,232 L476.9,225.4z" fill="#5b6187"/>
<path class="dt" d="M26.5,49.3h0m9.31,0h0m9.31,0h0m9.31,0h0m9.31,0h0m9.31,0h0m9.31,0h0m37.22,0h0m9.31,0h0m9.31,0h0m9.31,0h0m9.31,0h0m9.31,0h0m9.31,0h0m9.31,0h0m9.31,0h0m9.31,0h0m9.31,0h0m9.31,0h0m9.31,0h0m9.31,0h0m9.31,0h0m9.31,0h0m9.31,0h0m9.31,0h0m9.31,0h0m9.31,0h0m9.31,0h0m9.31,0h0m9.31,0h0m9.31,0h0m9.31,0h0m9.31,0h0m9.31,0h0m307.1,0h0m9.31,0h0m9.31,0h0m9.31,0h0m9.31,0h0M26.5,58.6h0m9.31,0h0m9.31,0h0m9.31,0h0m9.31,0h0m9.31,0h0m9.31,0h0m65.14,0h0m18.61,0h0m9.31,0h0m9.31,0h0m9.31,0h0m9.31,0h0m9.31,0h0m9.31,0h0m9.31,0h0m9.31,0h0m9.31,0h0m9.31,0h0m9.31,0h0m9.31,0h0m9.31,0h0m9.31,0h0m9.31,0h0m9.31,0h0m9.31,0h0m9.31,0h0m9.31,0h0m9.31,0h0m9.31,0h0m288.49,0h0m9.31,0h0m9.31,0h0m9.31,0h0m9.31,0h0m9.31,0h0m9.31,0h0m9.31,0h0M26.5,67.9h0m9.31,0h0m9.31,0h0m9.31,0h0m9.31,0h0m9.31,0h0m9.31,0h0m9.31,0h0m74.45,0h0m9.31,0h0m9.31,0h0m9.31,0h0m9.31,0h0m9.31,0h0m9.31,0h0m9.31,0h0m9.31,0h0m9.31,0h0m9.31,0h0m9.31,0h0m9.31,0h0m9.31,0h0m9.31,0h0m9.31,0h0m9.31,0h0m9.31,0h0m9.31,0h0m9.31,0h0m9.31,0h0m9.31,0h0m288.49,0h0m9.31,0h0m9.31,0h0m9.31,0h0m9.31,0h0m9.31,0h0m93.06,0h0m9.31,0h0m9.31,0h0m9.31,0h0m9.31,0h0m27.92,0h0M26.5,77.2h0m9.31,0h0m9.31,0h0m9.31,0h0m9.31,0h0m9.31,0h0m9.31,0h0m9.31,0h0m65.14,0h0m9.31,0h0m9.31,0h0m18.61,0h0m9.31,0h0m9.31,0h0m18.61,0h0m18.61,0h0m9.31,0h0m9.31,0h0m9.31,0h0m9.31,0h0m9.31,0h0m9.31,0h0m9.31,0h0m9.31,0h0m9.31,0h0m9.31,0h0m9.31,0h0m9.31,0h0m9.31,0h0m18.61,0h0m260.57,0h0m9.31,0h0m27.92,0h0m65.14,0h0m9.31,0h0m9.31,0h0m9.31,0h0m9.31,0h0m9.31,0h0m9.31,0h0m9.31,0h0m9.31,0h0m9.31,0h0m9.31,0h0m9.31,0h0M26.5,86.6h0m9.31,0h0m9.31,0h0m9.31,0h0m9.31,0h0m9.31,0h0m9.31,0h0m9.31,0h0m65.14,0h0m18.61,0h0m9.31,0h0m9.31,0h0m83.75,0h0m9.31,0h0m9.31,0h0m9.31,0h0m9.31,0h0m9.31,0h0m9.31,0h0m9.31,0h0m9.31,0h0m9.31,0h0m9.31,0h0m18.61,0h0m353.63,0h0m9.31,0h0m18.61,0h0m9.31,0h0m27.92,0h0m9.31,0h0m9.31,0h0m9.31,0h0m9.31,0h0m9.31,0h0M26.5,95.9h0m9.31,0h0m9.31,0h0m9.31,0h0m9.31,0h0m9.31,0h0m9.31,0h0m9.31,0h0m55.84,0h0m9.31,0h0m9.31,0h0m27.92,0h0m65.14,0h0m9.31,0h0m9.31,0h0m9.31,0h0m9.31,0h0m9.31,0h0m9.31,0h0m9.31,0h0m9.31,0h0m9.31,0h0m9.31,0h0m9.31,0h0m9.31,0h0m9.31,0h0m37.22,0h0m9.31,0h0m9.31,0h0m9.31,0h0m9.31,0h0m37.22,0h0m344.32,0h0m9.31,0h0m9.31,0h0M26.5,105.2h0m9.31,0h0m9.31,0h0m9.31,0h0m9.31,0h0m9.31,0h0m9.31,0h0m55.84,0h0m130.28,0h0m55.84,0h0m9.31,0h0m18.61,0h0m9.31,0h0m9.31,0h0m9.31,0h0m27.92,0h0m9.31,0h0m9.31,0h0m9.31,0h0m9.31,0h0m9.31,0h0m9.31,0h0m18.61,0h0m9.31,0h0m9.31,0h0m9.31,0h0m297.79,0h0m9.31,0h0m9.31,0h0m9.31,0h0m9.31,0h0m9.31,0h0M26.5,114.5h0m9.31,0h0m9.31,0h0m9.31,0h0m9.31,0h0m9.31,0h0m9.31,0h0m55.84,0h0m18.61,0h0m111.67,0h0m27.92,0h0m9.31,0h0m18.61,0h0m9.31,0h0m9.31,0h0m9.31,0h0m9.31,0h0m9.31,0h0m9.31,0h0m9.31,0h0m9.31,0h0m9.31,0h0m9.31,0h0m9.31,0h0m9.31,0h0m9.31,0h0m9.31,0h0m9.31,0h0m9.31,0h0m9.31,0h0m9.31,0h0m9.31,0h0m9.31,0h0m9.31,0h0m9.31,0h0m9.31,0h0m279.18,0h0m9.31,0h0m9.31,0h0m9.31,0h0m9.31,0h0M26.5,123.8h0m9.31,0h0m9.31,0h0m9.31,0h0m9.31,0h0m9.31,0h0m9.31,0h0m232.65,0h0m9.31,0h0m18.61,0h0m18.61,0h0m9.31,0h0m9.31,0h0m9.31,0h0m9.31,0h0m9.31,0h0m9.31,0h0m9.31,0h0m9.31,0h0m9.31,0h0m9.31,0h0m9.31,0h0m9.31,0h0m9.31,0h0m9.31,0h0m9.31,0h0m9.31,0h0m9.31,0h0m9.31,0h0m9.31,0h0m18.61,0h0m9.31,0h0m9.31,0h0m251.26,0h0m9.31,0h0m9.31,0h0m9.31,0h0M26.5,133.1h0m9.31,0h0m9.31,0h0m9.31,0h0m9.31,0h0m9.31,0h0m251.26,0h0m9.31,0h0m18.61,0h0m9.31,0h0m9.31,0h0m9.31,0h0m9.31,0h0m9.31,0h0m9.31,0h0m9.31,0h0m9.31,0h0m9.31,0h0m9.31,0h0m9.31,0h0m9.31,0h0m9.31,0h0m9.31,0h0m9.31,0h0m9.31,0h0m9.31,0h0m9.31,0h0m9.31,0h0m9.31,0h0m9.31,0h0m9.31,0h0m9.31,0h0m9.31,0h0m93.06,0h0m9.31,0h0m9.31,0h0m27.92,0h0m27.92,0h0m9.31,0h0m83.75,0h0m9.31,0h0m9.31,0h0M26.5,142.4h0m9.31,0h0m9.31,0h0m9.31,0h0m9.31,0h0m269.87,0h0m9.31,0h0m9.31,0h0m9.31,0h0m9.31,0h0m9.31,0h0m9.31,0h0m9.31,0h0m9.31,0h0m9.31,0h0m9.31,0h0m9.31,0h0m9.31,0h0m9.31,0h0m9.31,0h0m9.31,0h0m9.31,0h0m9.31,0h0m9.31,0h0m9.31,0h0m9.31,0h0m9.31,0h0m9.31,0h0m9.31,0h0m37.22,0h0m93.06,0h0m9.31,0h0m18.61,0h0m18.61,0h0m9.31,0h0m9.31,0h0m9.31,0h0m93.06,0h0m9.31,0h0M26.5,151.8h0m9.31,0h0m9.31,0h0m9.31,0h0m9.31,0h0m9.31,0h0m279.18,0h0m9.31,0h0m9.31,0h0m9.31,0h0m18.61,0h0m9.31,0h0m9.31,0h0m9.31,0h0m9.31,0h0m65.14,0h0m9.31,0h0m9.31,0h0m9.31,0h0m9.31,0h0m9.31,0h0m102.37,0h0m27.92,0h0m27.92,0h0m9.31,0h0m9.31,0h0m9.31,0h0m120.98,0h0M26.5,161.1h0m9.31,0h0m9.31,0h0m9.31,0h0m9.31,0h0m9.31,0h0m9.31,0h0m279.18,0h0m9.31,0h0m9.31,0h0m9.31,0h0m9.31,0h0m9.31,0h0m9.31,0h0m232.65,0h0m46.53,0h0m18.61,0h0m139.59,0h0M26.5,170.4h0m9.31,0h0m9.31,0h0m9.31,0h0m9.31,0h0m9.31,0h0m279.18,0h0m9.31,0h0m9.31,0h0m9.31,0h0m9.31,0h0m9.31,0h0m9.31,0h0m260.57,0h0m186.12,0h0M26.5,179.7h0m9.31,0h0m9.31,0h0m9.31,0h0m9.31,0h0m9.31,0h0m251.26,0h0m9.31,0h0m27.92,0h0m493.22,0h0M26.5,189h0m9.31,0h0m9.31,0h0m9.31,0h0m9.31,0h0m9.31,0h0m9.31,0h0M26.5,198.3h0m9.31,0h0m9.31,0h0m9.31,0h0m9.31,0h0m9.31,0h0m9.31,0h0m9.31,0h0m725.87,0h0m9.31,0h0m9.31,0h0m9.31,0h0m9.31,0h0M26.5,207.6h0m9.31,0h0m9.31,0h0m9.31,0h0m9.31,0h0m9.31,0h0m9.31,0h0m18.61,0h0m697.95,0h0m9.31,0h0m9.31,0h0m9.31,0h0m9.31,0h0m9.31,0h0m9.31,0h0M26.5,217h0m9.31,0h0m9.31,0h0m9.31,0h0m9.31,0h0m9.31,0h0m9.31,0h0m9.31,0h0m9.31,0h0m9.31,0h0m670.03,0h0m9.31,0h0m9.31,0h0m9.31,0h0m9.31,0h0m9.31,0h0m9.31,0h0m9.31,0h0m9.31,0h0M26.5,226.3h0m9.31,0h0m9.31,0h0m9.31,0h0m9.31,0h0m9.31,0h0m9.31,0h0m9.31,0h0m9.31,0h0m9.31,0h0m9.31,0h0m139.59,0h0m511.83,0h0m9.31,0h0m9.31,0h0m9.31,0h0m9.31,0h0m9.31,0h0M26.5,235.6h0m9.31,0h0m9.31,0h0m9.31,0h0m9.31,0h0m9.31,0h0m9.31,0h0m9.31,0h0m9.31,0h0m9.31,0h0m9.31,0h0m9.31,0h0m9.31,0h0m102.37,0h0m9.31,0h0m9.31,0h0m307.1,0h0m195.43,0h0m9.31,0h0m9.31,0h0m9.31,0h0M26.5,244.9h0m9.31,0h0m9.31,0h0m9.31,0h0m9.31,0h0m9.31,0h0m9.31,0h0m9.31,0h0m9.31,0h0m9.31,0h0m9.31,0h0m9.31,0h0m9.31,0h0m83.75,0h0m9.31,0h0m37.22,0h0m493.22,0h0m9.31,0h0M26.5,254.2h0m9.31,0h0m9.31,0h0m9.31,0h0m9.31,0h0m9.31,0h0m9.31,0h0m9.31,0h0m9.31,0h0m9.31,0h0m9.31,0h0m9.31,0h0m9.31,0h0m9.31,0h0m18.61,0h0m9.31,0h0m9.31,0h0m9.31,0h0m9.31,0h0m9.31,0h0m9.31,0h0m9.31,0h0m521.14,0h0m9.31,0h0m9.31,0h0m9.31,0h0M26.5,263.5h0m9.31,0h0m9.31,0h0m9.31,0h0m9.31,0h0m9.31,0h0m9.31,0h0m9.31,0h0m9.31,0h0m9.31,0h0m9.31,0h0m9.31,0h0m9.31,0h0m9.31,0h0m9.31,0h0m9.31,0h0m9.31,0h0m18.61,0h0m9.31,0h0m9.31,0h0m9.31,0h0m530.44,0h0m9.31,0h0m9.31,0h0M26.5,272.8h0m9.31,0h0m9.31,0h0m9.31,0h0m9.31,0h0m9.31,0h0m9.31,0h0m9.31,0h0m9.31,0h0m9.31,0h0m9.31,0h0m9.31,0h0m9.31,0h0m9.31,0h0m9.31,0h0m9.31,0h0m9.31,0h0m9.31,0h0m18.61,0h0m9.31,0h0m9.31,0h0m9.31,0h0m9.31,0h0m511.83,0h0m9.31,0h0m9.31,0h0M26.5,282.1h0m9.31,0h0m9.31,0h0m9.31,0h0m9.31,0h0m9.31,0h0m9.31,0h0m9.31,0h0m9.31,0h0m9.31,0h0m9.31,0h0m9.31,0h0m9.31,0h0m9.31,0h0m9.31,0h0m9.31,0h0m9.31,0h0m9.31,0h0m9.31,0h0m9.31,0h0m9.31,0h0m9.31,0h0m9.31,0h0m9.31,0h0m381.55,0h0m130.28,0h0m9.31,0h0m9.31,0h0M26.5,291.5h0m9.31,0h0m9.31,0h0m9.31,0h0m9.31,0h0m9.31,0h0m9.31,0h0m9.31,0h0m9.31,0h0m9.31,0h0m9.31,0h0m9.31,0h0m9.31,0h0m9.31,0h0m9.31,0h0m9.31,0h0m9.31,0h0m9.31,0h0m9.31,0h0m9.31,0h0m9.31,0h0m9.31,0h0m9.31,0h0m9.31,0h0m9.31,0h0m353.63,0h0m55.84,0h0m9.31,0h0m9.31,0h0m9.31,0h0m55.84,0h0m9.31,0h0m9.31,0h0m9.31,0h0M26.5,300.8h0m9.31,0h0m9.31,0h0m9.31,0h0m9.31,0h0m9.31,0h0m9.31,0h0m9.31,0h0m9.31,0h0m9.31,0h0m9.31,0h0m9.31,0h0m9.31,0h0m9.31,0h0m9.31,0h0m9.31,0h0m9.31,0h0m9.31,0h0m9.31,0h0m9.31,0h0m9.31,0h0m9.31,0h0m9.31,0h0m9.31,0h0m195.43,0h0m9.31,0h0m9.31,0h0m9.31,0h0m9.31,0h0m195.43,0h0m9.31,0h0m9.31,0h0m9.31,0h0m37.22,0h0m9.31,0h0m9.31,0h0m9.31,0h0m9.31,0h0m9.31,0h0M26.5,310.1h0m9.31,0h0m9.31,0h0m9.31,0h0m9.31,0h0m9.31,0h0m9.31,0h0m9.31,0h0m9.31,0h0m9.31,0h0m9.31,0h0m9.31,0h0m9.31,0h0m9.31,0h0m9.31,0h0m9.31,0h0m9.31,0h0m9.31,0h0m9.31,0h0m9.31,0h0m9.31,0h0m9.31,0h0m9.31,0h0m9.31,0h0m176.81,0h0m9.31,0h0m9.31,0h0m9.31,0h0m9.31,0h0m9.31,0h0m9.31,0h0m9.31,0h0m186.12,0h0m9.31,0h0m9.31,0h0m9.31,0h0m9.31,0h0m9.31,0h0m9.31,0h0m9.31,0h0m9.31,0h0m9.31,0h0m9.31,0h0m9.31,0h0m9.31,0h0m9.31,0h0M26.5,319.4h0m9.31,0h0m9.31,0h0m9.31,0h0m9.31,0h0m9.31,0h0m9.31,0h0m9.31,0h0m9.31,0h0m9.31,0h0m9.31,0h0m9.31,0h0m9.31,0h0m9.31,0h0m9.31,0h0m9.31,0h0m9.31,0h0m9.31,0h0m9.31,0h0m9.31,0h0m9.31,0h0m9.31,0h0m9.31,0h0m9.31,0h0m9.31,0h0m139.59,0h0m9.31,0h0m9.31,0h0m9.31,0h0m9.31,0h0m9.31,0h0m9.31,0h0m9.31,0h0m9.31,0h0m9.31,0h0m9.31,0h0m9.31,0h0m176.81,0h0m9.31,0h0m9.31,0h0m9.31,0h0m9.31,0h0m9.31,0h0m9.31,0h0m18.61,0h0m9.31,0h0m9.31,0h0m9.31,0h0m9.31,0h0m9.31,0h0M26.5,328.7h0m9.31,0h0m9.31,0h0m9.31,0h0m9.31,0h0m9.31,0h0m9.31,0h0m9.31,0h0m9.31,0h0m9.31,0h0m9.31,0h0m9.31,0h0m9.31,0h0m9.31,0h0m9.31,0h0m9.31,0h0m9.31,0h0m9.31,0h0m9.31,0h0m9.31,0h0m9.31,0h0m9.31,0h0m9.31,0h0m9.31,0h0m9.31,0h0m27.92,0h0m9.31,0h0m9.31,0h0m9.31,0h0m9.31,0h0m9.31,0h0m9.31,0h0m9.31,0h0m9.31,0h0m9.31,0h0m9.31,0h0m9.31,0h0m9.31,0h0m9.31,0h0m9.31,0h0m9.31,0h0m9.31,0h0m9.31,0h0m9.31,0h0m9.31,0h0m9.31,0h0m9.31,0h0m9.31,0h0m9.31,0h0m186.12,0h0m9.31,0h0m9.31,0h0m9.31,0h0m9.31,0h0m9.31,0h0m18.61,0h0m9.31,0h0m9.31,0h0m9.31,0h0m9.31,0h0m9.31,0h0m9.31,0h0M26.5,338h0m9.31,0h0m9.31,0h0m9.31,0h0m9.31,0h0m9.31,0h0m9.31,0h0m9.31,0h0m9.31,0h0m9.31,0h0m9.31,0h0m9.31,0h0m9.31,0h0m9.31,0h0m9.31,0h0m9.31,0h0m9.31,0h0m9.31,0h0m9.31,0h0m9.31,0h0m9.31,0h0m9.31,0h0m9.31,0h0m9.31,0h0m9.31,0h0m9.31,0h0m9.31,0h0m9.31,0h0m9.31,0h0m9.31,0h0m9.31,0h0m9.31,0h0m9.31,0h0m9.31,0h0m9.31,0h0m9.31,0h0m9.31,0h0m9.31,0h0m9.31,0h0m9.31,0h0m9.31,0h0m9.31,0h0m9.31,0h0m9.31,0h0m9.31,0h0m9.31,0h0m9.31,0h0m9.31,0h0m9.31,0h0m9.31,0h0m9.31,0h0m9.31,0h0m9.31,0h0m9.31,0h0m9.31,0h0m9.31,0h0m9.31,0h0m9.31,0h0m120.98,0h0m9.31,0h0m9.31,0h0m9.31,0h0m9.31,0h0m18.61,0h0m27.92,0h0m9.31,0h0m9.31,0h0m9.31,0h0m18.61,0h0m46.53,0h0M26.5,347.3h0m9.31,0h0m9.31,0h0m9.31,0h0m9.31,0h0m9.31,0h0m9.31,0h0m9.31,0h0m9.31,0h0m9.31,0h0m9.31,0h0m9.31,0h0m9.31,0h0m9.31,0h0m9.31,0h0m9.31,0h0m9.31,0h0m9.31,0h0m9.31,0h0m9.31,0h0m9.31,0h0m9.31,0h0m9.31,0h0m9.31,0h0m9.31,0h0m9.31,0h0m9.31,0h0m9.31,0h0m9.31,0h0m9.31,0h0m9.31,0h0m9.31,0h0m9.31,0h0m9.31,0h0m9.31,0h0m9.31,0h0m9.31,0h0m9.31,0h0m9.31,0h0m9.31,0h0m9.31,0h0m9.31,0h0m9.31,0h0m9.31,0h0m9.31,0h0m9.31,0h0m9.31,0h0m9.31,0h0m9.31,0h0m9.31,0h0m9.31,0h0m9.31,0h0m9.31,0h0m9.31,0h0m9.31,0h0m9.31,0h0m9.31,0h0m9.31,0h0m9.31,0h0m93.06,0h0m9.31,0h0m9.31,0h0m9.31,0h0m18.61,0h0m9.31,0h0m9.31,0h0m37.22,0h0m18.61,0h0m9.31,0h0m9.31,0h0m9.31,0h0m9.31,0h0M26.5,356.7h0m9.31,0h0m9.31,0h0m9.31,0h0m9.31,0h0m9.31,0h0m9.31,0h0m9.31,0h0m9.31,0h0m9.31,0h0m9.31,0h0m9.31,0h0m9.31,0h0m9.31,0h0m9.31,0h0m9.31,0h0m9.31,0h0m9.31,0h0m9.31,0h0m9.31,0h0m9.31,0h0m9.31,0h0m9.31,0h0m9.31,0h0m9.31,0h0m9.31,0h0m9.31,0h0m9.31,0h0m9.31,0h0m9.31,0h0m9.31,0h0m9.31,0h0m9.31,0h0m9.31,0h0m9.31,0h0m9.31,0h0m9.31,0h0m9.31,0h0m9.31,0h0m9.31,0h0m9.31,0h0m9.31,0h0m9.31,0h0m9.31,0h0m9.31,0h0m9.31,0h0m9.31,0h0m9.31,0h0m9.31,0h0m9.31,0h0m9.31,0h0m9.31,0h0m9.31,0h0m9.31,0h0m9.31,0h0m9.31,0h0m9.31,0h0m9.31,0h0m9.31,0h0m9.31,0h0m83.75,0h0m9.31,0h0m27.92,0h0m9.31,0h0m18.61,0h0m46.53,0h0m9.31,0h0m9.31,0h0m9.31,0h0m9.31,0h0m9.31,0h0m9.31,0h0m9.31,0h0m9.31,0h0m9.31,0h0M26.5,366h0m9.31,0h0m9.31,0h0m9.31,0h0m9.31,0h0m9.31,0h0m9.31,0h0m9.31,0h0m9.31,0h0m9.31,0h0m9.31,0h0m9.31,0h0m9.31,0h0m9.31,0h0m9.31,0h0m9.31,0h0m9.31,0h0m9.31,0h0m9.31,0h0m9.31,0h0m9.31,0h0m9.31,0h0m9.31,0h0m9.31,0h0m9.31,0h0m9.31,0h0m9.31,0h0m9.31,0h0m9.31,0h0m9.31,0h0m9.31,0h0m9.31,0h0m9.31,0h0m9.31,0h0m9.31,0h0m9.31,0h0m9.31,0h0m9.31,0h0m9.31,0h0m9.31,0h0m9.31,0h0m9.31,0h0m9.31,0h0m9.31,0h0m9.31,0h0m9.31,0h0m9.31,0h0m9.31,0h0m9.31,0h0m9.31,0h0m9.31,0h0m9.31,0h0m9.31,0h0m9.31,0h0m9.31,0h0m9.31,0h0m9.31,0h0m9.31,0h0m9.31,0h0m9.31,0h0m102.37,0h0m9.31,0h0m9.31,0h0m83.75,0h0m9.31,0h0m9.31,0h0m9.31,0h0m9.31,0h0m9.31,0h0m9.31,0h0m9.31,0h0m9.31,0h0M26.5,375.3h0m9.31,0h0m9.31,0h0m9.31,0h0m9.31,0h0m9.31,0h0m9.31,0h0m9.31,0h0m9.31,0h0m9.31,0h0m9.31,0h0m9.31,0h0m9.31,0h0m9.31,0h0m9.31,0h0m9.31,0h0m9.31,0h0m9.31,0h0m9.31,0h0m9.31,0h0m9.31,0h0m9.31,0h0m9.31,0h0m9.31,0h0m9.31,0h0m9.31,0h0m9.31,0h0m9.31,0h0m9.31,0h0m9.31,0h0m9.31,0h0m9.31,0h0m9.31,0h0m9.31,0h0m9.31,0h0m9.31,0h0m9.31,0h0m9.31,0h0m9.31,0h0m9.31,0h0m9.31,0h0m9.31,0h0m9.31,0h0m9.31,0h0m9.31,0h0m9.31,0h0m9.31,0h0m9.31,0h0m9.31,0h0m9.31,0h0m9.31,0h0m9.31,0h0m9.31,0h0m9.31,0h0m9.31,0h0m9.31,0h0m9.31,0h0m9.31,0h0m9.31,0h0m9.31,0h0m93.06,0h0m9.31,0h0m9.31,0h0m18.61,0h0m93.06,0h0m9.31,0h0m9.31,0h0m9.31,0h0m9.31,0h0m9.31,0h0m9.31,0h0M26.5,384.6h0m9.31,0h0m9.31,0h0m9.31,0h0m9.31,0h0m9.31,0h0m9.31,0h0m9.31,0h0m9.31,0h0m9.31,0h0m9.31,0h0m9.31,0h0m9.31,0h0m9.31,0h0m9.31,0h0m9.31,0h0m9.31,0h0m9.31,0h0m9.31,0h0m9.31,0h0m9.31,0h0m9.31,0h0m9.31,0h0m9.31,0h0m9.31,0h0m9.31,0h0m9.31,0h0m9.31,0h0m9.31,0h0m9.31,0h0m9.31,0h0m9.31,0h0m9.31,0h0m9.31,0h0m9.31,0h0m9.31,0h0m9.31,0h0m9.31,0h0m9.31,0h0m9.31,0h0m9.31,0h0m9.31,0h0m9.31,0h0m9.31,0h0m9.31,0h0m9.31,0h0m9.31,0h0m9.31,0h0m9.31,0h0m9.31,0h0m9.31,0h0m9.31,0h0m9.31,0h0m9.31,0h0m9.31,0h0m9.31,0h0m9.31,0h0m9.31,0h0m9.31,0h0m102.37,0h0m9.31,0h0m9.31,0h0m27.92,0h0m9.31,0h0m65.14,0h0m9.31,0h0m9.31,0h0m9.31,0h0m9.31,0h0m9.31,0h0m9.31,0h0m9.31,0h0M26.5,393.9h0m9.31,0h0m9.31,0h0m9.31,0h0m9.31,0h0m9.31,0h0m9.31,0h0m9.31,0h0m9.31,0h0m9.31,0h0m9.31,0h0m9.31,0h0m9.31,0h0m9.31,0h0m9.31,0h0m9.31,0h0m9.31,0h0m9.31,0h0m9.31,0h0m9.31,0h0m9.31,0h0m9.31,0h0m9.31,0h0m9.31,0h0m9.31,0h0m9.31,0h0m9.31,0h0m9.31,0h0m9.31,0h0m9.31,0h0m9.31,0h0m9.31,0h0m9.31,0h0m9.31,0h0m9.31,0h0m9.31,0h0m9.31,0h0m9.31,0h0m9.31,0h0m9.31,0h0m9.31,0h0m9.31,0h0m9.31,0h0m9.31,0h0m9.31,0h0m9.31,0h0m9.31,0h0m9.31,0h0m9.31,0h0m9.31,0h0m9.31,0h0m9.31,0h0m9.31,0h0m9.31,0h0m9.31,0h0m9.31,0h0m9.31,0h0m9.31,0h0m9.31,0h0m120.98,0h0m9.31,0h0m93.06,0h0m9.31,0h0m9.31,0h0m9.31,0h0m9.31,0h0m9.31,0h0m9.31,0h0m9.31,0h0M26.5,403.2h0m9.31,0h0m9.31,0h0m9.31,0h0m9.31,0h0m9.31,0h0m9.31,0h0m9.31,0h0m9.31,0h0m9.31,0h0m9.31,0h0m9.31,0h0m9.31,0h0m9.31,0h0m9.31,0h0m9.31,0h0m9.31,0h0m9.31,0h0m9.31,0h0m9.31,0h0m9.31,0h0m9.31,0h0m9.31,0h0m9.31,0h0m9.31,0h0m9.31,0h0m9.31,0h0m9.31,0h0m9.31,0h0m9.31,0h0m9.31,0h0m9.31,0h0m9.31,0h0m9.31,0h0m9.31,0h0m9.31,0h0m9.31,0h0m9.31,0h0m9.31,0h0m9.31,0h0m9.31,0h0m9.31,0h0m9.31,0h0m9.31,0h0m9.31,0h0m9.31,0h0m9.31,0h0m9.31,0h0m9.31,0h0m9.31,0h0m9.31,0h0m9.31,0h0m9.31,0h0m9.31,0h0m9.31,0h0m9.31,0h0m9.31,0h0m9.31,0h0m9.31,0h0m120.98,0h0m9.31,0h0m83.75,0h0m9.31,0h0m9.31,0h0m9.31,0h0m9.31,0h0m9.31,0h0m9.31,0h0m9.31,0h0m9.31,0h0M26.5,412.5h0m9.31,0h0m9.31,0h0m9.31,0h0m9.31,0h0m9.31,0h0m9.31,0h0m9.31,0h0m9.31,0h0m9.31,0h0m9.31,0h0m9.31,0h0m9.31,0h0m9.31,0h0m9.31,0h0m9.31,0h0m9.31,0h0m9.31,0h0m9.31,0h0m9.31,0h0m9.31,0h0m9.31,0h0m9.31,0h0m9.31,0h0m9.31,0h0m9.31,0h0m9.31,0h0m9.31,0h0m9.31,0h0m9.31,0h0m9.31,0h0m9.31,0h0m9.31,0h0m9.31,0h0m9.31,0h0m9.31,0h0m9.31,0h0m9.31,0h0m9.31,0h0m9.31,0h0m9.31,0h0m9.31,0h0m9.31,0h0m9.31,0h0m9.31,0h0m9.31,0h0m9.31,0h0m9.31,0h0m9.31,0h0m9.31,0h0m9.31,0h0m9.31,0h0m9.31,0h0m9.31,0h0m9.31,0h0m9.31,0h0m9.31,0h0m9.31,0h0m9.31,0h0m111.67,0h0m111.67,0h0m9.31,0h0m9.31,0h0m9.31,0h0m9.31,0h0m18.61,0h0m9.31,0h0"/>
</g>
</g>
<rect class="fr" x="22" y="45" width="838.5" height="372"/>
</g>
<g><path d="M816.8,422.2 L861.2,435.4 L816.8,448.7 Z" fill="#67000d"/><rect x="22" y="422.2" width="40.2" height="26.5" fill="#fff5f0"/><rect x="61.6" y="422.2" width="40.5" height="26.5" fill="#ffece4"/><rect x="101.5" y="422.2" width="40.5" height="26.5" fill="#fee4d8"/><rect x="141.4" y="422.2" width="40.5" height="26.5" fill="#fdd7c6"/><rect x="181.3" y="422.2" width="40.5" height="26.5" fill="#fdc7b2"/><rect x="221.1" y="422.2" width="40.5" height="26.5" fill="#fcb79c"/><rect x="261" y="422.2" width="40.5" height="26.5" fill="#fca689"/><rect x="300.9" y="422.2" width="40.5" height="26.5" fill="#fc9474"/><rect x="340.8" y="422.2" width="40.5" height="26.5" fill="#fc8464"/><rect x="380.7" y="422.2" width="40.5" height="26.5" fill="#fb7252"/><rect x="420.6" y="422.2" width="40.5" height="26.5" fill="#f96044"/><rect x="460.5" y="422.2" width="40.5" height="26.5" fill="#f34c37"/><rect x="500.4" y="422.2" width="40.5" height="26.5" fill="#ed392b"/><rect x="540.3" y="422.2" width="40.5" height="26.5" fill="#dd2a25"/><rect x="580.2" y="422.2" width="40.5" height="26.5" fill="#cf1c1f"/><rect x="620.1" y="422.2" width="40.5" height="26.5" fill="#be151a"/><rect x="659.9" y="422.2" width="40.5" height="26.5" fill="#af1117"/><rect x="699.8" y="422.2" width="40.5" height="26.5" fill="#9a0c14"/><rect x="739.7" y="422.2" width="40.5" height="26.5" fill="#800610"/><rect x="779.6" y="422.2" width="40.2" height="26.5" fill="#67000d"/><path d="M22,422.2 H819.8 L861.2,435.4 L819.8,448.7 H22 Z" fill="none" stroke="#161616" stroke-width="1.45" stroke-linejoin="miter"/><path d="M22,448.7v5.3" stroke="#1a1a1a" stroke-width="1.2"/><text class="k" x="22" y="470.7">0</text><path d="M193.6,448.7v5.3" stroke="#1a1a1a" stroke-width="1.2"/><text class="k" x="193.6" y="470.7">20</text><path d="M365.1,448.7v5.3" stroke="#1a1a1a" stroke-width="1.2"/><text class="k" x="365.1" y="470.7">40</text><path d="M536.7,448.7v5.3" stroke="#1a1a1a" stroke-width="1.2"/><text class="k" x="536.7" y="470.7">60</text><path d="M708.2,448.7v5.3" stroke="#1a1a1a" stroke-width="1.2"/><text class="k" x="708.2" y="470.7">80</text></g>
<g><path d="M816.8,981.4 L861.2,991.5 L816.8,1001.5 Z" fill="#a50026"/><rect x="22" y="981.4" width="26.9" height="20.1" fill="#313695"/><rect x="48.3" y="981.4" width="27.2" height="20.1" fill="#374a9f"/><rect x="74.9" y="981.4" width="27.2" height="20.1" fill="#3e60aa"/><rect x="101.5" y="981.4" width="27.2" height="20.1" fill="#4676b5"/><rect x="128.1" y="981.4" width="27.2" height="20.1" fill="#578abf"/><rect x="154.7" y="981.4" width="27.2" height="20.1" fill="#679ec9"/><rect x="181.3" y="981.4" width="27.2" height="20.1" fill="#76afd2"/><rect x="207.9" y="981.4" width="27.2" height="20.1" fill="#8abeda"/><rect x="234.4" y="981.4" width="27.2" height="20.1" fill="#9dcee3"/><rect x="261" y="981.4" width="27.2" height="20.1" fill="#b0dcea"/><rect x="287.6" y="981.4" width="27.2" height="20.1" fill="#c3e5f0"/><rect x="314.2" y="981.4" width="27.2" height="20.1" fill="#d6eef5"/><rect x="340.8" y="981.4" width="27.2" height="20.1" fill="#e4f4f1"/><rect x="367.4" y="981.4" width="27.2" height="20.1" fill="#eff9dd"/><rect x="394" y="981.4" width="27.2" height="20.1" fill="#fafdc9"/><rect x="420.6" y="981.4" width="27.2" height="20.1" fill="#fffab7"/><rect x="447.2" y="981.4" width="27.2" height="20.1" fill="#feefa6"/><rect x="473.8" y="981.4" width="27.2" height="20.1" fill="#fee496"/><rect x="500.4" y="981.4" width="27.2" height="20.1" fill="#fed687"/><rect x="527" y="981.4" width="27.2" height="20.1" fill="#fdc576"/><rect x="553.6" y="981.4" width="27.2" height="20.1" fill="#fdb366"/><rect x="580.2" y="981.4" width="27.2" height="20.1" fill="#fb9d59"/><rect x="606.8" y="981.4" width="27.2" height="20.1" fill="#f8864f"/><rect x="633.3" y="981.4" width="27.2" height="20.1" fill="#f47044"/><rect x="659.9" y="981.4" width="27.2" height="20.1" fill="#ec5c3b"/><rect x="686.5" y="981.4" width="27.2" height="20.1" fill="#e24731"/><rect x="713.1" y="981.4" width="27.2" height="20.1" fill="#d83128"/><rect x="739.7" y="981.4" width="27.2" height="20.1" fill="#c62027"/><rect x="766.3" y="981.4" width="27.2" height="20.1" fill="#b50f26"/><rect x="792.9" y="981.4" width="26.9" height="20.1" fill="#a50026"/><path d="M22,981.4 H819.8 L861.2,991.5 L819.8,1001.5 H22 Z" fill="none" stroke="#161616" stroke-width="1.45" stroke-linejoin="miter"/><path d="M22,1001.5v5.3" stroke="#1a1a1a" stroke-width="1.2"/><text class="k" x="22" y="1023.5">−30</text><path d="M155,1001.5v5.3" stroke="#1a1a1a" stroke-width="1.2"/><text class="k" x="155" y="1023.5">−20</text><path d="M287.9,1001.5v5.3" stroke="#1a1a1a" stroke-width="1.2"/><text class="k" x="287.9" y="1023.5">−10</text><path d="M420.9,1001.5v5.3" stroke="#1a1a1a" stroke-width="1.2"/><text class="k" x="420.9" y="1023.5">0</text><path d="M553.9,1001.5v5.3" stroke="#1a1a1a" stroke-width="1.2"/><text class="k" x="553.9" y="1023.5">10</text><path d="M686.9,1001.5v5.3" stroke="#1a1a1a" stroke-width="1.2"/><text class="k" x="686.9" y="1023.5">20</text><path d="M819.8,1001.5v5.3" stroke="#1a1a1a" stroke-width="1.2"/><text class="k" x="819.8" y="1023.5">30</text></g>
<g><path d="M917.3,981.4 L874.7,990.8 L917.3,1000.1 Z" fill="#313695"/><path d="M1672.9,981.4 L1715.5,990.8 L1672.9,1000.1 Z" fill="#a50026"/><rect x="914.3" y="981.4" width="25.7" height="18.7" fill="#313695"/><rect x="939.4" y="981.4" width="26" height="18.7" fill="#374a9f"/><rect x="964.8" y="981.4" width="26" height="18.7" fill="#3e60aa"/><rect x="990.2" y="981.4" width="26" height="18.7" fill="#4676b5"/><rect x="1015.5" y="981.4" width="26" height="18.7" fill="#578abf"/><rect x="1040.9" y="981.4" width="26" height="18.7" fill="#679ec9"/><rect x="1066.3" y="981.4" width="26" height="18.7" fill="#76afd2"/><rect x="1091.7" y="981.4" width="26" height="18.7" fill="#8abeda"/><rect x="1117.1" y="981.4" width="26" height="18.7" fill="#9dcee3"/><rect x="1142.5" y="981.4" width="26" height="18.7" fill="#b0dcea"/><rect x="1167.9" y="981.4" width="26" height="18.7" fill="#c3e5f0"/><rect x="1193.3" y="981.4" width="26" height="18.7" fill="#d6eef5"/><rect x="1218.6" y="981.4" width="26" height="18.7" fill="#e4f4f1"/><rect x="1244" y="981.4" width="26" height="18.7" fill="#eff9dd"/><rect x="1269.4" y="981.4" width="26" height="18.7" fill="#fafdc9"/><rect x="1294.8" y="981.4" width="26" height="18.7" fill="#fffab7"/><rect x="1320.2" y="981.4" width="26" height="18.7" fill="#feefa6"/><rect x="1345.6" y="981.4" width="26" height="18.7" fill="#fee496"/><rect x="1371" y="981.4" width="26" height="18.7" fill="#fed687"/><rect x="1396.3" y="981.4" width="26" height="18.7" fill="#fdc576"/><rect x="1421.7" y="981.4" width="26" height="18.7" fill="#fdb366"/><rect x="1447.1" y="981.4" width="26" height="18.7" fill="#fb9d59"/><rect x="1472.5" y="981.4" width="26" height="18.7" fill="#f8864f"/><rect x="1497.9" y="981.4" width="26" height="18.7" fill="#f47044"/><rect x="1523.3" y="981.4" width="26" height="18.7" fill="#ec5c3b"/><rect x="1548.7" y="981.4" width="26" height="18.7" fill="#e24731"/><rect x="1574.1" y="981.4" width="26" height="18.7" fill="#d83128"/><rect x="1599.4" y="981.4" width="26" height="18.7" fill="#c62027"/><rect x="1624.8" y="981.4" width="26" height="18.7" fill="#b50f26"/><rect x="1650.2" y="981.4" width="25.7" height="18.7" fill="#a50026"/><path d="M914.3,981.4 H1675.9 L1715.5,990.8 L1675.9,1000.1 H914.3 L874.7,990.8 Z" fill="none" stroke="#161616" stroke-width="1.45" stroke-linejoin="miter"/><path d="M914.3,1000.1v5.3" stroke="#1a1a1a" stroke-width="1.2"/><text class="k" x="914.3" y="1022.8">−30</text><path d="M1041.2,1000.1v5.3" stroke="#1a1a1a" stroke-width="1.2"/><text class="k" x="1041.2" y="1022.8">−20</text><path d="M1168.2,1000.1v5.3" stroke="#1a1a1a" stroke-width="1.2"/><text class="k" x="1168.2" y="1022.8">−10</text><path d="M1295.1,1000.1v5.3" stroke="#1a1a1a" stroke-width="1.2"/><text class="k" x="1295.1" y="1022.8">0</text><path d="M1422,1000.1v5.3" stroke="#1a1a1a" stroke-width="1.2"/><text class="k" x="1422" y="1022.8">10</text><path d="M1548.9,1000.1v5.3" stroke="#1a1a1a" stroke-width="1.2"/><text class="k" x="1548.9" y="1022.8">20</text><path d="M1675.9,1000.1v5.3" stroke="#1a1a1a" stroke-width="1.2"/><text class="k" x="1675.9" y="1022.8">30</text></g>
</svg>
</body></html>
